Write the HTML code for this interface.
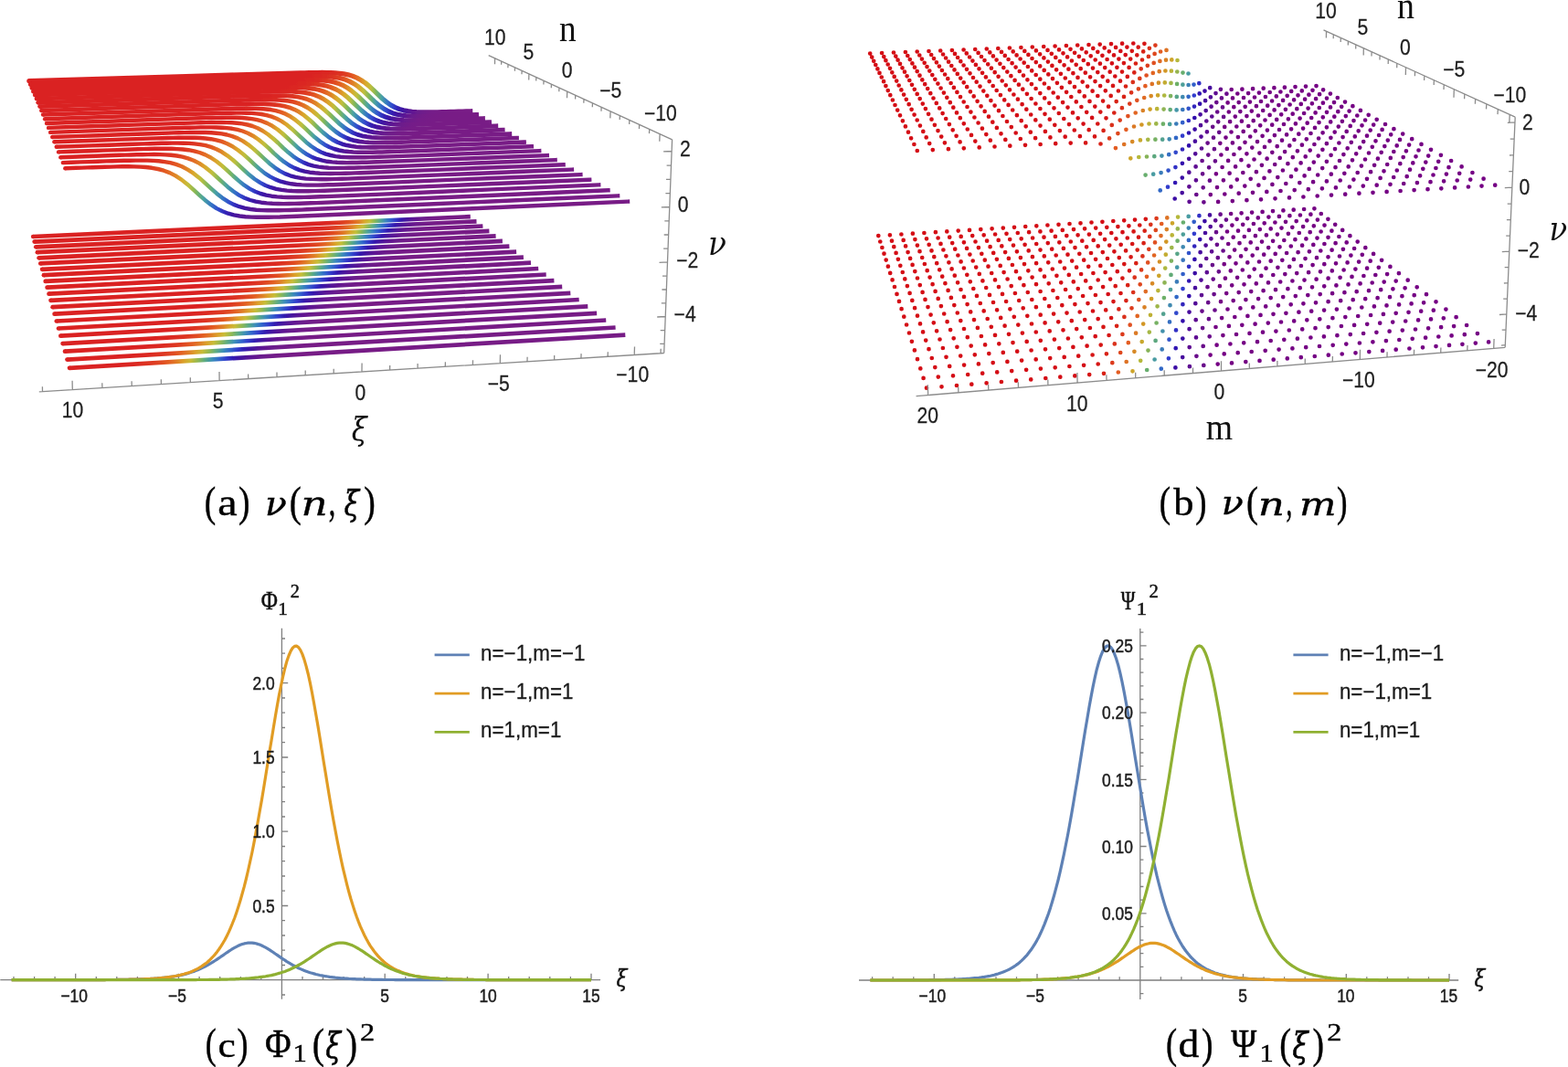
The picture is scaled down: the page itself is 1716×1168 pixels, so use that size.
<!DOCTYPE html>
<html><head><meta charset="utf-8"><title>figure</title><style>html,body{margin:0;padding:0;background:#fff;overflow:hidden}svg{display:block}</style></head><body>
<svg width="1716" height="1168" viewBox="0 0 1716 1168"><defs><linearGradient id="gl20" gradientUnits="userSpaceOnUse" x1="316.6" y1="0" x2="502.2" y2="0"><stop offset="0.000" stop-color="#da2122"/><stop offset="0.032" stop-color="#da2222"/><stop offset="0.064" stop-color="#da2222"/><stop offset="0.095" stop-color="#da2222"/><stop offset="0.127" stop-color="#da2322"/><stop offset="0.159" stop-color="#da2422"/><stop offset="0.190" stop-color="#db2622"/><stop offset="0.222" stop-color="#db2922"/><stop offset="0.253" stop-color="#dc2e22"/><stop offset="0.285" stop-color="#dd3523"/><stop offset="0.316" stop-color="#de3f23"/><stop offset="0.348" stop-color="#e14f23"/><stop offset="0.379" stop-color="#e26525"/><stop offset="0.411" stop-color="#df8128"/><stop offset="0.442" stop-color="#daa72c"/><stop offset="0.473" stop-color="#c4c03a"/><stop offset="0.505" stop-color="#87b858"/><stop offset="0.536" stop-color="#55a88f"/><stop offset="0.567" stop-color="#3b88bb"/><stop offset="0.598" stop-color="#3060cd"/><stop offset="0.629" stop-color="#3136c6"/><stop offset="0.660" stop-color="#3417ac"/><stop offset="0.691" stop-color="#47159e"/><stop offset="0.722" stop-color="#581796"/><stop offset="0.753" stop-color="#631990"/><stop offset="0.784" stop-color="#6b1a8d"/><stop offset="0.815" stop-color="#6f1b8a"/><stop offset="0.846" stop-color="#731b89"/><stop offset="0.877" stop-color="#751b88"/><stop offset="0.908" stop-color="#761c87"/><stop offset="0.939" stop-color="#771c87"/><stop offset="0.969" stop-color="#771c86"/><stop offset="1.000" stop-color="#771c86"/></linearGradient><linearGradient id="gl19" gradientUnits="userSpaceOnUse" x1="307.9" y1="0" x2="496.0" y2="0"><stop offset="0.000" stop-color="#da2122"/><stop offset="0.032" stop-color="#da2222"/><stop offset="0.064" stop-color="#da2222"/><stop offset="0.095" stop-color="#da2222"/><stop offset="0.127" stop-color="#da2322"/><stop offset="0.159" stop-color="#da2422"/><stop offset="0.190" stop-color="#db2622"/><stop offset="0.222" stop-color="#db2922"/><stop offset="0.253" stop-color="#dc2e22"/><stop offset="0.285" stop-color="#dd3523"/><stop offset="0.316" stop-color="#de3f23"/><stop offset="0.348" stop-color="#e14f23"/><stop offset="0.379" stop-color="#e26525"/><stop offset="0.411" stop-color="#df8128"/><stop offset="0.442" stop-color="#daa62c"/><stop offset="0.473" stop-color="#c4c03a"/><stop offset="0.505" stop-color="#88b857"/><stop offset="0.536" stop-color="#55a98e"/><stop offset="0.567" stop-color="#3b88bb"/><stop offset="0.598" stop-color="#3061cd"/><stop offset="0.629" stop-color="#3136c6"/><stop offset="0.660" stop-color="#3417ac"/><stop offset="0.691" stop-color="#47159e"/><stop offset="0.722" stop-color="#581796"/><stop offset="0.753" stop-color="#631990"/><stop offset="0.784" stop-color="#6b1a8d"/><stop offset="0.815" stop-color="#6f1b8a"/><stop offset="0.846" stop-color="#731b89"/><stop offset="0.877" stop-color="#741b88"/><stop offset="0.908" stop-color="#761c87"/><stop offset="0.939" stop-color="#771c87"/><stop offset="0.969" stop-color="#771c86"/><stop offset="1.000" stop-color="#771c86"/></linearGradient><linearGradient id="gl18" gradientUnits="userSpaceOnUse" x1="299.1" y1="0" x2="489.6" y2="0"><stop offset="0.000" stop-color="#da2122"/><stop offset="0.032" stop-color="#da2222"/><stop offset="0.064" stop-color="#da2222"/><stop offset="0.095" stop-color="#da2222"/><stop offset="0.127" stop-color="#da2322"/><stop offset="0.159" stop-color="#da2422"/><stop offset="0.190" stop-color="#db2622"/><stop offset="0.222" stop-color="#db2922"/><stop offset="0.254" stop-color="#dc2e22"/><stop offset="0.285" stop-color="#dd3423"/><stop offset="0.317" stop-color="#de3f23"/><stop offset="0.348" stop-color="#e14e23"/><stop offset="0.379" stop-color="#e26425"/><stop offset="0.411" stop-color="#df8128"/><stop offset="0.442" stop-color="#daa62c"/><stop offset="0.473" stop-color="#c4c03a"/><stop offset="0.505" stop-color="#88b857"/><stop offset="0.536" stop-color="#55a98e"/><stop offset="0.567" stop-color="#3b89bb"/><stop offset="0.598" stop-color="#3061cd"/><stop offset="0.629" stop-color="#3137c7"/><stop offset="0.660" stop-color="#3417ac"/><stop offset="0.692" stop-color="#47159f"/><stop offset="0.723" stop-color="#581796"/><stop offset="0.753" stop-color="#631990"/><stop offset="0.784" stop-color="#6b1a8d"/><stop offset="0.815" stop-color="#6f1b8a"/><stop offset="0.846" stop-color="#721b89"/><stop offset="0.877" stop-color="#741b88"/><stop offset="0.908" stop-color="#761c87"/><stop offset="0.939" stop-color="#771c87"/><stop offset="0.969" stop-color="#771c86"/><stop offset="1.000" stop-color="#771c86"/></linearGradient><linearGradient id="gl17" gradientUnits="userSpaceOnUse" x1="289.9" y1="0" x2="483.1" y2="0"><stop offset="0.000" stop-color="#da2122"/><stop offset="0.032" stop-color="#da2222"/><stop offset="0.064" stop-color="#da2222"/><stop offset="0.095" stop-color="#da2222"/><stop offset="0.127" stop-color="#da2322"/><stop offset="0.159" stop-color="#da2422"/><stop offset="0.190" stop-color="#db2622"/><stop offset="0.222" stop-color="#db2922"/><stop offset="0.254" stop-color="#dc2e22"/><stop offset="0.285" stop-color="#dd3423"/><stop offset="0.317" stop-color="#de3f23"/><stop offset="0.348" stop-color="#e14e23"/><stop offset="0.379" stop-color="#e26425"/><stop offset="0.411" stop-color="#df8028"/><stop offset="0.442" stop-color="#daa62c"/><stop offset="0.473" stop-color="#c5bf3a"/><stop offset="0.505" stop-color="#89b857"/><stop offset="0.536" stop-color="#56a98d"/><stop offset="0.567" stop-color="#3b89ba"/><stop offset="0.598" stop-color="#3062cd"/><stop offset="0.629" stop-color="#3137c7"/><stop offset="0.661" stop-color="#3318ad"/><stop offset="0.692" stop-color="#47159f"/><stop offset="0.723" stop-color="#581796"/><stop offset="0.754" stop-color="#631990"/><stop offset="0.784" stop-color="#6b1a8d"/><stop offset="0.815" stop-color="#6f1b8a"/><stop offset="0.846" stop-color="#721b89"/><stop offset="0.877" stop-color="#741b88"/><stop offset="0.908" stop-color="#761c87"/><stop offset="0.939" stop-color="#771c87"/><stop offset="0.969" stop-color="#771c86"/><stop offset="1.000" stop-color="#771c86"/></linearGradient><linearGradient id="gl16" gradientUnits="userSpaceOnUse" x1="280.6" y1="0" x2="476.4" y2="0"><stop offset="0.000" stop-color="#da2122"/><stop offset="0.032" stop-color="#da2222"/><stop offset="0.064" stop-color="#da2222"/><stop offset="0.095" stop-color="#da2222"/><stop offset="0.127" stop-color="#da2322"/><stop offset="0.159" stop-color="#da2422"/><stop offset="0.190" stop-color="#db2622"/><stop offset="0.222" stop-color="#db2922"/><stop offset="0.254" stop-color="#dc2d22"/><stop offset="0.285" stop-color="#dd3423"/><stop offset="0.317" stop-color="#de3f23"/><stop offset="0.348" stop-color="#e14e23"/><stop offset="0.380" stop-color="#e26425"/><stop offset="0.411" stop-color="#df8028"/><stop offset="0.442" stop-color="#daa52c"/><stop offset="0.474" stop-color="#c5bf39"/><stop offset="0.505" stop-color="#8ab857"/><stop offset="0.536" stop-color="#56a98c"/><stop offset="0.567" stop-color="#3b8aba"/><stop offset="0.598" stop-color="#3062cd"/><stop offset="0.629" stop-color="#3137c7"/><stop offset="0.661" stop-color="#3318ad"/><stop offset="0.692" stop-color="#47159f"/><stop offset="0.723" stop-color="#581796"/><stop offset="0.754" stop-color="#631990"/><stop offset="0.785" stop-color="#6a1a8d"/><stop offset="0.815" stop-color="#6f1b8a"/><stop offset="0.846" stop-color="#721b89"/><stop offset="0.877" stop-color="#741b88"/><stop offset="0.908" stop-color="#761c87"/><stop offset="0.939" stop-color="#771c87"/><stop offset="0.969" stop-color="#771c86"/><stop offset="1.000" stop-color="#771c86"/></linearGradient><linearGradient id="gl15" gradientUnits="userSpaceOnUse" x1="271.0" y1="0" x2="469.5" y2="0"><stop offset="0.000" stop-color="#da2122"/><stop offset="0.032" stop-color="#da2222"/><stop offset="0.064" stop-color="#da2222"/><stop offset="0.095" stop-color="#da2222"/><stop offset="0.127" stop-color="#da2322"/><stop offset="0.159" stop-color="#da2422"/><stop offset="0.190" stop-color="#db2622"/><stop offset="0.222" stop-color="#db2922"/><stop offset="0.254" stop-color="#dc2d22"/><stop offset="0.285" stop-color="#dd3423"/><stop offset="0.317" stop-color="#de3f23"/><stop offset="0.348" stop-color="#e14e23"/><stop offset="0.380" stop-color="#e26425"/><stop offset="0.411" stop-color="#df8028"/><stop offset="0.442" stop-color="#daa52c"/><stop offset="0.474" stop-color="#c5bf39"/><stop offset="0.505" stop-color="#8ab856"/><stop offset="0.536" stop-color="#57a98c"/><stop offset="0.567" stop-color="#3b8aba"/><stop offset="0.598" stop-color="#3063cd"/><stop offset="0.630" stop-color="#3138c8"/><stop offset="0.661" stop-color="#3318ad"/><stop offset="0.692" stop-color="#46159f"/><stop offset="0.723" stop-color="#581796"/><stop offset="0.754" stop-color="#631991"/><stop offset="0.785" stop-color="#6a1a8d"/><stop offset="0.815" stop-color="#6f1b8a"/><stop offset="0.846" stop-color="#721b89"/><stop offset="0.877" stop-color="#741b88"/><stop offset="0.908" stop-color="#761c87"/><stop offset="0.939" stop-color="#771c87"/><stop offset="0.969" stop-color="#771c86"/><stop offset="1.000" stop-color="#771c86"/></linearGradient><linearGradient id="gl14" gradientUnits="userSpaceOnUse" x1="261.2" y1="0" x2="462.4" y2="0"><stop offset="0.000" stop-color="#da2122"/><stop offset="0.032" stop-color="#da2222"/><stop offset="0.064" stop-color="#da2222"/><stop offset="0.095" stop-color="#da2222"/><stop offset="0.127" stop-color="#da2322"/><stop offset="0.159" stop-color="#da2422"/><stop offset="0.191" stop-color="#db2622"/><stop offset="0.222" stop-color="#db2922"/><stop offset="0.254" stop-color="#dc2d22"/><stop offset="0.285" stop-color="#dd3423"/><stop offset="0.317" stop-color="#de3e23"/><stop offset="0.348" stop-color="#e04e23"/><stop offset="0.380" stop-color="#e26324"/><stop offset="0.411" stop-color="#df7f28"/><stop offset="0.442" stop-color="#daa42c"/><stop offset="0.474" stop-color="#c5be39"/><stop offset="0.505" stop-color="#8bb856"/><stop offset="0.536" stop-color="#57aa8b"/><stop offset="0.567" stop-color="#3c8bba"/><stop offset="0.599" stop-color="#3063cd"/><stop offset="0.630" stop-color="#3138c8"/><stop offset="0.661" stop-color="#3318ad"/><stop offset="0.692" stop-color="#46159f"/><stop offset="0.723" stop-color="#571796"/><stop offset="0.754" stop-color="#631991"/><stop offset="0.785" stop-color="#6a1a8d"/><stop offset="0.815" stop-color="#6f1b8a"/><stop offset="0.846" stop-color="#721b89"/><stop offset="0.877" stop-color="#741b88"/><stop offset="0.908" stop-color="#761c87"/><stop offset="0.939" stop-color="#771c87"/><stop offset="0.969" stop-color="#771c86"/><stop offset="1.000" stop-color="#771c86"/></linearGradient><linearGradient id="gl13" gradientUnits="userSpaceOnUse" x1="251.1" y1="0" x2="455.2" y2="0"><stop offset="0.000" stop-color="#da2122"/><stop offset="0.032" stop-color="#da2222"/><stop offset="0.064" stop-color="#da2222"/><stop offset="0.095" stop-color="#da2222"/><stop offset="0.127" stop-color="#da2322"/><stop offset="0.159" stop-color="#da2422"/><stop offset="0.191" stop-color="#db2622"/><stop offset="0.222" stop-color="#db2922"/><stop offset="0.254" stop-color="#dc2d22"/><stop offset="0.285" stop-color="#dd3423"/><stop offset="0.317" stop-color="#de3e23"/><stop offset="0.348" stop-color="#e04d23"/><stop offset="0.380" stop-color="#e26324"/><stop offset="0.411" stop-color="#df7f28"/><stop offset="0.442" stop-color="#daa42c"/><stop offset="0.474" stop-color="#c6be39"/><stop offset="0.505" stop-color="#8bb856"/><stop offset="0.536" stop-color="#58aa8a"/><stop offset="0.567" stop-color="#3c8bba"/><stop offset="0.599" stop-color="#3064cd"/><stop offset="0.630" stop-color="#3138c8"/><stop offset="0.661" stop-color="#3319ae"/><stop offset="0.692" stop-color="#46159f"/><stop offset="0.723" stop-color="#571796"/><stop offset="0.754" stop-color="#631991"/><stop offset="0.785" stop-color="#6a1a8d"/><stop offset="0.816" stop-color="#6f1b8a"/><stop offset="0.846" stop-color="#721b89"/><stop offset="0.877" stop-color="#741b88"/><stop offset="0.908" stop-color="#761c87"/><stop offset="0.939" stop-color="#771c87"/><stop offset="0.969" stop-color="#771c86"/><stop offset="1.000" stop-color="#771c86"/></linearGradient><linearGradient id="gl12" gradientUnits="userSpaceOnUse" x1="240.7" y1="0" x2="447.8" y2="0"><stop offset="0.000" stop-color="#da2122"/><stop offset="0.032" stop-color="#da2222"/><stop offset="0.064" stop-color="#da2222"/><stop offset="0.095" stop-color="#da2222"/><stop offset="0.127" stop-color="#da2322"/><stop offset="0.159" stop-color="#da2422"/><stop offset="0.191" stop-color="#db2622"/><stop offset="0.222" stop-color="#db2922"/><stop offset="0.254" stop-color="#dc2d22"/><stop offset="0.285" stop-color="#dd3423"/><stop offset="0.317" stop-color="#de3e23"/><stop offset="0.348" stop-color="#e04d23"/><stop offset="0.380" stop-color="#e36324"/><stop offset="0.411" stop-color="#df7f27"/><stop offset="0.442" stop-color="#dba42c"/><stop offset="0.474" stop-color="#c6be39"/><stop offset="0.505" stop-color="#8cb855"/><stop offset="0.536" stop-color="#58aa89"/><stop offset="0.567" stop-color="#3c8bb9"/><stop offset="0.599" stop-color="#3064cd"/><stop offset="0.630" stop-color="#3039c9"/><stop offset="0.661" stop-color="#3319ae"/><stop offset="0.692" stop-color="#46159f"/><stop offset="0.723" stop-color="#571796"/><stop offset="0.754" stop-color="#631991"/><stop offset="0.785" stop-color="#6a1a8d"/><stop offset="0.816" stop-color="#6f1b8a"/><stop offset="0.846" stop-color="#721b89"/><stop offset="0.877" stop-color="#741b88"/><stop offset="0.908" stop-color="#761c87"/><stop offset="0.939" stop-color="#771c87"/><stop offset="0.969" stop-color="#771c86"/><stop offset="1.000" stop-color="#771c86"/></linearGradient><linearGradient id="gl11" gradientUnits="userSpaceOnUse" x1="230.0" y1="0" x2="440.1" y2="0"><stop offset="0.000" stop-color="#da2122"/><stop offset="0.032" stop-color="#da2222"/><stop offset="0.064" stop-color="#da2222"/><stop offset="0.096" stop-color="#da2222"/><stop offset="0.127" stop-color="#da2322"/><stop offset="0.159" stop-color="#da2422"/><stop offset="0.191" stop-color="#db2622"/><stop offset="0.222" stop-color="#db2922"/><stop offset="0.254" stop-color="#dc2d22"/><stop offset="0.285" stop-color="#dd3423"/><stop offset="0.317" stop-color="#de3e23"/><stop offset="0.348" stop-color="#e04d23"/><stop offset="0.380" stop-color="#e36324"/><stop offset="0.411" stop-color="#df7e27"/><stop offset="0.443" stop-color="#dba32b"/><stop offset="0.474" stop-color="#c6be39"/><stop offset="0.505" stop-color="#8db855"/><stop offset="0.536" stop-color="#58aa89"/><stop offset="0.568" stop-color="#3c8cb9"/><stop offset="0.599" stop-color="#3065cd"/><stop offset="0.630" stop-color="#3039c9"/><stop offset="0.661" stop-color="#3319ae"/><stop offset="0.692" stop-color="#46159f"/><stop offset="0.723" stop-color="#571797"/><stop offset="0.754" stop-color="#631991"/><stop offset="0.785" stop-color="#6a1a8d"/><stop offset="0.816" stop-color="#6f1b8a"/><stop offset="0.846" stop-color="#721b89"/><stop offset="0.877" stop-color="#741b88"/><stop offset="0.908" stop-color="#761c87"/><stop offset="0.939" stop-color="#771c87"/><stop offset="0.969" stop-color="#771c86"/><stop offset="1.000" stop-color="#771c86"/></linearGradient><linearGradient id="gl10" gradientUnits="userSpaceOnUse" x1="219.0" y1="0" x2="432.3" y2="0"><stop offset="0.000" stop-color="#da2122"/><stop offset="0.032" stop-color="#da2222"/><stop offset="0.064" stop-color="#da2222"/><stop offset="0.096" stop-color="#da2222"/><stop offset="0.127" stop-color="#da2322"/><stop offset="0.159" stop-color="#da2422"/><stop offset="0.191" stop-color="#db2622"/><stop offset="0.222" stop-color="#db2922"/><stop offset="0.254" stop-color="#dc2d22"/><stop offset="0.285" stop-color="#dd3423"/><stop offset="0.317" stop-color="#de3e23"/><stop offset="0.348" stop-color="#e04d23"/><stop offset="0.380" stop-color="#e36224"/><stop offset="0.411" stop-color="#df7e27"/><stop offset="0.443" stop-color="#dba32b"/><stop offset="0.474" stop-color="#c6bd39"/><stop offset="0.505" stop-color="#8db855"/><stop offset="0.536" stop-color="#59aa88"/><stop offset="0.568" stop-color="#3c8cb9"/><stop offset="0.599" stop-color="#3065cd"/><stop offset="0.630" stop-color="#303ac9"/><stop offset="0.661" stop-color="#3319ae"/><stop offset="0.692" stop-color="#45159f"/><stop offset="0.723" stop-color="#571797"/><stop offset="0.754" stop-color="#621991"/><stop offset="0.785" stop-color="#6a1a8d"/><stop offset="0.816" stop-color="#6f1b8a"/><stop offset="0.846" stop-color="#721b89"/><stop offset="0.877" stop-color="#741b88"/><stop offset="0.908" stop-color="#761c87"/><stop offset="0.939" stop-color="#771c87"/><stop offset="0.969" stop-color="#771c86"/><stop offset="1.000" stop-color="#771c86"/></linearGradient><linearGradient id="gl9" gradientUnits="userSpaceOnUse" x1="207.7" y1="0" x2="424.2" y2="0"><stop offset="0.000" stop-color="#da2122"/><stop offset="0.032" stop-color="#da2222"/><stop offset="0.064" stop-color="#da2222"/><stop offset="0.096" stop-color="#da2222"/><stop offset="0.127" stop-color="#da2322"/><stop offset="0.159" stop-color="#da2422"/><stop offset="0.191" stop-color="#db2622"/><stop offset="0.222" stop-color="#db2922"/><stop offset="0.254" stop-color="#dc2d22"/><stop offset="0.286" stop-color="#dd3423"/><stop offset="0.317" stop-color="#de3e23"/><stop offset="0.349" stop-color="#e04d23"/><stop offset="0.380" stop-color="#e36224"/><stop offset="0.411" stop-color="#df7e27"/><stop offset="0.443" stop-color="#dba22b"/><stop offset="0.474" stop-color="#c7bd38"/><stop offset="0.505" stop-color="#8eb854"/><stop offset="0.537" stop-color="#59ab87"/><stop offset="0.568" stop-color="#3c8db9"/><stop offset="0.599" stop-color="#3065cc"/><stop offset="0.630" stop-color="#303aca"/><stop offset="0.661" stop-color="#331aae"/><stop offset="0.692" stop-color="#45159f"/><stop offset="0.723" stop-color="#571797"/><stop offset="0.754" stop-color="#621991"/><stop offset="0.785" stop-color="#6a1a8d"/><stop offset="0.816" stop-color="#6f1b8a"/><stop offset="0.847" stop-color="#721b89"/><stop offset="0.877" stop-color="#741b88"/><stop offset="0.908" stop-color="#761c87"/><stop offset="0.939" stop-color="#771c87"/><stop offset="0.969" stop-color="#771c86"/><stop offset="1.000" stop-color="#771c86"/></linearGradient><linearGradient id="gl8" gradientUnits="userSpaceOnUse" x1="196.1" y1="0" x2="415.9" y2="0"><stop offset="0.000" stop-color="#da2122"/><stop offset="0.032" stop-color="#da2222"/><stop offset="0.064" stop-color="#da2222"/><stop offset="0.096" stop-color="#da2222"/><stop offset="0.127" stop-color="#da2322"/><stop offset="0.159" stop-color="#da2422"/><stop offset="0.191" stop-color="#db2622"/><stop offset="0.222" stop-color="#db2922"/><stop offset="0.254" stop-color="#dc2d22"/><stop offset="0.286" stop-color="#dd3423"/><stop offset="0.317" stop-color="#de3e23"/><stop offset="0.349" stop-color="#e04d23"/><stop offset="0.380" stop-color="#e36224"/><stop offset="0.411" stop-color="#df7d27"/><stop offset="0.443" stop-color="#dba22b"/><stop offset="0.474" stop-color="#c7bd38"/><stop offset="0.505" stop-color="#8fb954"/><stop offset="0.537" stop-color="#5aab87"/><stop offset="0.568" stop-color="#3c8db8"/><stop offset="0.599" stop-color="#3166cc"/><stop offset="0.630" stop-color="#303aca"/><stop offset="0.661" stop-color="#331aaf"/><stop offset="0.692" stop-color="#4514a0"/><stop offset="0.723" stop-color="#571797"/><stop offset="0.754" stop-color="#621991"/><stop offset="0.785" stop-color="#6a1a8d"/><stop offset="0.816" stop-color="#6f1b8a"/><stop offset="0.847" stop-color="#721b89"/><stop offset="0.877" stop-color="#741b88"/><stop offset="0.908" stop-color="#761c87"/><stop offset="0.939" stop-color="#761c87"/><stop offset="0.969" stop-color="#771c86"/><stop offset="1.000" stop-color="#771c86"/></linearGradient><linearGradient id="gl7" gradientUnits="userSpaceOnUse" x1="184.2" y1="0" x2="407.4" y2="0"><stop offset="0.000" stop-color="#da2122"/><stop offset="0.032" stop-color="#da2222"/><stop offset="0.064" stop-color="#da2222"/><stop offset="0.096" stop-color="#da2222"/><stop offset="0.127" stop-color="#da2322"/><stop offset="0.159" stop-color="#da2422"/><stop offset="0.191" stop-color="#db2622"/><stop offset="0.222" stop-color="#db2922"/><stop offset="0.254" stop-color="#dc2d22"/><stop offset="0.286" stop-color="#dd3423"/><stop offset="0.317" stop-color="#de3e23"/><stop offset="0.349" stop-color="#e04c23"/><stop offset="0.380" stop-color="#e36224"/><stop offset="0.412" stop-color="#df7d27"/><stop offset="0.443" stop-color="#dba22b"/><stop offset="0.474" stop-color="#c7bd38"/><stop offset="0.505" stop-color="#8fb954"/><stop offset="0.537" stop-color="#5aab86"/><stop offset="0.568" stop-color="#3c8eb8"/><stop offset="0.599" stop-color="#3166cc"/><stop offset="0.630" stop-color="#303bca"/><stop offset="0.661" stop-color="#331aaf"/><stop offset="0.692" stop-color="#4514a0"/><stop offset="0.723" stop-color="#561797"/><stop offset="0.754" stop-color="#621991"/><stop offset="0.785" stop-color="#6a1a8d"/><stop offset="0.816" stop-color="#6f1b8b"/><stop offset="0.847" stop-color="#721b89"/><stop offset="0.877" stop-color="#741b88"/><stop offset="0.908" stop-color="#761c87"/><stop offset="0.939" stop-color="#761c87"/><stop offset="0.969" stop-color="#771c86"/><stop offset="1.000" stop-color="#771c86"/></linearGradient><linearGradient id="gl6" gradientUnits="userSpaceOnUse" x1="171.9" y1="0" x2="398.6" y2="0"><stop offset="0.000" stop-color="#da2122"/><stop offset="0.032" stop-color="#da2222"/><stop offset="0.064" stop-color="#da2222"/><stop offset="0.096" stop-color="#da2222"/><stop offset="0.127" stop-color="#da2322"/><stop offset="0.159" stop-color="#da2422"/><stop offset="0.191" stop-color="#db2622"/><stop offset="0.223" stop-color="#db2922"/><stop offset="0.254" stop-color="#dc2d22"/><stop offset="0.286" stop-color="#dd3323"/><stop offset="0.317" stop-color="#de3d23"/><stop offset="0.349" stop-color="#e04c23"/><stop offset="0.380" stop-color="#e36124"/><stop offset="0.412" stop-color="#df7d27"/><stop offset="0.443" stop-color="#dba12b"/><stop offset="0.474" stop-color="#c7bc38"/><stop offset="0.506" stop-color="#90b953"/><stop offset="0.537" stop-color="#5bab85"/><stop offset="0.568" stop-color="#3d8eb8"/><stop offset="0.599" stop-color="#3166cc"/><stop offset="0.630" stop-color="#303bcb"/><stop offset="0.661" stop-color="#331aaf"/><stop offset="0.692" stop-color="#4414a0"/><stop offset="0.723" stop-color="#561797"/><stop offset="0.754" stop-color="#621991"/><stop offset="0.785" stop-color="#6a1a8d"/><stop offset="0.816" stop-color="#6f1b8b"/><stop offset="0.847" stop-color="#721b89"/><stop offset="0.877" stop-color="#741b88"/><stop offset="0.908" stop-color="#761c87"/><stop offset="0.939" stop-color="#761c87"/><stop offset="0.969" stop-color="#771c86"/><stop offset="1.000" stop-color="#771c86"/></linearGradient><linearGradient id="gl5" gradientUnits="userSpaceOnUse" x1="159.2" y1="0" x2="389.5" y2="0"><stop offset="0.000" stop-color="#da2122"/><stop offset="0.032" stop-color="#da2222"/><stop offset="0.064" stop-color="#da2222"/><stop offset="0.096" stop-color="#da2222"/><stop offset="0.127" stop-color="#da2322"/><stop offset="0.159" stop-color="#da2422"/><stop offset="0.191" stop-color="#db2622"/><stop offset="0.223" stop-color="#db2922"/><stop offset="0.254" stop-color="#dc2d22"/><stop offset="0.286" stop-color="#dd3323"/><stop offset="0.317" stop-color="#de3d23"/><stop offset="0.349" stop-color="#e04c23"/><stop offset="0.380" stop-color="#e36124"/><stop offset="0.412" stop-color="#df7d27"/><stop offset="0.443" stop-color="#dba12b"/><stop offset="0.474" stop-color="#c8bc38"/><stop offset="0.506" stop-color="#90b953"/><stop offset="0.537" stop-color="#5bab84"/><stop offset="0.568" stop-color="#3d8eb8"/><stop offset="0.599" stop-color="#3167cc"/><stop offset="0.630" stop-color="#303bcb"/><stop offset="0.661" stop-color="#331baf"/><stop offset="0.692" stop-color="#4414a0"/><stop offset="0.723" stop-color="#561797"/><stop offset="0.754" stop-color="#621991"/><stop offset="0.785" stop-color="#6a1a8d"/><stop offset="0.816" stop-color="#6f1b8b"/><stop offset="0.847" stop-color="#721b89"/><stop offset="0.877" stop-color="#741b88"/><stop offset="0.908" stop-color="#761c87"/><stop offset="0.939" stop-color="#761c87"/><stop offset="0.969" stop-color="#771c86"/><stop offset="1.000" stop-color="#771c86"/></linearGradient><linearGradient id="gl4" gradientUnits="userSpaceOnUse" x1="146.1" y1="0" x2="380.2" y2="0"><stop offset="0.000" stop-color="#da2122"/><stop offset="0.032" stop-color="#da2222"/><stop offset="0.064" stop-color="#da2222"/><stop offset="0.096" stop-color="#da2222"/><stop offset="0.128" stop-color="#da2322"/><stop offset="0.159" stop-color="#da2422"/><stop offset="0.191" stop-color="#db2622"/><stop offset="0.223" stop-color="#db2922"/><stop offset="0.254" stop-color="#dc2d22"/><stop offset="0.286" stop-color="#dd3323"/><stop offset="0.317" stop-color="#de3d23"/><stop offset="0.349" stop-color="#e04c23"/><stop offset="0.380" stop-color="#e36124"/><stop offset="0.412" stop-color="#df7c27"/><stop offset="0.443" stop-color="#dba02b"/><stop offset="0.474" stop-color="#c8bc38"/><stop offset="0.506" stop-color="#91b953"/><stop offset="0.537" stop-color="#5bac84"/><stop offset="0.568" stop-color="#3d8fb8"/><stop offset="0.599" stop-color="#3167cb"/><stop offset="0.630" stop-color="#303ccb"/><stop offset="0.661" stop-color="#331bb0"/><stop offset="0.692" stop-color="#4414a0"/><stop offset="0.723" stop-color="#561797"/><stop offset="0.754" stop-color="#621991"/><stop offset="0.785" stop-color="#6a1a8d"/><stop offset="0.816" stop-color="#6f1b8b"/><stop offset="0.847" stop-color="#721b89"/><stop offset="0.877" stop-color="#741b88"/><stop offset="0.908" stop-color="#761c87"/><stop offset="0.939" stop-color="#761c87"/><stop offset="0.969" stop-color="#771c86"/><stop offset="1.000" stop-color="#771c86"/></linearGradient><linearGradient id="gl3" gradientUnits="userSpaceOnUse" x1="132.6" y1="0" x2="370.6" y2="0"><stop offset="0.000" stop-color="#da2122"/><stop offset="0.032" stop-color="#da2222"/><stop offset="0.064" stop-color="#da2222"/><stop offset="0.096" stop-color="#da2222"/><stop offset="0.128" stop-color="#da2322"/><stop offset="0.159" stop-color="#da2422"/><stop offset="0.191" stop-color="#db2622"/><stop offset="0.223" stop-color="#db2922"/><stop offset="0.254" stop-color="#dc2d22"/><stop offset="0.286" stop-color="#dd3323"/><stop offset="0.317" stop-color="#de3d23"/><stop offset="0.349" stop-color="#e04c23"/><stop offset="0.380" stop-color="#e36124"/><stop offset="0.412" stop-color="#df7c27"/><stop offset="0.443" stop-color="#dba02b"/><stop offset="0.475" stop-color="#c8bc37"/><stop offset="0.506" stop-color="#92b953"/><stop offset="0.537" stop-color="#5cac83"/><stop offset="0.568" stop-color="#3d8fb7"/><stop offset="0.599" stop-color="#3167cb"/><stop offset="0.630" stop-color="#303ccb"/><stop offset="0.661" stop-color="#331bb0"/><stop offset="0.692" stop-color="#4414a0"/><stop offset="0.723" stop-color="#561797"/><stop offset="0.754" stop-color="#621991"/><stop offset="0.785" stop-color="#6a1a8d"/><stop offset="0.816" stop-color="#6f1b8b"/><stop offset="0.847" stop-color="#721b89"/><stop offset="0.878" stop-color="#741b88"/><stop offset="0.908" stop-color="#761c87"/><stop offset="0.939" stop-color="#761c87"/><stop offset="0.969" stop-color="#771c86"/><stop offset="1.000" stop-color="#771c86"/></linearGradient><linearGradient id="gl2" gradientUnits="userSpaceOnUse" x1="118.7" y1="0" x2="360.7" y2="0"><stop offset="0.000" stop-color="#da2122"/><stop offset="0.032" stop-color="#da2222"/><stop offset="0.064" stop-color="#da2222"/><stop offset="0.096" stop-color="#da2222"/><stop offset="0.128" stop-color="#da2322"/><stop offset="0.159" stop-color="#da2422"/><stop offset="0.191" stop-color="#db2622"/><stop offset="0.223" stop-color="#db2922"/><stop offset="0.254" stop-color="#dc2d22"/><stop offset="0.286" stop-color="#dd3323"/><stop offset="0.318" stop-color="#de3d23"/><stop offset="0.349" stop-color="#e04c23"/><stop offset="0.381" stop-color="#e36124"/><stop offset="0.412" stop-color="#df7c27"/><stop offset="0.443" stop-color="#db9f2b"/><stop offset="0.475" stop-color="#c8bb37"/><stop offset="0.506" stop-color="#92b952"/><stop offset="0.537" stop-color="#5cac82"/><stop offset="0.568" stop-color="#3d90b7"/><stop offset="0.599" stop-color="#3168cb"/><stop offset="0.630" stop-color="#303dcc"/><stop offset="0.662" stop-color="#331cb0"/><stop offset="0.693" stop-color="#4414a0"/><stop offset="0.723" stop-color="#561797"/><stop offset="0.754" stop-color="#621991"/><stop offset="0.785" stop-color="#6a1a8d"/><stop offset="0.816" stop-color="#6f1b8b"/><stop offset="0.847" stop-color="#721b89"/><stop offset="0.878" stop-color="#741b88"/><stop offset="0.908" stop-color="#761c87"/><stop offset="0.939" stop-color="#761c87"/><stop offset="0.969" stop-color="#771c86"/><stop offset="1.000" stop-color="#771c86"/></linearGradient><linearGradient id="gl1" gradientUnits="userSpaceOnUse" x1="104.3" y1="0" x2="350.5" y2="0"><stop offset="0.000" stop-color="#da2122"/><stop offset="0.032" stop-color="#da2222"/><stop offset="0.064" stop-color="#da2222"/><stop offset="0.096" stop-color="#da2222"/><stop offset="0.128" stop-color="#da2322"/><stop offset="0.159" stop-color="#da2422"/><stop offset="0.191" stop-color="#db2622"/><stop offset="0.223" stop-color="#db2922"/><stop offset="0.254" stop-color="#dc2d22"/><stop offset="0.286" stop-color="#dd3323"/><stop offset="0.318" stop-color="#de3d23"/><stop offset="0.349" stop-color="#e04b23"/><stop offset="0.381" stop-color="#e36024"/><stop offset="0.412" stop-color="#e07b27"/><stop offset="0.443" stop-color="#db9f2b"/><stop offset="0.475" stop-color="#c8bb37"/><stop offset="0.506" stop-color="#93b952"/><stop offset="0.537" stop-color="#5dac82"/><stop offset="0.568" stop-color="#3d90b7"/><stop offset="0.599" stop-color="#3168cb"/><stop offset="0.631" stop-color="#303dcc"/><stop offset="0.662" stop-color="#331cb0"/><stop offset="0.693" stop-color="#4314a0"/><stop offset="0.724" stop-color="#561797"/><stop offset="0.754" stop-color="#621991"/><stop offset="0.785" stop-color="#6a1a8d"/><stop offset="0.816" stop-color="#6f1b8b"/><stop offset="0.847" stop-color="#721b89"/><stop offset="0.878" stop-color="#741b88"/><stop offset="0.908" stop-color="#761c87"/><stop offset="0.939" stop-color="#761c87"/><stop offset="0.969" stop-color="#771c86"/><stop offset="1.000" stop-color="#771c86"/></linearGradient><linearGradient id="gl0" gradientUnits="userSpaceOnUse" x1="89.5" y1="0" x2="339.9" y2="0"><stop offset="0.000" stop-color="#da2122"/><stop offset="0.032" stop-color="#da2222"/><stop offset="0.064" stop-color="#da2222"/><stop offset="0.096" stop-color="#da2222"/><stop offset="0.128" stop-color="#da2322"/><stop offset="0.159" stop-color="#da2422"/><stop offset="0.191" stop-color="#db2622"/><stop offset="0.223" stop-color="#db2822"/><stop offset="0.255" stop-color="#dc2d22"/><stop offset="0.286" stop-color="#dd3323"/><stop offset="0.318" stop-color="#de3d23"/><stop offset="0.349" stop-color="#e04b23"/><stop offset="0.381" stop-color="#e36024"/><stop offset="0.412" stop-color="#e07b27"/><stop offset="0.443" stop-color="#db9f2b"/><stop offset="0.475" stop-color="#c9bb37"/><stop offset="0.506" stop-color="#94b952"/><stop offset="0.537" stop-color="#5dac81"/><stop offset="0.568" stop-color="#3d91b7"/><stop offset="0.600" stop-color="#3169cb"/><stop offset="0.631" stop-color="#303dcc"/><stop offset="0.662" stop-color="#331cb1"/><stop offset="0.693" stop-color="#4314a0"/><stop offset="0.724" stop-color="#551797"/><stop offset="0.755" stop-color="#621991"/><stop offset="0.785" stop-color="#6a1a8d"/><stop offset="0.816" stop-color="#6f1b8b"/><stop offset="0.847" stop-color="#721b89"/><stop offset="0.878" stop-color="#741b88"/><stop offset="0.908" stop-color="#761c87"/><stop offset="0.939" stop-color="#761c87"/><stop offset="0.969" stop-color="#771c86"/><stop offset="1.000" stop-color="#771c86"/></linearGradient><linearGradient id="gu20" gradientUnits="userSpaceOnUse" x1="316.7" y1="0" x2="504.3" y2="0"><stop offset="0.000" stop-color="#da2122"/><stop offset="0.032" stop-color="#da2122"/><stop offset="0.064" stop-color="#da2222"/><stop offset="0.096" stop-color="#da2222"/><stop offset="0.128" stop-color="#da2222"/><stop offset="0.159" stop-color="#da2322"/><stop offset="0.191" stop-color="#db2522"/><stop offset="0.223" stop-color="#db2722"/><stop offset="0.255" stop-color="#db2b22"/><stop offset="0.286" stop-color="#dc3123"/><stop offset="0.318" stop-color="#de3b23"/><stop offset="0.349" stop-color="#e04a23"/><stop offset="0.381" stop-color="#e36124"/><stop offset="0.412" stop-color="#df7f27"/><stop offset="0.443" stop-color="#daa72c"/><stop offset="0.475" stop-color="#bfbf3d"/><stop offset="0.506" stop-color="#7cb65d"/><stop offset="0.537" stop-color="#4aa3a2"/><stop offset="0.568" stop-color="#3679c2"/><stop offset="0.599" stop-color="#304ccd"/><stop offset="0.630" stop-color="#3224b7"/><stop offset="0.661" stop-color="#3f14a2"/><stop offset="0.692" stop-color="#541798"/><stop offset="0.723" stop-color="#621991"/><stop offset="0.753" stop-color="#6a1a8d"/><stop offset="0.784" stop-color="#6f1b8a"/><stop offset="0.815" stop-color="#731b89"/><stop offset="0.846" stop-color="#751c88"/><stop offset="0.877" stop-color="#761c87"/><stop offset="0.908" stop-color="#771c87"/><stop offset="0.939" stop-color="#771c86"/><stop offset="0.969" stop-color="#781c86"/><stop offset="1.000" stop-color="#781c86"/></linearGradient><linearGradient id="gu19" gradientUnits="userSpaceOnUse" x1="307.9" y1="0" x2="498.0" y2="0"><stop offset="0.000" stop-color="#da2122"/><stop offset="0.032" stop-color="#da2122"/><stop offset="0.064" stop-color="#da2222"/><stop offset="0.096" stop-color="#da2222"/><stop offset="0.128" stop-color="#da2222"/><stop offset="0.159" stop-color="#da2322"/><stop offset="0.191" stop-color="#db2522"/><stop offset="0.223" stop-color="#db2722"/><stop offset="0.255" stop-color="#db2b22"/><stop offset="0.286" stop-color="#dc3123"/><stop offset="0.318" stop-color="#de3b23"/><stop offset="0.349" stop-color="#e04a23"/><stop offset="0.381" stop-color="#e36124"/><stop offset="0.412" stop-color="#df7f27"/><stop offset="0.444" stop-color="#daa72c"/><stop offset="0.475" stop-color="#bfbf3d"/><stop offset="0.506" stop-color="#7cb65d"/><stop offset="0.537" stop-color="#4aa3a2"/><stop offset="0.568" stop-color="#3679c2"/><stop offset="0.599" stop-color="#304ccd"/><stop offset="0.630" stop-color="#3224b7"/><stop offset="0.661" stop-color="#3f14a2"/><stop offset="0.692" stop-color="#541798"/><stop offset="0.723" stop-color="#621991"/><stop offset="0.754" stop-color="#6a1a8d"/><stop offset="0.784" stop-color="#6f1b8a"/><stop offset="0.815" stop-color="#731b89"/><stop offset="0.846" stop-color="#751c88"/><stop offset="0.877" stop-color="#761c87"/><stop offset="0.908" stop-color="#771c87"/><stop offset="0.939" stop-color="#771c86"/><stop offset="0.969" stop-color="#781c86"/><stop offset="1.000" stop-color="#781c86"/></linearGradient><linearGradient id="gu18" gradientUnits="userSpaceOnUse" x1="298.9" y1="0" x2="491.6" y2="0"><stop offset="0.000" stop-color="#da2122"/><stop offset="0.032" stop-color="#da2122"/><stop offset="0.064" stop-color="#da2222"/><stop offset="0.096" stop-color="#da2222"/><stop offset="0.128" stop-color="#da2222"/><stop offset="0.159" stop-color="#da2322"/><stop offset="0.191" stop-color="#db2522"/><stop offset="0.223" stop-color="#db2722"/><stop offset="0.255" stop-color="#db2b22"/><stop offset="0.286" stop-color="#dc3123"/><stop offset="0.318" stop-color="#de3b23"/><stop offset="0.349" stop-color="#e04a23"/><stop offset="0.381" stop-color="#e36124"/><stop offset="0.412" stop-color="#df7f27"/><stop offset="0.444" stop-color="#daa72c"/><stop offset="0.475" stop-color="#bfbf3d"/><stop offset="0.506" stop-color="#7cb65d"/><stop offset="0.537" stop-color="#4aa3a2"/><stop offset="0.568" stop-color="#3679c2"/><stop offset="0.599" stop-color="#304ccd"/><stop offset="0.630" stop-color="#3224b7"/><stop offset="0.661" stop-color="#3f14a2"/><stop offset="0.692" stop-color="#541798"/><stop offset="0.723" stop-color="#621991"/><stop offset="0.754" stop-color="#6a1a8d"/><stop offset="0.785" stop-color="#6f1b8a"/><stop offset="0.815" stop-color="#731b89"/><stop offset="0.846" stop-color="#751c88"/><stop offset="0.877" stop-color="#761c87"/><stop offset="0.908" stop-color="#771c87"/><stop offset="0.939" stop-color="#771c86"/><stop offset="0.969" stop-color="#781c86"/><stop offset="1.000" stop-color="#781c86"/></linearGradient><linearGradient id="gu17" gradientUnits="userSpaceOnUse" x1="289.6" y1="0" x2="485.0" y2="0"><stop offset="0.000" stop-color="#da2122"/><stop offset="0.032" stop-color="#da2122"/><stop offset="0.064" stop-color="#da2222"/><stop offset="0.096" stop-color="#da2222"/><stop offset="0.128" stop-color="#da2222"/><stop offset="0.159" stop-color="#da2322"/><stop offset="0.191" stop-color="#db2522"/><stop offset="0.223" stop-color="#db2722"/><stop offset="0.255" stop-color="#db2b22"/><stop offset="0.286" stop-color="#dc3123"/><stop offset="0.318" stop-color="#de3b23"/><stop offset="0.349" stop-color="#e04a23"/><stop offset="0.381" stop-color="#e36124"/><stop offset="0.412" stop-color="#df7f27"/><stop offset="0.444" stop-color="#daa72c"/><stop offset="0.475" stop-color="#bfbf3d"/><stop offset="0.506" stop-color="#7cb65d"/><stop offset="0.537" stop-color="#4aa3a2"/><stop offset="0.568" stop-color="#3679c2"/><stop offset="0.599" stop-color="#304ccd"/><stop offset="0.630" stop-color="#3224b7"/><stop offset="0.661" stop-color="#3f14a2"/><stop offset="0.692" stop-color="#541798"/><stop offset="0.723" stop-color="#621991"/><stop offset="0.754" stop-color="#6a1a8d"/><stop offset="0.785" stop-color="#6f1b8a"/><stop offset="0.816" stop-color="#731b89"/><stop offset="0.846" stop-color="#751c88"/><stop offset="0.877" stop-color="#761c87"/><stop offset="0.908" stop-color="#771c87"/><stop offset="0.939" stop-color="#771c86"/><stop offset="0.969" stop-color="#781c86"/><stop offset="1.000" stop-color="#781c86"/></linearGradient><linearGradient id="gu16" gradientUnits="userSpaceOnUse" x1="280.2" y1="0" x2="478.2" y2="0"><stop offset="0.000" stop-color="#da2122"/><stop offset="0.032" stop-color="#da2122"/><stop offset="0.064" stop-color="#da2222"/><stop offset="0.096" stop-color="#da2222"/><stop offset="0.128" stop-color="#da2222"/><stop offset="0.159" stop-color="#da2322"/><stop offset="0.191" stop-color="#db2522"/><stop offset="0.223" stop-color="#db2722"/><stop offset="0.255" stop-color="#db2b22"/><stop offset="0.286" stop-color="#dc3123"/><stop offset="0.318" stop-color="#de3b23"/><stop offset="0.349" stop-color="#e04a23"/><stop offset="0.381" stop-color="#e36124"/><stop offset="0.412" stop-color="#df7f27"/><stop offset="0.444" stop-color="#daa72c"/><stop offset="0.475" stop-color="#bfbf3d"/><stop offset="0.506" stop-color="#7cb65d"/><stop offset="0.537" stop-color="#4aa3a2"/><stop offset="0.568" stop-color="#3679c2"/><stop offset="0.599" stop-color="#304ccd"/><stop offset="0.630" stop-color="#3224b7"/><stop offset="0.661" stop-color="#3f14a2"/><stop offset="0.692" stop-color="#541798"/><stop offset="0.723" stop-color="#621991"/><stop offset="0.754" stop-color="#6a1a8d"/><stop offset="0.785" stop-color="#6f1b8a"/><stop offset="0.816" stop-color="#731b89"/><stop offset="0.846" stop-color="#751c88"/><stop offset="0.877" stop-color="#761c87"/><stop offset="0.908" stop-color="#771c87"/><stop offset="0.939" stop-color="#771c86"/><stop offset="0.969" stop-color="#781c86"/><stop offset="1.000" stop-color="#781c86"/></linearGradient><linearGradient id="gu15" gradientUnits="userSpaceOnUse" x1="270.4" y1="0" x2="471.3" y2="0"><stop offset="0.000" stop-color="#da2122"/><stop offset="0.032" stop-color="#da2122"/><stop offset="0.064" stop-color="#da2222"/><stop offset="0.096" stop-color="#da2222"/><stop offset="0.128" stop-color="#da2222"/><stop offset="0.159" stop-color="#da2322"/><stop offset="0.191" stop-color="#db2522"/><stop offset="0.223" stop-color="#db2722"/><stop offset="0.255" stop-color="#db2b22"/><stop offset="0.286" stop-color="#dc3123"/><stop offset="0.318" stop-color="#de3b23"/><stop offset="0.349" stop-color="#e04a23"/><stop offset="0.381" stop-color="#e36124"/><stop offset="0.412" stop-color="#df7f27"/><stop offset="0.444" stop-color="#daa72c"/><stop offset="0.475" stop-color="#bfbf3d"/><stop offset="0.506" stop-color="#7cb65d"/><stop offset="0.537" stop-color="#4aa3a2"/><stop offset="0.568" stop-color="#3679c2"/><stop offset="0.599" stop-color="#304ccd"/><stop offset="0.630" stop-color="#3224b7"/><stop offset="0.661" stop-color="#3f14a2"/><stop offset="0.692" stop-color="#541798"/><stop offset="0.723" stop-color="#621991"/><stop offset="0.754" stop-color="#6a1a8d"/><stop offset="0.785" stop-color="#6f1b8a"/><stop offset="0.816" stop-color="#731b89"/><stop offset="0.846" stop-color="#751c88"/><stop offset="0.877" stop-color="#761c87"/><stop offset="0.908" stop-color="#771c87"/><stop offset="0.939" stop-color="#771c86"/><stop offset="0.969" stop-color="#781c86"/><stop offset="1.000" stop-color="#781c86"/></linearGradient><linearGradient id="gu14" gradientUnits="userSpaceOnUse" x1="260.4" y1="0" x2="464.2" y2="0"><stop offset="0.000" stop-color="#da2122"/><stop offset="0.032" stop-color="#da2122"/><stop offset="0.064" stop-color="#da2222"/><stop offset="0.096" stop-color="#da2222"/><stop offset="0.128" stop-color="#da2222"/><stop offset="0.159" stop-color="#da2322"/><stop offset="0.191" stop-color="#db2522"/><stop offset="0.223" stop-color="#db2722"/><stop offset="0.255" stop-color="#db2b22"/><stop offset="0.286" stop-color="#dc3123"/><stop offset="0.318" stop-color="#de3b23"/><stop offset="0.349" stop-color="#e04a23"/><stop offset="0.381" stop-color="#e36124"/><stop offset="0.412" stop-color="#df7f27"/><stop offset="0.444" stop-color="#daa72c"/><stop offset="0.475" stop-color="#bfbf3d"/><stop offset="0.506" stop-color="#7cb65d"/><stop offset="0.537" stop-color="#4aa3a2"/><stop offset="0.568" stop-color="#3679c2"/><stop offset="0.599" stop-color="#304ccd"/><stop offset="0.630" stop-color="#3224b7"/><stop offset="0.661" stop-color="#3f14a2"/><stop offset="0.692" stop-color="#541798"/><stop offset="0.723" stop-color="#621991"/><stop offset="0.754" stop-color="#6a1a8d"/><stop offset="0.785" stop-color="#6f1b8a"/><stop offset="0.816" stop-color="#731b89"/><stop offset="0.847" stop-color="#751c88"/><stop offset="0.877" stop-color="#761c87"/><stop offset="0.908" stop-color="#771c87"/><stop offset="0.939" stop-color="#771c86"/><stop offset="0.969" stop-color="#781c86"/><stop offset="1.000" stop-color="#781c86"/></linearGradient><linearGradient id="gu13" gradientUnits="userSpaceOnUse" x1="250.1" y1="0" x2="456.9" y2="0"><stop offset="0.000" stop-color="#da2122"/><stop offset="0.032" stop-color="#da2122"/><stop offset="0.064" stop-color="#da2222"/><stop offset="0.096" stop-color="#da2222"/><stop offset="0.128" stop-color="#da2222"/><stop offset="0.159" stop-color="#da2322"/><stop offset="0.191" stop-color="#db2522"/><stop offset="0.223" stop-color="#db2722"/><stop offset="0.255" stop-color="#db2b22"/><stop offset="0.286" stop-color="#dc3123"/><stop offset="0.318" stop-color="#de3b23"/><stop offset="0.349" stop-color="#e04a23"/><stop offset="0.381" stop-color="#e36124"/><stop offset="0.412" stop-color="#df7f27"/><stop offset="0.444" stop-color="#daa72c"/><stop offset="0.475" stop-color="#bfbf3d"/><stop offset="0.506" stop-color="#7cb65d"/><stop offset="0.537" stop-color="#4aa3a2"/><stop offset="0.568" stop-color="#3679c2"/><stop offset="0.599" stop-color="#304ccd"/><stop offset="0.630" stop-color="#3224b7"/><stop offset="0.661" stop-color="#3f14a2"/><stop offset="0.692" stop-color="#541798"/><stop offset="0.723" stop-color="#621991"/><stop offset="0.754" stop-color="#6a1a8d"/><stop offset="0.785" stop-color="#6f1b8a"/><stop offset="0.816" stop-color="#731b89"/><stop offset="0.847" stop-color="#751c88"/><stop offset="0.877" stop-color="#761c87"/><stop offset="0.908" stop-color="#771c87"/><stop offset="0.939" stop-color="#771c86"/><stop offset="0.969" stop-color="#781c86"/><stop offset="1.000" stop-color="#781c86"/></linearGradient><linearGradient id="gu12" gradientUnits="userSpaceOnUse" x1="239.5" y1="0" x2="449.4" y2="0"><stop offset="0.000" stop-color="#da2122"/><stop offset="0.032" stop-color="#da2122"/><stop offset="0.064" stop-color="#da2222"/><stop offset="0.096" stop-color="#da2222"/><stop offset="0.128" stop-color="#da2222"/><stop offset="0.159" stop-color="#da2322"/><stop offset="0.191" stop-color="#db2522"/><stop offset="0.223" stop-color="#db2722"/><stop offset="0.255" stop-color="#db2b22"/><stop offset="0.286" stop-color="#dc3123"/><stop offset="0.318" stop-color="#de3b23"/><stop offset="0.350" stop-color="#e04a23"/><stop offset="0.381" stop-color="#e36124"/><stop offset="0.412" stop-color="#df7f27"/><stop offset="0.444" stop-color="#daa72c"/><stop offset="0.475" stop-color="#bfbf3d"/><stop offset="0.506" stop-color="#7cb65d"/><stop offset="0.537" stop-color="#4aa3a2"/><stop offset="0.569" stop-color="#3679c2"/><stop offset="0.600" stop-color="#304ccd"/><stop offset="0.631" stop-color="#3224b7"/><stop offset="0.662" stop-color="#3f14a2"/><stop offset="0.692" stop-color="#541798"/><stop offset="0.723" stop-color="#621991"/><stop offset="0.754" stop-color="#6a1a8d"/><stop offset="0.785" stop-color="#6f1b8a"/><stop offset="0.816" stop-color="#731b89"/><stop offset="0.847" stop-color="#751c88"/><stop offset="0.877" stop-color="#761c87"/><stop offset="0.908" stop-color="#771c87"/><stop offset="0.939" stop-color="#771c86"/><stop offset="0.969" stop-color="#781c86"/><stop offset="1.000" stop-color="#781c86"/></linearGradient><linearGradient id="gu11" gradientUnits="userSpaceOnUse" x1="228.7" y1="0" x2="441.7" y2="0"><stop offset="0.000" stop-color="#da2122"/><stop offset="0.032" stop-color="#da2122"/><stop offset="0.064" stop-color="#da2222"/><stop offset="0.096" stop-color="#da2222"/><stop offset="0.128" stop-color="#da2222"/><stop offset="0.160" stop-color="#da2322"/><stop offset="0.191" stop-color="#db2522"/><stop offset="0.223" stop-color="#db2722"/><stop offset="0.255" stop-color="#db2b22"/><stop offset="0.286" stop-color="#dc3123"/><stop offset="0.318" stop-color="#de3b23"/><stop offset="0.350" stop-color="#e04a23"/><stop offset="0.381" stop-color="#e36124"/><stop offset="0.412" stop-color="#df7f27"/><stop offset="0.444" stop-color="#daa72c"/><stop offset="0.475" stop-color="#bfbf3d"/><stop offset="0.506" stop-color="#7cb65d"/><stop offset="0.538" stop-color="#4aa3a2"/><stop offset="0.569" stop-color="#3679c2"/><stop offset="0.600" stop-color="#304ccd"/><stop offset="0.631" stop-color="#3224b7"/><stop offset="0.662" stop-color="#3f14a2"/><stop offset="0.693" stop-color="#541798"/><stop offset="0.723" stop-color="#621991"/><stop offset="0.754" stop-color="#6a1a8d"/><stop offset="0.785" stop-color="#6f1b8a"/><stop offset="0.816" stop-color="#731b89"/><stop offset="0.847" stop-color="#751c88"/><stop offset="0.877" stop-color="#761c87"/><stop offset="0.908" stop-color="#771c87"/><stop offset="0.939" stop-color="#771c86"/><stop offset="0.969" stop-color="#781c86"/><stop offset="1.000" stop-color="#781c86"/></linearGradient><linearGradient id="gu10" gradientUnits="userSpaceOnUse" x1="217.5" y1="0" x2="433.7" y2="0"><stop offset="0.000" stop-color="#da2122"/><stop offset="0.032" stop-color="#da2122"/><stop offset="0.064" stop-color="#da2222"/><stop offset="0.096" stop-color="#da2222"/><stop offset="0.128" stop-color="#da2222"/><stop offset="0.160" stop-color="#da2322"/><stop offset="0.191" stop-color="#db2522"/><stop offset="0.223" stop-color="#db2722"/><stop offset="0.255" stop-color="#db2b22"/><stop offset="0.286" stop-color="#dc3123"/><stop offset="0.318" stop-color="#de3b23"/><stop offset="0.350" stop-color="#e04a23"/><stop offset="0.381" stop-color="#e36124"/><stop offset="0.413" stop-color="#df7f27"/><stop offset="0.444" stop-color="#daa72c"/><stop offset="0.475" stop-color="#bfbf3d"/><stop offset="0.507" stop-color="#7cb65d"/><stop offset="0.538" stop-color="#4aa3a2"/><stop offset="0.569" stop-color="#3679c2"/><stop offset="0.600" stop-color="#304ccd"/><stop offset="0.631" stop-color="#3224b7"/><stop offset="0.662" stop-color="#3f14a2"/><stop offset="0.693" stop-color="#541798"/><stop offset="0.724" stop-color="#621991"/><stop offset="0.754" stop-color="#6a1a8d"/><stop offset="0.785" stop-color="#6f1b8a"/><stop offset="0.816" stop-color="#731b89"/><stop offset="0.847" stop-color="#751c88"/><stop offset="0.878" stop-color="#761c87"/><stop offset="0.908" stop-color="#771c87"/><stop offset="0.939" stop-color="#771c86"/><stop offset="0.969" stop-color="#781c86"/><stop offset="1.000" stop-color="#781c86"/></linearGradient><linearGradient id="gu9" gradientUnits="userSpaceOnUse" x1="206.0" y1="0" x2="425.6" y2="0"><stop offset="0.000" stop-color="#da2122"/><stop offset="0.032" stop-color="#da2122"/><stop offset="0.064" stop-color="#da2222"/><stop offset="0.096" stop-color="#da2222"/><stop offset="0.128" stop-color="#da2222"/><stop offset="0.160" stop-color="#da2322"/><stop offset="0.191" stop-color="#db2522"/><stop offset="0.223" stop-color="#db2722"/><stop offset="0.255" stop-color="#db2b22"/><stop offset="0.286" stop-color="#dc3123"/><stop offset="0.318" stop-color="#de3b23"/><stop offset="0.350" stop-color="#e04a23"/><stop offset="0.381" stop-color="#e36124"/><stop offset="0.413" stop-color="#df7f27"/><stop offset="0.444" stop-color="#daa72c"/><stop offset="0.475" stop-color="#bfbf3d"/><stop offset="0.507" stop-color="#7cb65d"/><stop offset="0.538" stop-color="#4aa3a2"/><stop offset="0.569" stop-color="#3679c2"/><stop offset="0.600" stop-color="#304ccd"/><stop offset="0.631" stop-color="#3224b7"/><stop offset="0.662" stop-color="#3f14a2"/><stop offset="0.693" stop-color="#541798"/><stop offset="0.724" stop-color="#621991"/><stop offset="0.755" stop-color="#6a1a8d"/><stop offset="0.785" stop-color="#6f1b8a"/><stop offset="0.816" stop-color="#731b89"/><stop offset="0.847" stop-color="#751c88"/><stop offset="0.878" stop-color="#761c87"/><stop offset="0.908" stop-color="#771c87"/><stop offset="0.939" stop-color="#771c86"/><stop offset="0.969" stop-color="#781c86"/><stop offset="1.000" stop-color="#781c86"/></linearGradient><linearGradient id="gu8" gradientUnits="userSpaceOnUse" x1="194.1" y1="0" x2="417.2" y2="0"><stop offset="0.000" stop-color="#da2122"/><stop offset="0.032" stop-color="#da2122"/><stop offset="0.064" stop-color="#da2222"/><stop offset="0.096" stop-color="#da2222"/><stop offset="0.128" stop-color="#da2222"/><stop offset="0.160" stop-color="#da2322"/><stop offset="0.191" stop-color="#db2522"/><stop offset="0.223" stop-color="#db2722"/><stop offset="0.255" stop-color="#db2b22"/><stop offset="0.286" stop-color="#dc3123"/><stop offset="0.318" stop-color="#de3b23"/><stop offset="0.350" stop-color="#e04a23"/><stop offset="0.381" stop-color="#e36124"/><stop offset="0.413" stop-color="#df7f27"/><stop offset="0.444" stop-color="#daa72c"/><stop offset="0.475" stop-color="#bfbf3d"/><stop offset="0.507" stop-color="#7cb65d"/><stop offset="0.538" stop-color="#4aa3a2"/><stop offset="0.569" stop-color="#3679c2"/><stop offset="0.600" stop-color="#304ccd"/><stop offset="0.631" stop-color="#3224b7"/><stop offset="0.662" stop-color="#3f14a2"/><stop offset="0.693" stop-color="#541798"/><stop offset="0.724" stop-color="#621991"/><stop offset="0.755" stop-color="#6a1a8d"/><stop offset="0.786" stop-color="#6f1b8a"/><stop offset="0.816" stop-color="#731b89"/><stop offset="0.847" stop-color="#751c88"/><stop offset="0.878" stop-color="#761c87"/><stop offset="0.908" stop-color="#771c87"/><stop offset="0.939" stop-color="#771c86"/><stop offset="0.969" stop-color="#781c86"/><stop offset="1.000" stop-color="#781c86"/></linearGradient><linearGradient id="gu7" gradientUnits="userSpaceOnUse" x1="181.9" y1="0" x2="408.6" y2="0"><stop offset="0.000" stop-color="#da2122"/><stop offset="0.032" stop-color="#da2122"/><stop offset="0.064" stop-color="#da2222"/><stop offset="0.096" stop-color="#da2222"/><stop offset="0.128" stop-color="#da2222"/><stop offset="0.160" stop-color="#da2322"/><stop offset="0.191" stop-color="#db2522"/><stop offset="0.223" stop-color="#db2722"/><stop offset="0.255" stop-color="#db2b22"/><stop offset="0.286" stop-color="#dc3123"/><stop offset="0.318" stop-color="#de3b23"/><stop offset="0.350" stop-color="#e04a23"/><stop offset="0.381" stop-color="#e36124"/><stop offset="0.413" stop-color="#df7f27"/><stop offset="0.444" stop-color="#daa72c"/><stop offset="0.475" stop-color="#bfbf3d"/><stop offset="0.507" stop-color="#7cb65d"/><stop offset="0.538" stop-color="#4aa3a2"/><stop offset="0.569" stop-color="#3679c2"/><stop offset="0.600" stop-color="#304ccd"/><stop offset="0.631" stop-color="#3224b7"/><stop offset="0.662" stop-color="#3f14a2"/><stop offset="0.693" stop-color="#541798"/><stop offset="0.724" stop-color="#621991"/><stop offset="0.755" stop-color="#6a1a8d"/><stop offset="0.786" stop-color="#6f1b8a"/><stop offset="0.816" stop-color="#731b89"/><stop offset="0.847" stop-color="#751c88"/><stop offset="0.878" stop-color="#761c87"/><stop offset="0.908" stop-color="#771c87"/><stop offset="0.939" stop-color="#771c86"/><stop offset="0.969" stop-color="#781c86"/><stop offset="1.000" stop-color="#781c86"/></linearGradient><linearGradient id="gu6" gradientUnits="userSpaceOnUse" x1="169.3" y1="0" x2="399.7" y2="0"><stop offset="0.000" stop-color="#da2122"/><stop offset="0.032" stop-color="#da2122"/><stop offset="0.064" stop-color="#da2222"/><stop offset="0.096" stop-color="#da2222"/><stop offset="0.128" stop-color="#da2222"/><stop offset="0.160" stop-color="#da2322"/><stop offset="0.191" stop-color="#db2522"/><stop offset="0.223" stop-color="#db2722"/><stop offset="0.255" stop-color="#db2b22"/><stop offset="0.286" stop-color="#dc3123"/><stop offset="0.318" stop-color="#de3b23"/><stop offset="0.350" stop-color="#e04a23"/><stop offset="0.381" stop-color="#e36124"/><stop offset="0.413" stop-color="#df7f27"/><stop offset="0.444" stop-color="#daa72c"/><stop offset="0.476" stop-color="#bfbf3d"/><stop offset="0.507" stop-color="#7cb65d"/><stop offset="0.538" stop-color="#4aa3a2"/><stop offset="0.569" stop-color="#3679c2"/><stop offset="0.600" stop-color="#304ccd"/><stop offset="0.631" stop-color="#3224b7"/><stop offset="0.662" stop-color="#3f14a2"/><stop offset="0.693" stop-color="#541798"/><stop offset="0.724" stop-color="#621991"/><stop offset="0.755" stop-color="#6a1a8d"/><stop offset="0.786" stop-color="#6f1b8a"/><stop offset="0.816" stop-color="#731b89"/><stop offset="0.847" stop-color="#751c88"/><stop offset="0.878" stop-color="#761c87"/><stop offset="0.908" stop-color="#771c87"/><stop offset="0.939" stop-color="#771c86"/><stop offset="0.970" stop-color="#781c86"/><stop offset="1.000" stop-color="#781c86"/></linearGradient><linearGradient id="gu5" gradientUnits="userSpaceOnUse" x1="156.4" y1="0" x2="390.6" y2="0"><stop offset="0.000" stop-color="#da2122"/><stop offset="0.032" stop-color="#da2122"/><stop offset="0.064" stop-color="#da2222"/><stop offset="0.096" stop-color="#da2222"/><stop offset="0.128" stop-color="#da2222"/><stop offset="0.160" stop-color="#da2322"/><stop offset="0.191" stop-color="#db2522"/><stop offset="0.223" stop-color="#db2722"/><stop offset="0.255" stop-color="#db2b22"/><stop offset="0.286" stop-color="#dc3123"/><stop offset="0.318" stop-color="#de3b23"/><stop offset="0.350" stop-color="#e04a23"/><stop offset="0.381" stop-color="#e36124"/><stop offset="0.413" stop-color="#df7f27"/><stop offset="0.444" stop-color="#daa72c"/><stop offset="0.476" stop-color="#bfbf3d"/><stop offset="0.507" stop-color="#7cb65d"/><stop offset="0.538" stop-color="#4aa3a2"/><stop offset="0.569" stop-color="#3679c2"/><stop offset="0.601" stop-color="#304ccd"/><stop offset="0.632" stop-color="#3224b7"/><stop offset="0.663" stop-color="#3f14a2"/><stop offset="0.693" stop-color="#541798"/><stop offset="0.724" stop-color="#621991"/><stop offset="0.755" stop-color="#6a1a8d"/><stop offset="0.786" stop-color="#6f1b8a"/><stop offset="0.817" stop-color="#731b89"/><stop offset="0.847" stop-color="#751c88"/><stop offset="0.878" stop-color="#761c87"/><stop offset="0.908" stop-color="#771c87"/><stop offset="0.939" stop-color="#771c86"/><stop offset="0.970" stop-color="#781c86"/><stop offset="1.000" stop-color="#781c86"/></linearGradient><linearGradient id="gu4" gradientUnits="userSpaceOnUse" x1="143.0" y1="0" x2="381.1" y2="0"><stop offset="0.000" stop-color="#da2122"/><stop offset="0.032" stop-color="#da2122"/><stop offset="0.064" stop-color="#da2222"/><stop offset="0.096" stop-color="#da2222"/><stop offset="0.128" stop-color="#da2222"/><stop offset="0.160" stop-color="#da2322"/><stop offset="0.191" stop-color="#db2522"/><stop offset="0.223" stop-color="#db2722"/><stop offset="0.255" stop-color="#db2b22"/><stop offset="0.286" stop-color="#dc3123"/><stop offset="0.318" stop-color="#de3b23"/><stop offset="0.350" stop-color="#e04a23"/><stop offset="0.381" stop-color="#e36124"/><stop offset="0.413" stop-color="#df7f27"/><stop offset="0.444" stop-color="#daa72c"/><stop offset="0.476" stop-color="#bfbf3d"/><stop offset="0.507" stop-color="#7cb65d"/><stop offset="0.538" stop-color="#4aa3a2"/><stop offset="0.570" stop-color="#3679c2"/><stop offset="0.601" stop-color="#304ccd"/><stop offset="0.632" stop-color="#3224b7"/><stop offset="0.663" stop-color="#3f14a2"/><stop offset="0.694" stop-color="#541798"/><stop offset="0.724" stop-color="#621991"/><stop offset="0.755" stop-color="#6a1a8d"/><stop offset="0.786" stop-color="#6f1b8a"/><stop offset="0.817" stop-color="#731b89"/><stop offset="0.847" stop-color="#751c88"/><stop offset="0.878" stop-color="#761c87"/><stop offset="0.909" stop-color="#771c87"/><stop offset="0.939" stop-color="#771c86"/><stop offset="0.970" stop-color="#781c86"/><stop offset="1.000" stop-color="#781c86"/></linearGradient><linearGradient id="gu3" gradientUnits="userSpaceOnUse" x1="129.2" y1="0" x2="371.4" y2="0"><stop offset="0.000" stop-color="#da2122"/><stop offset="0.032" stop-color="#da2122"/><stop offset="0.064" stop-color="#da2222"/><stop offset="0.096" stop-color="#da2222"/><stop offset="0.128" stop-color="#da2222"/><stop offset="0.160" stop-color="#da2322"/><stop offset="0.191" stop-color="#db2522"/><stop offset="0.223" stop-color="#db2722"/><stop offset="0.255" stop-color="#db2b22"/><stop offset="0.287" stop-color="#dc3123"/><stop offset="0.318" stop-color="#de3b23"/><stop offset="0.350" stop-color="#e04a23"/><stop offset="0.381" stop-color="#e36124"/><stop offset="0.413" stop-color="#df7f27"/><stop offset="0.444" stop-color="#daa72c"/><stop offset="0.476" stop-color="#bfbf3d"/><stop offset="0.507" stop-color="#7cb65d"/><stop offset="0.539" stop-color="#4aa3a2"/><stop offset="0.570" stop-color="#3679c2"/><stop offset="0.601" stop-color="#304ccd"/><stop offset="0.632" stop-color="#3224b7"/><stop offset="0.663" stop-color="#3f14a2"/><stop offset="0.694" stop-color="#541798"/><stop offset="0.725" stop-color="#621991"/><stop offset="0.755" stop-color="#6a1a8d"/><stop offset="0.786" stop-color="#6f1b8a"/><stop offset="0.817" stop-color="#731b89"/><stop offset="0.847" stop-color="#751c88"/><stop offset="0.878" stop-color="#761c87"/><stop offset="0.909" stop-color="#771c87"/><stop offset="0.939" stop-color="#771c86"/><stop offset="0.970" stop-color="#781c86"/><stop offset="1.000" stop-color="#781c86"/></linearGradient><linearGradient id="gu2" gradientUnits="userSpaceOnUse" x1="115.0" y1="0" x2="361.4" y2="0"><stop offset="0.000" stop-color="#da2122"/><stop offset="0.032" stop-color="#da2122"/><stop offset="0.064" stop-color="#da2222"/><stop offset="0.096" stop-color="#da2222"/><stop offset="0.128" stop-color="#da2222"/><stop offset="0.160" stop-color="#da2322"/><stop offset="0.191" stop-color="#db2522"/><stop offset="0.223" stop-color="#db2722"/><stop offset="0.255" stop-color="#db2b22"/><stop offset="0.287" stop-color="#dc3123"/><stop offset="0.318" stop-color="#de3b23"/><stop offset="0.350" stop-color="#e04a23"/><stop offset="0.381" stop-color="#e36124"/><stop offset="0.413" stop-color="#df7f27"/><stop offset="0.444" stop-color="#daa72c"/><stop offset="0.476" stop-color="#bfbf3d"/><stop offset="0.507" stop-color="#7cb65d"/><stop offset="0.539" stop-color="#4aa3a2"/><stop offset="0.570" stop-color="#3679c2"/><stop offset="0.601" stop-color="#304ccd"/><stop offset="0.632" stop-color="#3224b7"/><stop offset="0.663" stop-color="#3f14a2"/><stop offset="0.694" stop-color="#541798"/><stop offset="0.725" stop-color="#621991"/><stop offset="0.756" stop-color="#6a1a8d"/><stop offset="0.786" stop-color="#6f1b8a"/><stop offset="0.817" stop-color="#731b89"/><stop offset="0.848" stop-color="#751c88"/><stop offset="0.878" stop-color="#761c87"/><stop offset="0.909" stop-color="#771c87"/><stop offset="0.939" stop-color="#771c86"/><stop offset="0.970" stop-color="#781c86"/><stop offset="1.000" stop-color="#781c86"/></linearGradient><linearGradient id="gu1" gradientUnits="userSpaceOnUse" x1="100.3" y1="0" x2="351.0" y2="0"><stop offset="0.000" stop-color="#da2122"/><stop offset="0.032" stop-color="#da2122"/><stop offset="0.064" stop-color="#da2222"/><stop offset="0.096" stop-color="#da2222"/><stop offset="0.128" stop-color="#da2222"/><stop offset="0.160" stop-color="#da2322"/><stop offset="0.191" stop-color="#db2522"/><stop offset="0.223" stop-color="#db2722"/><stop offset="0.255" stop-color="#db2b22"/><stop offset="0.287" stop-color="#dc3123"/><stop offset="0.318" stop-color="#de3b23"/><stop offset="0.350" stop-color="#e04a23"/><stop offset="0.381" stop-color="#e36124"/><stop offset="0.413" stop-color="#df7f27"/><stop offset="0.444" stop-color="#daa72c"/><stop offset="0.476" stop-color="#bfbf3d"/><stop offset="0.507" stop-color="#7cb65d"/><stop offset="0.539" stop-color="#4aa3a2"/><stop offset="0.570" stop-color="#3679c2"/><stop offset="0.601" stop-color="#304ccd"/><stop offset="0.632" stop-color="#3224b7"/><stop offset="0.663" stop-color="#3f14a2"/><stop offset="0.694" stop-color="#541798"/><stop offset="0.725" stop-color="#621991"/><stop offset="0.756" stop-color="#6a1a8d"/><stop offset="0.786" stop-color="#6f1b8a"/><stop offset="0.817" stop-color="#731b89"/><stop offset="0.848" stop-color="#751c88"/><stop offset="0.878" stop-color="#761c87"/><stop offset="0.909" stop-color="#771c87"/><stop offset="0.939" stop-color="#771c86"/><stop offset="0.970" stop-color="#781c86"/><stop offset="1.000" stop-color="#781c86"/></linearGradient><linearGradient id="gu0" gradientUnits="userSpaceOnUse" x1="85.1" y1="0" x2="340.4" y2="0"><stop offset="0.000" stop-color="#da2122"/><stop offset="0.032" stop-color="#da2122"/><stop offset="0.064" stop-color="#da2222"/><stop offset="0.096" stop-color="#da2222"/><stop offset="0.128" stop-color="#da2222"/><stop offset="0.160" stop-color="#da2322"/><stop offset="0.191" stop-color="#db2522"/><stop offset="0.223" stop-color="#db2722"/><stop offset="0.255" stop-color="#db2b22"/><stop offset="0.287" stop-color="#dc3123"/><stop offset="0.318" stop-color="#de3b23"/><stop offset="0.350" stop-color="#e04a23"/><stop offset="0.381" stop-color="#e36124"/><stop offset="0.413" stop-color="#df7f27"/><stop offset="0.445" stop-color="#daa72c"/><stop offset="0.476" stop-color="#bfbf3d"/><stop offset="0.508" stop-color="#7cb65d"/><stop offset="0.539" stop-color="#4aa3a2"/><stop offset="0.570" stop-color="#3679c2"/><stop offset="0.601" stop-color="#304ccd"/><stop offset="0.632" stop-color="#3224b7"/><stop offset="0.663" stop-color="#3f14a2"/><stop offset="0.694" stop-color="#541798"/><stop offset="0.725" stop-color="#621991"/><stop offset="0.756" stop-color="#6a1a8d"/><stop offset="0.786" stop-color="#6f1b8a"/><stop offset="0.817" stop-color="#731b89"/><stop offset="0.848" stop-color="#751c88"/><stop offset="0.878" stop-color="#761c87"/><stop offset="0.909" stop-color="#771c87"/><stop offset="0.939" stop-color="#771c86"/><stop offset="0.970" stop-color="#781c86"/><stop offset="1.000" stop-color="#781c86"/></linearGradient><filter id="bl" x="-5%" y="-5%" width="110%" height="110%"><feGaussianBlur stdDeviation="0.55"/></filter></defs><rect width="1716" height="1168" fill="#fff"/><g fill="none" stroke-width="4.7" stroke-linecap="butt" stroke-linejoin="round" filter="url(#bl)"><path d="M36.2 259.0 L514.8 237.1" stroke="url(#gl20)"/><path d="M37.7 264.6 L521.5 242.3" stroke="url(#gl19)"/><path d="M39.3 270.3 L528.4 247.5" stroke="url(#gl18)"/><path d="M40.9 276.2 L535.4 252.9" stroke="url(#gl17)"/><path d="M42.6 282.3 L542.6 258.3" stroke="url(#gl16)"/><path d="M44.3 288.4 L549.9 263.9" stroke="url(#gl15)"/><path d="M46.1 294.8 L557.4 269.7" stroke="url(#gl14)"/><path d="M47.9 301.2 L565.1 275.6" stroke="url(#gl13)"/><path d="M49.7 307.9 L572.9 281.6" stroke="url(#gl12)"/><path d="M51.6 314.7 L581.0 287.7" stroke="url(#gl11)"/><path d="M53.5 321.7 L589.2 294.0" stroke="url(#gl10)"/><path d="M55.5 328.8 L597.7 300.5" stroke="url(#gl9)"/><path d="M57.6 336.2 L606.4 307.1" stroke="url(#gl8)"/><path d="M59.6 343.7 L615.2 313.9" stroke="url(#gl7)"/><path d="M61.8 351.5 L624.3 320.8" stroke="url(#gl6)"/><path d="M64.0 359.5 L633.7 328.0" stroke="url(#gl5)"/><path d="M66.3 367.7 L643.3 335.3" stroke="url(#gl4)"/><path d="M68.6 376.1 L653.1 342.8" stroke="url(#gl3)"/><path d="M71.0 384.7 L663.2 350.5" stroke="url(#gl2)"/><path d="M73.5 393.6 L673.6 358.5" stroke="url(#gl1)"/><path d="M76.0 402.8 L684.3 366.6" stroke="url(#gl0)"/><g stroke="#da2122" stroke-linecap="round"><path d="M36.2 259.0h0" stroke-width="4.70"/><path d="M37.7 264.6h0" stroke-width="4.70"/><path d="M39.3 270.3h0" stroke-width="4.70"/><path d="M40.9 276.2h0" stroke-width="4.70"/><path d="M42.6 282.3h0" stroke-width="4.70"/><path d="M44.3 288.4h0" stroke-width="4.70"/><path d="M46.1 294.8h0" stroke-width="4.70"/><path d="M47.9 301.2h0" stroke-width="4.70"/><path d="M49.7 307.9h0" stroke-width="4.70"/><path d="M51.6 314.7h0" stroke-width="4.70"/><path d="M53.5 321.7h0" stroke-width="4.70"/><path d="M55.5 328.8h0" stroke-width="4.70"/><path d="M57.6 336.2h0" stroke-width="4.70"/><path d="M59.6 343.7h0" stroke-width="4.70"/><path d="M61.8 351.5h0" stroke-width="4.70"/><path d="M64.0 359.5h0" stroke-width="4.70"/><path d="M66.3 367.7h0" stroke-width="4.70"/><path d="M68.6 376.1h0" stroke-width="4.70"/><path d="M71.0 384.7h0" stroke-width="4.70"/><path d="M73.5 393.6h0" stroke-width="4.70"/><path d="M76.0 402.8h0" stroke-width="4.70"/></g></g><g fill="none" stroke-width="4.4" stroke-linecap="butt" stroke-linejoin="round" filter="url(#bl)"><path stroke-width="5.30" d="M31.9 88.6 L92.6 86.8 L152.7 85.1 L212.0 83.3 L270.7 81.6 L328.7 79.9 L333.5 79.8 L338.2 79.7 L343.0 79.6 L347.8 79.6 L352.6 79.5 L357.3 79.6 L362.1 79.7 L366.8 79.9 L371.6 80.3 L376.3 80.9 L381.0 81.8 L385.8 83.2 L390.5 85.1 L395.2 87.7 L399.9 90.9 L404.6 94.8 L409.2 99.2 L413.9 103.7 L418.5 108.0 L423.2 111.9 L427.8 115.1 L432.5 117.6 L437.1 119.5 L441.8 120.8 L446.4 121.7 L451.1 122.3 L455.7 122.7 L460.3 122.9 L465.0 123.0 L469.6 123.0 L474.2 122.9 L478.9 122.8 L483.5 122.7 L488.1 122.6 L492.7 122.5 L497.1 122.4 L501.5 122.2 L505.9 122.1 L510.2 121.9 L514.6 121.8 L517.3 121.7" stroke="url(#gu20)"/><path stroke-width="5.21" d="M33.5 92.3 L92.1 90.6 L150.0 88.9 L207.3 87.2 L264.0 85.5 L320.1 83.9 L324.9 83.7 L329.7 83.6 L334.6 83.5 L339.4 83.5 L344.3 83.5 L349.1 83.5 L353.9 83.6 L358.7 83.8 L363.5 84.2 L368.3 84.8 L373.1 85.8 L377.9 87.1 L382.7 89.1 L387.5 91.7 L392.2 94.9 L397.0 98.9 L401.7 103.3 L406.4 107.9 L411.1 112.3 L415.8 116.2 L420.5 119.4 L425.3 122.0 L430.0 123.9 L434.7 125.2 L439.4 126.1 L444.1 126.7 L448.8 127.1 L453.5 127.3 L458.2 127.4 L462.9 127.4 L467.6 127.3 L472.3 127.2 L477.0 127.1 L481.6 127.0 L486.3 126.9 L493.4 126.6 L500.4 126.4 L507.4 126.2 L514.4 125.9 L521.4 125.7 L524.0 125.6" stroke="url(#gu19)"/><path stroke-width="5.12" d="M35.0 96.1 L91.4 94.4 L147.3 92.8 L202.5 91.1 L257.1 89.5 L311.2 87.9 L316.1 87.8 L321.0 87.6 L325.9 87.6 L330.8 87.5 L335.7 87.5 L340.6 87.5 L345.5 87.6 L350.4 87.8 L355.3 88.2 L360.1 88.8 L365.0 89.8 L369.9 91.2 L374.7 93.1 L379.5 95.7 L384.4 99.1 L389.2 103.1 L394.0 107.5 L398.8 112.1 L403.5 116.6 L408.3 120.6 L413.1 123.8 L417.9 126.4 L422.6 128.3 L427.4 129.7 L432.2 130.6 L437.0 131.2 L441.7 131.6 L446.5 131.8 L451.2 131.8 L456.0 131.9 L460.8 131.8 L465.5 131.7 L470.3 131.6 L475.0 131.5 L479.7 131.3 L489.5 131.0 L499.2 130.7 L509.0 130.4 L518.7 130.0 L528.4 129.7 L530.9 129.6" stroke="url(#gu18)"/><path stroke-width="5.03" d="M36.6 100.0 L90.8 98.4 L144.5 96.8 L197.6 95.1 L250.1 93.5 L302.1 92.0 L307.1 91.9 L312.1 91.8 L317.1 91.7 L322.0 91.6 L327.0 91.6 L332.0 91.6 L336.9 91.7 L341.9 91.9 L346.8 92.3 L351.7 93.0 L356.7 93.9 L361.6 95.3 L366.5 97.3 L371.4 99.9 L376.3 103.3 L381.2 107.3 L386.0 111.8 L390.9 116.5 L395.7 121.0 L400.6 125.0 L405.4 128.4 L410.3 131.0 L415.1 132.9 L420.0 134.3 L424.8 135.2 L429.6 135.8 L434.5 136.2 L439.3 136.4 L444.1 136.5 L448.9 136.5 L453.8 136.4 L458.6 136.3 L463.4 136.2 L468.2 136.1 L473.0 135.9 L485.6 135.5 L498.1 135.1 L510.6 134.6 L523.0 134.2 L535.5 133.8 L538.0 133.7" stroke="url(#gu17)"/><path stroke-width="4.94" d="M38.3 104.0 L90.2 102.4 L141.6 100.9 L192.5 99.3 L242.9 97.7 L292.8 96.2 L297.9 96.1 L302.9 96.0 L308.0 95.9 L313.0 95.8 L318.0 95.8 L323.1 95.8 L328.1 95.9 L333.1 96.1 L338.1 96.5 L343.1 97.2 L348.1 98.2 L353.1 99.6 L358.1 101.6 L363.1 104.2 L368.0 107.6 L373.0 111.7 L377.9 116.3 L382.8 121.0 L387.8 125.6 L392.7 129.7 L397.6 133.0 L402.5 135.6 L407.4 137.6 L412.3 139.0 L417.2 139.9 L422.1 140.5 L427.0 140.9 L431.9 141.1 L436.8 141.2 L441.7 141.2 L446.6 141.1 L451.5 141.0 L456.3 140.9 L461.2 140.8 L466.1 140.6 L481.5 140.1 L496.9 139.6 L512.2 139.0 L527.5 138.5 L542.8 137.9 L545.2 137.8" stroke="url(#gu16)"/><path stroke-width="4.85" d="M40.0 108.1 L89.5 106.6 L138.6 105.0 L187.3 103.5 L235.5 102.0 L283.2 100.6 L288.4 100.4 L293.5 100.3 L298.6 100.2 L303.7 100.1 L308.8 100.1 L313.9 100.1 L319.0 100.2 L324.1 100.5 L329.2 100.9 L334.3 101.5 L339.3 102.5 L344.4 103.9 L349.5 106.0 L354.5 108.7 L359.5 112.1 L364.6 116.2 L369.6 120.9 L374.6 125.7 L379.6 130.3 L384.5 134.4 L389.5 137.8 L394.5 140.4 L399.5 142.4 L404.5 143.8 L409.4 144.8 L414.4 145.4 L419.4 145.8 L424.3 146.0 L429.3 146.0 L434.3 146.0 L439.2 146.0 L444.2 145.9 L449.1 145.8 L454.0 145.6 L459.0 145.5 L477.4 144.8 L495.7 144.2 L513.9 143.5 L532.1 142.9 L550.2 142.2 L552.6 142.1" stroke="url(#gu15)"/><path stroke-width="4.76" d="M41.7 112.3 L88.9 110.8 L135.6 109.4 L182.0 107.9 L227.9 106.4 L273.4 105.0 L278.6 104.9 L283.8 104.8 L289.0 104.7 L294.2 104.6 L299.4 104.6 L304.5 104.6 L309.7 104.7 L314.9 104.9 L320.0 105.3 L325.2 106.0 L330.3 107.0 L335.5 108.4 L340.6 110.5 L345.7 113.2 L350.8 116.7 L355.9 120.9 L361.0 125.5 L366.1 130.4 L371.1 135.1 L376.2 139.2 L381.3 142.7 L386.3 145.4 L391.4 147.4 L396.4 148.8 L401.5 149.7 L406.5 150.4 L411.5 150.7 L416.6 150.9 L421.6 151.0 L426.6 151.0 L431.7 151.0 L436.7 150.9 L441.7 150.7 L446.7 150.6 L451.7 150.4 L473.1 149.7 L494.4 148.9 L515.6 148.1 L536.8 147.3 L557.8 146.6 L560.2 146.5" stroke="url(#gu14)"/><path stroke-width="4.67" d="M43.5 116.6 L88.2 115.2 L132.5 113.8 L176.5 112.4 L220.1 111.0 L263.3 109.6 L268.6 109.5 L273.9 109.4 L279.1 109.2 L284.4 109.2 L289.6 109.1 L294.9 109.1 L300.1 109.2 L305.4 109.5 L310.6 109.9 L315.8 110.5 L321.1 111.5 L326.3 113.0 L331.5 115.1 L336.7 117.9 L341.9 121.4 L347.0 125.6 L352.2 130.4 L357.4 135.3 L362.5 140.0 L367.6 144.2 L372.8 147.7 L377.9 150.4 L383.0 152.5 L388.1 153.9 L393.3 154.9 L398.4 155.5 L403.5 155.9 L408.6 156.1 L413.7 156.1 L418.8 156.1 L423.9 156.1 L429.0 156.0 L434.1 155.8 L439.1 155.7 L444.2 155.5 L468.7 154.6 L493.1 153.7 L517.4 152.8 L541.6 151.9 L565.6 151.0 L567.9 151.0" stroke="url(#gu13)"/><path stroke-width="4.58" d="M45.3 121.0 L87.5 119.7 L129.3 118.3 L170.9 117.0 L212.1 115.6 L252.9 114.3 L258.3 114.2 L263.6 114.1 L269.0 113.9 L274.3 113.9 L279.7 113.8 L285.0 113.8 L290.3 113.9 L295.6 114.2 L300.9 114.6 L306.2 115.2 L311.5 116.3 L316.8 117.7 L322.1 119.8 L327.4 122.6 L332.7 126.2 L337.9 130.5 L343.2 135.3 L348.4 140.3 L353.6 145.1 L358.8 149.3 L364.0 152.9 L369.2 155.6 L374.5 157.7 L379.6 159.1 L384.8 160.1 L390.0 160.7 L395.2 161.1 L400.4 161.3 L405.6 161.4 L410.7 161.4 L415.9 161.3 L421.1 161.2 L426.2 161.1 L431.4 160.9 L436.5 160.7 L464.2 159.7 L491.8 158.7 L519.2 157.7 L546.5 156.7 L573.6 155.6 L575.9 155.5" stroke="url(#gu12)"/><path stroke-width="4.49" d="M47.1 125.6 L86.8 124.3 L126.1 123.0 L165.1 121.7 L203.8 120.4 L242.3 119.2 L247.7 119.0 L253.1 118.9 L258.6 118.8 L264.0 118.7 L269.4 118.6 L274.8 118.7 L280.2 118.8 L285.6 119.0 L291.0 119.4 L296.4 120.1 L301.8 121.1 L307.1 122.6 L312.5 124.7 L317.9 127.6 L323.2 131.2 L328.5 135.5 L333.9 140.4 L339.2 145.4 L344.5 150.3 L349.8 154.6 L355.1 158.2 L360.4 161.0 L365.6 163.0 L370.9 164.5 L376.2 165.5 L381.5 166.1 L386.7 166.5 L392.0 166.7 L397.2 166.8 L402.5 166.8 L407.7 166.7 L413.0 166.6 L418.2 166.4 L423.4 166.3 L428.6 166.1 L459.6 165.0 L490.5 163.8 L521.1 162.6 L551.5 161.5 L581.8 160.3 L584.0 160.2" stroke="url(#gu11)"/><path stroke-width="4.40" d="M49.1 130.2 L86.0 129.0 L122.7 127.7 L159.2 126.5 L195.4 125.3 L231.3 124.2 L236.8 124.0 L242.3 123.9 L247.8 123.8 L253.3 123.7 L258.8 123.6 L264.3 123.6 L269.8 123.7 L275.3 123.9 L280.8 124.4 L286.2 125.0 L291.7 126.1 L297.2 127.6 L302.6 129.7 L308.1 132.6 L313.5 136.3 L318.9 140.7 L324.3 145.6 L329.7 150.7 L335.1 155.7 L340.5 160.0 L345.9 163.6 L351.2 166.5 L356.6 168.6 L361.9 170.0 L367.3 171.1 L372.6 171.7 L378.0 172.1 L383.3 172.3 L388.6 172.3 L394.0 172.3 L399.3 172.3 L404.6 172.1 L409.9 172.0 L415.2 171.8 L420.5 171.6 L454.9 170.4 L489.1 169.0 L523.0 167.7 L556.7 166.4 L590.2 165.1 L592.4 165.0" stroke="url(#gu10)"/><path stroke-width="4.40" d="M51.0 135.0 L85.3 133.8 L119.3 132.7 L153.1 131.5 L186.6 130.4 L220.0 129.3 L225.6 129.1 L231.2 129.0 L236.8 128.9 L242.4 128.8 L248.0 128.7 L253.6 128.7 L259.1 128.8 L264.7 129.0 L270.3 129.5 L275.8 130.1 L281.4 131.2 L286.9 132.7 L292.4 134.9 L298.0 137.8 L303.5 141.5 L309.0 146.0 L314.5 151.0 L320.0 156.2 L325.4 161.2 L330.9 165.6 L336.4 169.3 L341.8 172.1 L347.3 174.2 L352.7 175.7 L358.1 176.8 L363.6 177.4 L369.0 177.8 L374.4 178.0 L379.8 178.1 L385.2 178.0 L390.6 178.0 L396.0 177.8 L401.4 177.7 L406.8 177.5 L412.2 177.3 L450.0 175.9 L487.6 174.4 L525.0 173.0 L562.0 171.5 L598.8 170.1 L601.0 170.0" stroke="url(#gu9)"/><path stroke-width="4.40" d="M53.0 139.9 L84.5 138.8 L115.7 137.7 L146.8 136.6 L177.7 135.6 L208.4 134.6 L214.1 134.4 L219.8 134.3 L225.5 134.1 L231.1 134.0 L236.8 134.0 L242.5 134.0 L248.1 134.1 L253.8 134.3 L259.4 134.7 L265.1 135.4 L270.7 136.5 L276.3 138.0 L282.0 140.2 L287.6 143.2 L293.2 147.0 L298.8 151.5 L304.4 156.5 L309.9 161.8 L315.5 166.8 L321.1 171.3 L326.6 175.0 L332.1 177.9 L337.7 180.1 L343.2 181.6 L348.7 182.6 L354.2 183.3 L359.7 183.7 L365.2 183.9 L370.7 183.9 L376.2 183.9 L381.7 183.8 L387.2 183.7 L392.7 183.5 L398.1 183.4 L403.6 183.2 L445.0 181.6 L486.2 179.9 L527.0 178.3 L567.4 176.7 L607.6 175.1 L609.8 175.0" stroke="url(#gu8)"/><path stroke-width="4.40" d="M55.1 144.9 L83.7 143.9 L112.1 142.9 L140.3 141.9 L168.5 140.9 L196.4 140.0 L202.2 139.8 L208.0 139.7 L213.8 139.6 L219.5 139.4 L225.3 139.4 L231.0 139.4 L236.8 139.5 L242.5 139.7 L248.3 140.1 L254.0 140.8 L259.7 141.9 L265.5 143.5 L271.2 145.7 L276.9 148.7 L282.6 152.5 L288.3 157.1 L294.0 162.2 L299.6 167.6 L305.3 172.7 L310.9 177.2 L316.6 181.0 L322.2 183.9 L327.8 186.1 L333.4 187.6 L339.0 188.7 L344.6 189.3 L350.2 189.7 L355.8 189.9 L361.4 190.0 L367.0 189.9 L372.5 189.9 L378.1 189.7 L383.7 189.6 L389.2 189.4 L394.7 189.2 L439.9 187.4 L484.7 185.6 L529.0 183.8 L573.0 182.1 L616.6 180.3 L618.8 180.2" stroke="url(#gu7)"/><path stroke-width="4.40" d="M57.2 150.0 L82.8 149.1 L108.3 148.2 L133.7 147.3 L158.9 146.5 L184.1 145.6 L190.0 145.4 L195.8 145.3 L201.7 145.1 L207.6 145.0 L213.4 145.0 L219.3 145.0 L225.1 145.0 L231.0 145.3 L236.8 145.7 L242.6 146.4 L248.4 147.5 L254.2 149.1 L260.1 151.4 L265.9 154.4 L271.7 158.3 L277.4 162.9 L283.2 168.1 L289.0 173.5 L294.7 178.7 L300.5 183.3 L306.2 187.1 L311.9 190.1 L317.6 192.3 L323.4 193.8 L329.0 194.9 L334.7 195.6 L340.4 195.9 L346.1 196.1 L351.8 196.2 L357.4 196.2 L363.1 196.1 L368.7 195.9 L374.4 195.8 L380.0 195.6 L385.7 195.4 L434.6 193.4 L483.1 191.4 L531.2 189.5 L578.7 187.5 L625.9 185.6 L628.1 185.5" stroke="url(#gu6)"/><path stroke-width="4.40" d="M59.4 155.3 L82.0 154.5 L104.5 153.7 L126.9 152.9 L149.2 152.1 L171.4 151.4 L177.3 151.2 L183.3 151.0 L189.3 150.9 L195.2 150.8 L201.2 150.7 L207.1 150.7 L213.1 150.8 L219.0 151.0 L224.9 151.5 L230.9 152.2 L236.8 153.3 L242.7 154.9 L248.6 157.2 L254.5 160.2 L260.4 164.2 L266.3 168.9 L272.2 174.2 L278.0 179.6 L283.9 184.9 L289.7 189.6 L295.6 193.4 L301.4 196.4 L307.2 198.7 L313.0 200.2 L318.8 201.3 L324.5 202.0 L330.3 202.4 L336.1 202.6 L341.8 202.6 L347.6 202.6 L353.4 202.5 L359.1 202.3 L364.8 202.2 L370.6 202.0 L376.3 201.8 L429.2 199.6 L481.5 197.4 L533.3 195.3 L584.6 193.2 L635.4 191.1 L637.6 191.0" stroke="url(#gu5)"/><path stroke-width="4.40" d="M61.7 160.8 L81.1 160.1 L100.5 159.4 L119.8 158.7 L139.1 158.0 L158.2 157.4 L164.3 157.2 L170.4 157.0 L176.5 156.8 L182.5 156.7 L188.6 156.6 L194.6 156.6 L200.7 156.7 L206.7 156.9 L212.7 157.4 L218.8 158.1 L224.8 159.2 L230.8 160.9 L236.8 163.2 L242.8 166.3 L248.8 170.3 L254.8 175.0 L260.8 180.4 L266.7 185.9 L272.7 191.3 L278.6 196.0 L284.6 199.9 L290.5 203.0 L296.4 205.2 L302.3 206.8 L308.2 207.9 L314.0 208.6 L319.9 209.0 L325.8 209.2 L331.6 209.2 L337.5 209.2 L343.3 209.1 L349.2 208.9 L355.0 208.7 L360.8 208.5 L366.6 208.3 L423.6 206.0 L479.9 203.6 L535.6 201.3 L590.7 199.0 L645.2 196.7 L647.4 196.6" stroke="url(#gu4)"/><path stroke-width="4.40" d="M64.0 166.4 L80.2 165.8 L96.4 165.2 L112.6 164.6 L128.7 164.1 L144.7 163.5 L150.9 163.3 L157.1 163.1 L163.3 163.0 L169.4 162.8 L175.6 162.8 L181.7 162.7 L187.9 162.8 L194.0 163.1 L200.1 163.5 L206.3 164.2 L212.4 165.3 L218.5 167.0 L224.6 169.4 L230.7 172.5 L236.8 176.5 L242.9 181.4 L249.0 186.8 L255.1 192.5 L261.2 197.9 L267.2 202.7 L273.2 206.6 L279.3 209.7 L285.3 212.0 L291.3 213.6 L297.2 214.7 L303.2 215.4 L309.2 215.8 L315.1 216.0 L321.1 216.0 L327.0 216.0 L333.0 215.9 L338.9 215.7 L344.8 215.5 L350.8 215.3 L356.7 215.1 L417.8 212.6 L478.2 210.0 L537.9 207.4 L596.9 204.9 L655.2 202.4 L657.4 202.3" stroke="url(#gu3)"/><path stroke-width="4.40" d="M66.3 172.2 L79.3 171.7 L92.2 171.2 L105.1 170.8 L117.9 170.3 L130.7 169.8 L137.0 169.6 L143.3 169.5 L149.6 169.3 L155.9 169.2 L162.1 169.1 L168.4 169.0 L174.7 169.1 L180.9 169.4 L187.1 169.8 L193.4 170.5 L199.6 171.7 L205.8 173.4 L212.1 175.7 L218.3 178.9 L224.5 183.0 L230.7 187.9 L236.9 193.5 L243.1 199.2 L249.3 204.7 L255.4 209.5 L261.5 213.6 L267.7 216.7 L273.8 219.0 L279.9 220.7 L286.0 221.7 L292.0 222.4 L298.1 222.8 L304.2 223.0 L310.2 223.1 L316.3 223.0 L322.3 222.9 L328.3 222.7 L334.4 222.5 L340.4 222.3 L346.4 222.1 L411.8 219.3 L476.5 216.5 L540.3 213.8 L603.3 211.0 L665.5 208.3 L667.7 208.2" stroke="url(#gu2)"/><path stroke-width="4.40" d="M68.8 178.1 L78.3 177.8 L87.9 177.4 L97.4 177.1 L106.9 176.7 L116.3 176.4 L122.7 176.2 L129.1 176.0 L135.5 175.8 L141.9 175.7 L148.3 175.6 L154.6 175.6 L161.0 175.6 L167.4 175.9 L173.7 176.3 L180.1 177.1 L186.4 178.2 L192.7 179.9 L199.1 182.3 L205.4 185.6 L211.7 189.7 L218.1 194.7 L224.4 200.3 L230.7 206.1 L237.0 211.7 L243.2 216.6 L249.5 220.7 L255.7 223.9 L261.9 226.2 L268.1 227.9 L274.3 229.0 L280.5 229.7 L286.7 230.1 L292.9 230.3 L299.0 230.3 L305.2 230.3 L311.3 230.1 L317.4 230.0 L323.6 229.8 L329.7 229.6 L335.8 229.3 L405.7 226.3 L474.7 223.3 L542.7 220.3 L609.8 217.3 L676.1 214.4 L678.3 214.3" stroke="url(#gu1)"/><path stroke-width="4.40" d="M71.3 184.3 L77.3 184.0 L83.4 183.8 L89.4 183.6 L95.4 183.4 L101.4 183.2 L107.9 183.0 L114.5 182.7 L121.0 182.6 L127.5 182.4 L134.0 182.3 L140.4 182.3 L146.9 182.4 L153.4 182.6 L159.8 183.0 L166.3 183.8 L172.8 185.0 L179.2 186.7 L185.7 189.1 L192.1 192.4 L198.6 196.6 L205.0 201.7 L211.4 207.4 L217.9 213.3 L224.3 218.9 L230.7 223.9 L237.0 228.1 L243.4 231.3 L249.7 233.7 L256.0 235.4 L262.3 236.5 L268.6 237.2 L274.9 237.6 L281.2 237.8 L287.4 237.8 L293.7 237.8 L299.9 237.6 L306.2 237.5 L312.4 237.2 L318.6 237.0 L324.9 236.8 L399.4 233.5 L472.8 230.2 L545.2 227.0 L616.6 223.8 L687.0 220.6 L689.2 220.5" stroke="url(#gu0)"/><g stroke="#da2122" stroke-linecap="round"><path d="M31.9 88.6h0" stroke-width="5.30"/><path d="M33.5 92.3h0" stroke-width="5.21"/><path d="M35.0 96.1h0" stroke-width="5.12"/><path d="M36.6 100.0h0" stroke-width="5.03"/><path d="M38.3 104.0h0" stroke-width="4.94"/><path d="M40.0 108.1h0" stroke-width="4.85"/><path d="M41.7 112.3h0" stroke-width="4.76"/><path d="M43.5 116.6h0" stroke-width="4.67"/><path d="M45.3 121.0h0" stroke-width="4.58"/><path d="M47.1 125.6h0" stroke-width="4.49"/><path d="M49.1 130.2h0" stroke-width="4.40"/><path d="M51.0 135.0h0" stroke-width="4.40"/><path d="M53.0 139.9h0" stroke-width="4.40"/><path d="M55.1 144.9h0" stroke-width="4.40"/><path d="M57.2 150.0h0" stroke-width="4.40"/><path d="M59.4 155.3h0" stroke-width="4.40"/><path d="M61.7 160.8h0" stroke-width="4.40"/><path d="M64.0 166.4h0" stroke-width="4.40"/><path d="M66.3 172.2h0" stroke-width="4.40"/><path d="M68.8 178.1h0" stroke-width="4.40"/><path d="M71.3 184.3h0" stroke-width="4.40"/></g></g><path d="M42.8 428.8 L726.7 386.5 M726.7 386.5 L735.6 152.8 M735.6 152.8 L534.7 60.6 M723.0 386.7 L723.2 381.7 M694.2 388.5 L694.5 379.4 M665.1 390.3 L665.3 385.3 M635.9 392.1 L636.1 387.1 M606.6 393.9 L606.7 388.9 M577.0 395.8 L577.1 390.7 M547.3 397.6 L547.5 388.3 M517.4 399.4 L517.5 394.3 M487.3 401.3 L487.4 396.2 M457.1 403.2 L457.1 398.0 M426.6 405.0 L426.7 399.9 M396.0 406.9 L396.1 397.5 M365.2 408.8 L365.2 403.7 M334.2 410.8 L334.2 405.6 M303.0 412.7 L303.0 407.5 M271.7 414.6 L271.6 409.4 M240.1 416.6 L240.0 407.0 M208.3 418.5 L208.3 413.3 M176.4 420.5 L176.3 415.2 M144.2 422.5 L144.1 417.2 M111.9 424.5 L111.8 419.2 M79.3 426.5 L79.1 416.8 M46.5 428.5 L46.4 423.2 M727.1 376.1 L722.2 376.4 M727.6 361.3 L722.7 361.6 M728.2 346.5 L719.2 347.0 M728.8 331.6 L723.8 331.9 M729.3 316.8 L724.4 317.0 M729.9 301.8 L725.0 302.1 M730.5 286.8 L721.5 287.3 M731.1 271.8 L726.1 272.1 M731.6 256.8 L726.7 257.0 M732.2 241.7 L727.3 241.9 M732.8 226.5 L723.8 226.9 M733.4 211.3 L728.4 211.6 M734.0 196.1 L729.0 196.3 M734.6 180.9 L729.6 181.1 M735.2 165.5 L726.1 165.9 M722.1 146.6 L721.8 154.7 M710.7 141.3 L710.5 146.1 M699.6 136.2 L699.5 140.9 M688.8 131.3 L688.7 135.9 M678.3 126.5 L678.2 131.0 M668.1 121.8 L667.8 129.4 M658.1 117.2 L658.0 121.7 M648.4 112.7 L648.3 117.2 M639.0 108.4 L638.8 112.8 M629.7 104.2 L629.6 108.5 M620.7 100.0 L620.5 107.2 M611.9 96.0 L611.8 100.2 M603.4 92.1 L603.3 96.2 M595.0 88.2 L594.9 92.4 M586.8 84.5 L586.7 88.6 M578.9 80.8 L578.7 87.6 M571.1 77.3 L571.0 81.2 M563.5 73.8 L563.4 77.7 M556.0 70.3 L555.9 74.2 M548.7 67.0 L548.6 70.8 M541.6 63.7 L541.5 70.2" stroke="#8c8c8c" stroke-width="1.3" fill="none"/><text transform="translate(79.5 457.0) scale(0.920 1)" font-size="23.0" text-anchor="middle" font-family="Liberation Sans, Arial, sans-serif" fill="#1e1e1e" stroke="#1e1e1e" stroke-width="0.25">10</text><text transform="translate(238.7 447.2) scale(0.920 1)" font-size="23.0" text-anchor="middle" font-family="Liberation Sans, Arial, sans-serif" fill="#1e1e1e" stroke="#1e1e1e" stroke-width="0.25">5</text><text transform="translate(394.5 437.5) scale(0.920 1)" font-size="23.0" text-anchor="middle" font-family="Liberation Sans, Arial, sans-serif" fill="#1e1e1e" stroke="#1e1e1e" stroke-width="0.25">0</text><text transform="translate(545.7 427.5) scale(0.920 1)" font-size="23.0" text-anchor="middle" font-family="Liberation Sans, Arial, sans-serif" fill="#1e1e1e" stroke="#1e1e1e" stroke-width="0.25">−5</text><text transform="translate(692.2 418.4) scale(0.920 1)" font-size="23.0" text-anchor="middle" font-family="Liberation Sans, Arial, sans-serif" fill="#1e1e1e" stroke="#1e1e1e" stroke-width="0.25">−10</text><text transform="translate(749.8 171.2) scale(0.920 1)" font-size="23.0" text-anchor="middle" font-family="Liberation Sans, Arial, sans-serif" fill="#1e1e1e" stroke="#1e1e1e" stroke-width="0.25">2</text><text transform="translate(747.6 232.0) scale(0.920 1)" font-size="23.0" text-anchor="middle" font-family="Liberation Sans, Arial, sans-serif" fill="#1e1e1e" stroke="#1e1e1e" stroke-width="0.25">0</text><text transform="translate(752.2 292.6) scale(0.920 1)" font-size="23.0" text-anchor="middle" font-family="Liberation Sans, Arial, sans-serif" fill="#1e1e1e" stroke="#1e1e1e" stroke-width="0.25">−2</text><text transform="translate(749.6 352.0) scale(0.920 1)" font-size="23.0" text-anchor="middle" font-family="Liberation Sans, Arial, sans-serif" fill="#1e1e1e" stroke="#1e1e1e" stroke-width="0.25">−4</text><text transform="translate(541.7 48.5) scale(0.920 1)" font-size="23.0" text-anchor="middle" font-family="Liberation Sans, Arial, sans-serif" fill="#1e1e1e" stroke="#1e1e1e" stroke-width="0.25">10</text><text transform="translate(578.3 65.3) scale(0.920 1)" font-size="23.0" text-anchor="middle" font-family="Liberation Sans, Arial, sans-serif" fill="#1e1e1e" stroke="#1e1e1e" stroke-width="0.25">5</text><text transform="translate(620.7 84.9) scale(0.920 1)" font-size="23.0" text-anchor="middle" font-family="Liberation Sans, Arial, sans-serif" fill="#1e1e1e" stroke="#1e1e1e" stroke-width="0.25">0</text><text transform="translate(668.2 106.5) scale(0.920 1)" font-size="23.0" text-anchor="middle" font-family="Liberation Sans, Arial, sans-serif" fill="#1e1e1e" stroke="#1e1e1e" stroke-width="0.25">−5</text><text transform="translate(722.8 131.7) scale(0.920 1)" font-size="23.0" text-anchor="middle" font-family="Liberation Sans, Arial, sans-serif" fill="#1e1e1e" stroke="#1e1e1e" stroke-width="0.25">−10</text><text transform="matrix(0.3723 0 0 0.4021 612.11 44.95)" font-size="100" font-family="Liberation Serif, serif" fill="#111">n</text><text transform="matrix(0.3275 0 0 0.3731 774.96 278.68)" font-size="100" font-family="DejaVu Serif, serif" font-style="italic" fill="#111">ν</text><text transform="matrix(0.3071 0 0 0.3505 384.83 482.39)" font-size="100" font-family="DejaVu Serif, serif" font-style="italic" fill="#111">ξ</text><g stroke-width="4.7" stroke-linecap="round" fill="none" filter="url(#bl)"><path stroke="#d40e14" d="M961.3 258.1h0M973.9 257.3h0M986.4 256.5h0M998.9 255.7h0M1011.4 255.0h0M1023.9 254.2h0M1036.3 253.4h0M1048.7 252.6h0M1061.0 251.9h0M1073.3 251.1h0M1085.6 250.3h0M1097.8 249.6h0M1110.0 248.8h0M1122.2 248.0h0M1134.3 247.3h0M1146.4 246.5h0M1158.5 245.8h0M1170.5 245.0h0M1182.5 244.3h0M1194.5 243.5h0M1206.4 242.8h0M1218.3 242.0h0M1230.2 241.3h0M1242.0 240.6h0M963.3 264.5h0M976.0 263.7h0M988.7 262.9h0M1001.4 262.1h0M1014.0 261.3h0M1026.6 260.5h0M1039.2 259.7h0M1051.7 258.9h0M1064.2 258.1h0M1076.7 257.3h0M1089.1 256.5h0M1101.5 255.8h0M1113.8 255.0h0M1126.1 254.2h0M1138.4 253.4h0M1150.6 252.7h0M1162.8 251.9h0M1175.0 251.1h0M1187.1 250.3h0M1199.2 249.6h0M1211.3 248.8h0M1223.4 248.1h0M1235.4 247.3h0M965.4 271.0h0M978.3 270.2h0M991.1 269.4h0M1003.9 268.6h0M1016.7 267.8h0M1029.5 266.9h0M1042.2 266.1h0M1054.9 265.3h0M1067.5 264.5h0M1080.1 263.7h0M1092.7 262.9h0M1105.2 262.1h0M1117.7 261.3h0M1130.1 260.5h0M1142.5 259.7h0M1154.9 258.9h0M1167.3 258.1h0M1179.6 257.3h0M1191.9 256.6h0M1204.1 255.8h0M1216.3 255.0h0M1228.5 254.2h0M967.5 277.7h0M980.6 276.9h0M993.6 276.1h0M1006.5 275.2h0M1019.5 274.4h0M1032.4 273.5h0M1045.2 272.7h0M1058.1 271.9h0M1070.9 271.1h0M1083.6 270.2h0M1096.3 269.4h0M1109.0 268.6h0M1121.6 267.8h0M1134.2 267.0h0M1146.8 266.1h0M1159.3 265.3h0M1171.8 264.5h0M1184.3 263.7h0M1196.7 262.9h0M1209.1 262.1h0M1221.4 261.3h0M1233.8 260.5h0M969.7 284.6h0M982.9 283.8h0M996.1 282.9h0M1009.2 282.0h0M1022.3 281.2h0M1035.4 280.3h0M1048.4 279.5h0M1061.4 278.6h0M1074.3 277.8h0M1087.2 276.9h0M1100.1 276.1h0M1112.9 275.3h0M1125.7 274.4h0M1138.5 273.6h0M1151.2 272.7h0M1163.9 271.9h0M1176.5 271.1h0M1189.1 270.3h0M1201.7 269.4h0M1214.2 268.6h0M1226.7 267.8h0M971.9 291.7h0M985.3 290.8h0M998.6 289.9h0M1011.9 289.0h0M1025.2 288.2h0M1038.4 287.3h0M1051.6 286.4h0M1064.7 285.5h0M1077.8 284.7h0M1090.9 283.8h0M1103.9 282.9h0M1116.9 282.1h0M1129.9 281.2h0M1142.8 280.4h0M1155.7 279.5h0M1168.5 278.7h0M1181.3 277.8h0M1194.0 277.0h0M1206.8 276.1h0M1219.4 275.3h0M974.2 298.9h0M987.8 298.0h0M1001.3 297.1h0M1014.7 296.2h0M1028.2 295.3h0M1041.6 294.4h0M1054.9 293.5h0M1068.2 292.6h0M1081.5 291.7h0M1094.7 290.9h0M1107.9 290.0h0M1121.0 289.1h0M1134.1 288.2h0M1147.2 287.3h0M1160.2 286.5h0M1173.2 285.6h0M1186.2 284.7h0M1199.1 283.8h0M1212.0 283.0h0M1224.8 282.1h0M976.6 306.4h0M990.3 305.4h0M1004.0 304.5h0M1017.6 303.6h0M1031.2 302.7h0M1044.8 301.7h0M1058.3 300.8h0M1071.8 299.9h0M1085.2 299.0h0M1098.6 298.1h0M1112.0 297.2h0M1125.3 296.3h0M1138.5 295.4h0M1151.8 294.5h0M1165.0 293.6h0M1178.1 292.7h0M1191.2 291.8h0M1204.3 290.9h0M1217.3 290.0h0M979.0 314.0h0M992.9 313.1h0M1006.8 312.1h0M1020.6 311.2h0M1034.4 310.2h0M1048.1 309.3h0M1061.8 308.3h0M1075.4 307.4h0M1089.0 306.4h0M1102.6 305.5h0M1116.1 304.6h0M1129.6 303.6h0M1143.0 302.7h0M1156.4 301.8h0M1169.8 300.9h0M1183.1 300.0h0M1196.4 299.0h0M1209.6 298.1h0M1222.8 297.2h0M981.5 321.9h0M995.6 320.9h0M1009.6 319.9h0M1023.6 318.9h0M1037.6 317.9h0M1051.5 317.0h0M1065.3 316.0h0M1079.2 315.0h0M1093.0 314.1h0M1106.7 313.1h0M1120.4 312.2h0M1134.0 311.2h0M1147.7 310.3h0M1161.2 309.3h0M1174.8 308.4h0M1188.2 307.4h0M1201.7 306.5h0M1215.1 305.6h0M984.0 329.9h0M998.3 328.9h0M1012.5 327.9h0M1026.7 326.9h0M1040.9 325.9h0M1055.0 324.9h0M1069.0 323.9h0M1083.0 322.9h0M1097.0 321.9h0M1110.9 321.0h0M1124.8 320.0h0M1138.6 319.0h0M1152.4 318.0h0M1166.1 317.0h0M1179.8 316.1h0M1193.5 315.1h0M1207.1 314.1h0M986.6 338.2h0M1001.1 337.2h0M1015.5 336.1h0M1029.9 335.1h0M1044.3 334.1h0M1058.6 333.1h0M1072.8 332.0h0M1087.0 331.0h0M1101.1 330.0h0M1115.2 329.0h0M1129.3 328.0h0M1143.3 327.0h0M1157.3 326.0h0M1171.2 325.0h0M1185.1 324.0h0M1198.9 323.0h0M1212.7 322.0h0M989.3 346.7h0M1004.0 345.7h0M1018.6 344.6h0M1033.2 343.5h0M1047.8 342.5h0M1062.2 341.4h0M1076.7 340.4h0M1091.1 339.3h0M1105.4 338.3h0M1119.7 337.3h0M1133.9 336.2h0M1148.1 335.2h0M1162.3 334.2h0M1176.4 333.1h0M1190.5 332.1h0M1204.5 331.1h0M992.1 355.5h0M1007.0 354.4h0M1021.8 353.3h0M1036.6 352.2h0M1051.3 351.1h0M1066.0 350.1h0M1080.7 349.0h0M1095.2 347.9h0M1109.8 346.8h0M1124.3 345.8h0M1138.7 344.7h0M1153.1 343.6h0M1167.5 342.6h0M1181.7 341.5h0M1196.0 340.5h0M995.0 364.5h0M1010.1 363.4h0M1025.1 362.3h0M1040.1 361.1h0M1055.0 360.0h0M1069.9 358.9h0M1084.8 357.8h0M1099.6 356.7h0M1114.3 355.6h0M1129.0 354.5h0M1143.6 353.4h0M1158.2 352.3h0M1172.8 351.2h0M1187.2 350.1h0M1201.7 349.1h0M997.9 373.8h0M1013.2 372.6h0M1028.5 371.5h0M1043.7 370.3h0M1058.8 369.2h0M1073.9 368.0h0M1089.0 366.9h0M1104.0 365.8h0M1118.9 364.6h0M1133.8 363.5h0M1148.7 362.4h0M1163.5 361.3h0M1178.2 360.1h0M1192.9 359.0h0M1000.9 383.4h0M1016.5 382.2h0M1031.9 381.0h0M1047.4 379.8h0M1062.7 378.6h0M1078.1 377.4h0M1093.3 376.3h0M1108.5 375.1h0M1123.7 373.9h0M1138.8 372.8h0M1153.9 371.6h0M1168.9 370.5h0M1183.8 369.3h0M1198.7 368.2h0M1004.0 393.2h0M1019.8 392.0h0M1035.5 390.8h0M1051.2 389.6h0M1066.8 388.3h0M1082.3 387.1h0M1097.8 385.9h0M1113.2 384.7h0M1128.6 383.5h0M1144.0 382.3h0M1159.2 381.1h0M1174.4 379.9h0M1189.6 378.7h0M1007.3 403.4h0M1023.3 402.1h0M1039.2 400.9h0M1055.1 399.6h0M1070.9 398.4h0M1086.7 397.1h0M1102.4 395.9h0M1118.1 394.6h0M1133.7 393.4h0M1149.2 392.1h0M1164.7 390.9h0M1180.2 389.7h0M1010.6 413.9h0M1026.8 412.6h0M1043.0 411.3h0M1059.2 410.0h0M1075.2 408.7h0M1091.2 407.4h0M1107.2 406.1h0M1123.1 404.8h0M1138.9 403.6h0M1154.7 402.3h0M1170.4 401.0h0M1186.1 399.8h0M1014.0 424.7h0M1030.5 423.3h0M1047.0 422.0h0M1063.3 420.7h0M1079.6 419.3h0M1095.9 418.0h0M1112.1 416.7h0M1128.2 415.4h0M1144.3 414.0h0M1160.3 412.7h0M1176.3 411.4h0M952.2 58.6h0M965.1 58.0h0M978.0 57.5h0M990.9 57.0h0M1003.7 56.5h0M1016.5 56.0h0M1029.2 55.5h0M1041.9 55.0h0M1054.6 54.5h0M1067.2 54.0h0M1079.8 53.5h0M1092.3 53.0h0M1104.9 52.5h0M1117.4 52.0h0M1129.8 51.5h0M1142.2 51.0h0M1154.6 50.5h0M1166.9 50.0h0M1179.2 49.5h0M1191.5 49.0h0M1203.7 48.6h0M1216.0 48.1h0M1228.1 47.7h0M1240.3 47.5h0M954.2 62.6h0M967.3 62.1h0M980.3 61.6h0M993.3 61.0h0M1006.3 60.5h0M1019.2 60.0h0M1032.1 59.5h0M1045.0 58.9h0M1057.8 58.4h0M1070.6 57.9h0M1083.3 57.4h0M1096.0 56.9h0M1108.7 56.4h0M1121.3 55.9h0M1133.9 55.4h0M1146.5 54.9h0M1159.0 54.4h0M1171.5 53.8h0M1183.9 53.4h0M1196.3 52.9h0M1208.7 52.4h0M1221.1 51.9h0M1233.4 51.6h0M956.2 66.8h0M969.4 66.2h0M982.6 65.7h0M995.8 65.1h0M1008.9 64.6h0M1022.0 64.1h0M1035.1 63.5h0M1048.1 63.0h0M1061.1 62.5h0M1074.0 62.0h0M1086.9 61.4h0M1099.8 60.9h0M1112.6 60.4h0M1125.4 59.9h0M1138.1 59.3h0M1150.8 58.8h0M1163.5 58.3h0M1176.1 57.8h0M1188.7 57.3h0M1201.3 56.8h0M1213.8 56.3h0M1226.3 55.9h0M958.3 71.0h0M971.7 70.5h0M985.0 69.9h0M998.4 69.4h0M1011.7 68.8h0M1024.9 68.3h0M1038.1 67.7h0M1051.3 67.2h0M1064.4 66.6h0M1077.5 66.1h0M1090.6 65.6h0M1103.6 65.0h0M1116.6 64.5h0M1129.5 64.0h0M1142.4 63.4h0M1155.3 62.9h0M1168.1 62.4h0M1180.9 61.8h0M1193.7 61.3h0M1206.4 60.8h0M1219.0 60.4h0M1231.7 60.1h0M960.4 75.4h0M974.0 74.8h0M987.5 74.3h0M1001.0 73.7h0M1014.5 73.1h0M1027.9 72.6h0M1041.3 72.0h0M1054.6 71.5h0M1067.9 70.9h0M1081.2 70.3h0M1094.4 69.8h0M1107.6 69.2h0M1120.7 68.7h0M1133.8 68.1h0M1146.9 67.6h0M1159.9 67.1h0M1172.9 66.5h0M1185.8 66.0h0M1198.7 65.5h0M1211.6 65.0h0M1224.4 64.6h0M962.5 79.9h0M976.3 79.3h0M990.0 78.7h0M1003.7 78.1h0M1017.3 77.6h0M1030.9 77.0h0M1044.5 76.4h0M1058.0 75.8h0M1071.5 75.3h0M1084.9 74.7h0M1098.3 74.1h0M1111.6 73.6h0M1124.9 73.0h0M1138.2 72.4h0M1151.4 71.9h0M1164.6 71.3h0M1177.7 70.8h0M1190.8 70.2h0M1203.9 69.7h0M1216.9 69.3h0M964.8 84.5h0M978.7 83.9h0M992.6 83.3h0M1006.5 82.7h0M1020.3 82.1h0M1034.1 81.5h0M1047.8 80.9h0M1061.5 80.3h0M1075.1 79.8h0M1088.7 79.2h0M1102.3 78.6h0M1115.8 78.0h0M1129.2 77.4h0M1142.7 76.9h0M1156.1 76.3h0M1169.4 75.7h0M1182.7 75.2h0M1196.0 74.6h0M1209.2 74.1h0M1222.4 73.8h0M967.1 89.2h0M981.2 88.6h0M995.3 88.0h0M1009.3 87.4h0M1023.3 86.8h0M1037.3 86.2h0M1051.2 85.6h0M1065.0 85.0h0M1078.9 84.4h0M1092.6 83.8h0M1106.4 83.2h0M1120.0 82.6h0M1133.7 82.0h0M1147.3 81.4h0M1160.9 80.8h0M1174.4 80.2h0M1187.8 79.7h0M1201.3 79.1h0M1214.7 78.7h0M969.4 94.1h0M983.7 93.5h0M998.0 92.8h0M1012.2 92.2h0M1026.4 91.6h0M1040.6 91.0h0M1054.7 90.3h0M1068.7 89.7h0M1082.7 89.1h0M1096.7 88.5h0M1110.6 87.9h0M1124.4 87.3h0M1138.3 86.7h0M1152.0 86.1h0M1165.8 85.5h0M1179.5 84.9h0M1193.1 84.3h0M1206.7 83.8h0M1220.3 83.5h0M971.8 99.1h0M986.4 98.4h0M1000.8 97.8h0M1015.2 97.1h0M1029.6 96.5h0M1043.9 95.9h0M1058.2 95.2h0M1072.5 94.6h0M1086.7 94.0h0M1100.8 93.3h0M1114.9 92.7h0M1128.9 92.1h0M1142.9 91.5h0M1156.9 90.8h0M1170.8 90.2h0M1184.7 89.6h0M1198.5 89.1h0M1212.3 88.7h0M974.3 104.2h0M989.1 103.6h0M1003.7 102.9h0M1018.3 102.2h0M1032.9 101.6h0M1047.4 100.9h0M1061.9 100.3h0M1076.3 99.6h0M1090.7 99.0h0M1105.0 98.3h0M1119.3 97.7h0M1133.6 97.0h0M1147.8 96.4h0M1161.9 95.8h0M1176.0 95.1h0M1190.1 94.6h0M1204.1 94.1h0M976.9 109.5h0M991.8 108.8h0M1006.7 108.1h0M1021.5 107.5h0M1036.3 106.8h0M1051.0 106.1h0M1065.7 105.4h0M1080.3 104.8h0M1094.9 104.1h0M1109.4 103.5h0M1123.9 102.8h0M1138.3 102.1h0M1152.7 101.5h0M1167.1 100.8h0M1181.3 100.2h0M1195.6 99.7h0M1209.8 99.3h0M979.5 115.0h0M994.7 114.2h0M1009.8 113.6h0M1024.8 112.9h0M1039.8 112.2h0M1054.7 111.5h0M1069.6 110.8h0M1084.4 110.1h0M1099.2 109.4h0M1113.9 108.7h0M1128.6 108.0h0M1143.2 107.4h0M1157.8 106.7h0M1172.3 106.0h0M1186.8 105.4h0M1201.3 105.0h0M982.2 120.6h0M997.6 119.8h0M1012.9 119.1h0M1028.2 118.4h0M1043.3 117.7h0M1058.5 117.0h0M1073.6 116.3h0M1088.6 115.6h0M1103.6 114.9h0M1118.6 114.2h0M1133.4 113.5h0M1148.3 112.8h0M1163.1 112.1h0M1177.8 111.4h0M1192.5 110.9h0M985.0 126.3h0M1000.6 125.6h0M1016.1 124.8h0M1031.6 124.1h0M1047.0 123.4h0M1062.4 122.6h0M1077.7 121.9h0M1093.0 121.2h0M1108.2 120.5h0M1123.3 119.7h0M1138.4 119.0h0M1153.5 118.3h0M1168.5 117.6h0M1183.4 117.0h0M1198.3 116.6h0M987.9 132.3h0M1003.7 131.5h0M1019.5 130.7h0M1035.2 130.0h0M1050.8 129.2h0M1066.4 128.5h0M1082.0 127.7h0M1097.4 127.0h0M1112.9 126.2h0M1128.2 125.5h0M1143.5 124.8h0M1158.8 124.0h0M1174.0 123.4h0M1189.2 122.8h0M990.9 138.4h0M1006.9 137.6h0M1022.9 136.8h0M1038.9 136.1h0M1054.8 135.3h0M1070.6 134.5h0M1086.3 133.7h0M1102.0 133.0h0M1117.7 132.2h0M1133.3 131.4h0M1148.8 130.7h0M1164.3 130.0h0M1179.7 129.3h0M1195.1 128.9h0M994.0 144.7h0M1010.3 143.9h0M1026.5 143.1h0M1042.7 142.3h0M1058.8 141.5h0M1074.9 140.7h0M1090.9 139.9h0M1106.8 139.1h0M1122.7 138.3h0M1138.5 137.6h0M1154.3 136.8h0M1170.0 136.1h0M1185.6 135.6h0M997.1 151.3h0M1013.7 150.4h0M1030.2 149.6h0M1046.6 148.8h0M1063.0 147.9h0M1079.3 147.1h0M1095.5 146.3h0M1111.7 145.5h0M1127.8 144.7h0M1143.9 143.9h0M1159.9 143.1h0M1175.8 142.5h0M1000.4 158.0h0M1017.2 157.1h0M1033.9 156.3h0M1050.6 155.4h0M1067.3 154.6h0M1083.8 153.7h0M1100.3 152.9h0M1116.8 152.0h0M1133.1 151.2h0M1149.4 150.4h0M1165.7 149.7h0M1181.9 149.2h0M1003.8 165.0h0M1020.8 164.1h0M1037.9 163.2h0M1054.8 162.3h0M1071.7 161.4h0M1088.5 160.5h0M1105.3 159.7h0M1122.0 158.8h0M1138.6 158.0h0M1155.2 157.2h0M1171.7 156.6h0"/><path stroke="#d61916" d="M1253.8 239.8h0M1247.3 246.5h0M1240.6 253.4h0M1246.0 259.7h0M1239.2 267.0h0M1232.1 274.4h0M1237.6 281.3h0M1230.3 289.1h0M1236.0 296.3h0M1228.4 304.6h0M1220.7 313.2h0M1226.5 321.0h0M1218.5 330.1h0M1210.2 339.4h0M1216.1 348.0h0M1207.5 357.9h0M1213.6 367.0h0M1204.7 377.6h0M1195.6 388.5h0M1201.7 398.5h0M1192.2 410.1h0M1252.4 47.8h0M1245.7 51.7h0M1238.8 55.8h0M1244.3 60.3h0M1237.2 64.6h0M1229.9 69.1h0M1235.6 73.9h0M1228.0 78.6h0M1233.8 83.9h0M1226.0 88.7h0M1218.0 93.9h0M1223.9 99.5h0M1215.7 104.9h0M1207.1 110.6h0M1213.1 116.7h0M1204.3 122.6h0M1210.5 129.3h0M1201.3 135.5h0M1191.7 142.2h0M1198.0 149.4h0M1188.1 156.4h0"/><path stroke="#dc3b1d" d="M1265.6 239.1h0M1257.3 272.8h0M1249.1 295.4h0M1238.5 337.3h0M1228.4 365.9h0M1217.3 397.2h0M1264.4 49.6h0M1255.8 71.8h0M1247.3 85.9h0M1236.3 113.6h0M1225.7 131.6h0M1214.1 151.4h0"/><path stroke="#dd7325" d="M1277.3 238.4h0M1262.1 294.5h0M1232.7 396.0h0M1276.5 54.9h0M1260.8 91.9h0M1230.2 158.0h0"/><path stroke="#b5b83b" d="M1289.1 237.6h0M1248.2 394.8h0M1288.5 66.0h0M1246.3 172.0h0"/><path stroke="#489ca2" d="M1300.7 236.9h0M1263.6 393.5h0M1300.5 80.5h0M1262.2 190.7h0"/><path stroke="#3231c5" d="M1312.4 236.2h0M1301.1 291.8h0M1287.0 361.4h0M1312.3 91.2h0M1300.8 132.0h0M1286.4 183.1h0"/><path stroke="#46099d" d="M1324.0 235.4h0M1319.0 255.0h0M1313.6 276.2h0M1308.0 315.2h0M1301.5 341.6h0M1294.2 391.1h0M1324.2 96.2h0M1319.1 110.2h0M1313.6 125.3h0M1307.9 154.7h0M1301.2 173.8h0M1293.7 211.1h0"/><path stroke="#68078a" d="M1335.6 234.7h0M1341.9 240.6h0M1336.5 247.3h0M1331.0 254.2h0M1337.5 260.5h0M1331.9 267.8h0M1338.6 274.5h0M1332.8 282.2h0M1326.9 290.1h0M1333.8 297.3h0M1327.7 305.6h0M1321.5 314.2h0M1328.6 322.1h0M1322.2 331.2h0M1315.5 340.6h0M1329.5 339.5h0M1322.9 349.2h0M1316.1 359.1h0M1323.7 368.3h0M1316.7 378.9h0M1309.4 389.8h0M1317.3 399.9h0M1335.9 97.8h0M1342.4 102.7h0M1336.9 107.4h0M1331.3 112.1h0M1338.0 117.4h0M1332.2 122.5h0M1339.1 127.9h0M1333.2 133.3h0M1327.2 138.8h0M1334.2 144.8h0M1328.0 150.7h0M1321.6 156.6h0M1328.9 163.2h0M1322.3 169.6h0M1315.6 176.0h0M1329.9 176.3h0M1323.1 183.3h0M1316.1 190.3h0M1323.9 197.7h0M1316.7 205.3h0M1309.3 213.0h0M1317.4 221.3h0"/><path stroke="#740684" d="M1347.1 234.0h0M1358.6 233.3h0M1370.1 232.6h0M1381.6 231.9h0M1393.0 231.1h0M1404.4 230.4h0M1415.7 229.7h0M1427.1 229.0h0M1438.4 228.3h0M1353.6 239.8h0M1365.2 239.1h0M1376.8 238.4h0M1388.4 237.6h0M1399.9 236.9h0M1411.4 236.2h0M1422.9 235.5h0M1434.4 234.7h0M1445.8 234.0h0M1348.4 246.6h0M1360.2 245.8h0M1371.9 245.0h0M1383.7 244.3h0M1395.4 243.5h0M1407.0 242.8h0M1418.7 242.1h0M1430.3 241.3h0M1441.9 240.6h0M1453.4 239.8h0M1343.0 253.5h0M1355.0 252.7h0M1366.9 251.9h0M1378.8 251.1h0M1390.7 250.4h0M1402.5 249.6h0M1414.3 248.8h0M1426.1 248.1h0M1437.8 247.3h0M1449.5 246.6h0M1461.2 245.8h0M1349.7 259.7h0M1361.8 259.0h0M1373.9 258.2h0M1385.9 257.4h0M1397.9 256.6h0M1409.9 255.8h0M1421.8 255.0h0M1433.7 254.2h0M1445.6 253.5h0M1457.4 252.7h0M1469.2 251.9h0M1344.2 267.0h0M1356.5 266.2h0M1368.7 265.4h0M1381.0 264.6h0M1393.1 263.8h0M1405.3 263.0h0M1417.4 262.2h0M1429.4 261.4h0M1441.5 260.6h0M1453.5 259.8h0M1465.4 259.0h0M1477.4 258.2h0M1351.1 273.6h0M1363.5 272.8h0M1375.9 272.0h0M1388.2 271.1h0M1400.5 270.3h0M1412.8 269.5h0M1425.1 268.7h0M1437.3 267.9h0M1449.4 267.0h0M1461.6 266.2h0M1473.7 265.4h0M1485.7 264.6h0M1345.5 281.3h0M1358.1 280.4h0M1370.7 279.6h0M1383.2 278.7h0M1395.7 277.9h0M1408.1 277.0h0M1420.6 276.2h0M1432.9 275.3h0M1445.3 274.5h0M1457.6 273.7h0M1469.9 272.8h0M1482.1 272.0h0M1494.3 271.2h0M1339.7 289.2h0M1352.5 288.3h0M1365.3 287.4h0M1378.0 286.5h0M1390.7 285.7h0M1403.3 284.8h0M1415.9 283.9h0M1428.5 283.1h0M1441.0 282.2h0M1453.5 281.3h0M1466.0 280.5h0M1478.4 279.6h0M1490.8 278.8h0M1503.1 277.9h0M1346.8 296.4h0M1359.8 295.5h0M1372.7 294.6h0M1385.5 293.7h0M1398.4 292.8h0M1411.2 291.9h0M1423.9 291.0h0M1436.6 290.1h0M1449.3 289.2h0M1462.0 288.3h0M1474.6 287.4h0M1487.1 286.6h0M1499.7 285.7h0M1512.1 284.8h0M1340.9 304.7h0M1354.1 303.8h0M1367.2 302.8h0M1380.3 301.9h0M1393.3 301.0h0M1406.3 300.1h0M1419.2 299.1h0M1432.1 298.2h0M1445.0 297.3h0M1457.8 296.4h0M1470.6 295.5h0M1483.4 294.6h0M1496.1 293.7h0M1508.8 292.8h0M1521.4 291.9h0M1334.9 313.2h0M1348.2 312.3h0M1361.5 311.3h0M1374.8 310.4h0M1388.0 309.4h0M1401.2 308.5h0M1414.4 307.5h0M1427.5 306.6h0M1440.6 305.7h0M1453.6 304.7h0M1466.6 303.8h0M1479.5 302.9h0M1492.4 302.0h0M1505.3 301.0h0M1518.1 300.1h0M1530.9 299.2h0M1342.2 321.1h0M1355.7 320.1h0M1369.2 319.1h0M1382.6 318.2h0M1396.0 317.2h0M1409.4 316.2h0M1422.7 315.2h0M1436.0 314.3h0M1449.2 313.3h0M1462.4 312.4h0M1475.5 311.4h0M1488.6 310.4h0M1501.7 309.5h0M1514.7 308.6h0M1527.7 307.6h0M1540.7 306.7h0M1336.0 330.2h0M1349.7 329.1h0M1363.4 328.1h0M1377.1 327.1h0M1390.7 326.1h0M1404.2 325.1h0M1417.8 324.1h0M1431.3 323.1h0M1444.7 322.1h0M1458.1 321.2h0M1471.4 320.2h0M1484.7 319.2h0M1498.0 318.2h0M1511.2 317.2h0M1524.4 316.3h0M1537.6 315.3h0M1550.7 314.3h0M1343.5 338.5h0M1357.4 337.4h0M1371.3 336.4h0M1385.2 335.4h0M1398.9 334.3h0M1412.7 333.3h0M1426.4 332.3h0M1440.0 331.3h0M1453.6 330.2h0M1467.2 329.2h0M1480.7 328.2h0M1494.2 327.2h0M1507.6 326.2h0M1521.0 325.2h0M1534.4 324.2h0M1547.7 323.2h0M1561.0 322.2h0M1337.1 348.1h0M1351.3 347.0h0M1365.4 345.9h0M1379.5 344.9h0M1393.5 343.8h0M1407.4 342.8h0M1421.4 341.7h0M1435.2 340.7h0M1449.1 339.6h0M1462.9 338.6h0M1476.6 337.5h0M1490.3 336.5h0M1503.9 335.4h0M1517.5 334.4h0M1531.1 333.4h0M1544.6 332.4h0M1558.1 331.3h0M1571.5 330.3h0M1330.5 358.0h0M1344.9 356.9h0M1359.3 355.8h0M1373.6 354.7h0M1387.8 353.6h0M1402.0 352.5h0M1416.2 351.4h0M1430.3 350.3h0M1444.3 349.3h0M1458.4 348.2h0M1472.3 347.1h0M1486.2 346.0h0M1500.1 345.0h0M1513.9 343.9h0M1527.7 342.8h0M1541.5 341.8h0M1555.2 340.7h0M1568.8 339.7h0M1582.4 338.6h0M1338.4 367.1h0M1353.0 366.0h0M1367.5 364.9h0M1382.0 363.7h0M1396.4 362.6h0M1410.8 361.5h0M1425.2 360.4h0M1439.5 359.2h0M1453.7 358.1h0M1467.9 357.0h0M1482.1 355.9h0M1496.2 354.8h0M1510.2 353.7h0M1524.2 352.6h0M1538.2 351.5h0M1552.1 350.4h0M1566.0 349.4h0M1579.8 348.3h0M1593.6 347.2h0M1331.6 377.7h0M1346.4 376.5h0M1361.2 375.3h0M1376.0 374.2h0M1390.7 373.0h0M1405.3 371.8h0M1419.9 370.7h0M1434.4 369.5h0M1448.9 368.4h0M1463.4 367.2h0M1477.8 366.1h0M1492.1 365.0h0M1506.4 363.8h0M1520.6 362.7h0M1534.8 361.6h0M1549.0 360.5h0M1563.1 359.3h0M1577.1 358.2h0M1591.1 357.1h0M1605.1 356.0h0M1324.6 388.6h0M1339.7 387.4h0M1354.7 386.2h0M1369.7 385.0h0M1384.7 383.8h0M1399.6 382.6h0M1414.4 381.4h0M1429.2 380.2h0M1444.0 379.0h0M1458.7 377.8h0M1473.3 376.6h0M1487.9 375.5h0M1502.4 374.3h0M1516.9 373.1h0M1531.3 372.0h0M1545.7 370.8h0M1560.1 369.7h0M1574.3 368.5h0M1588.6 367.4h0M1602.8 366.2h0M1616.9 365.1h0M1332.7 398.6h0M1348.0 397.4h0M1363.3 396.1h0M1378.5 394.9h0M1393.7 393.7h0M1408.8 392.4h0M1423.8 391.2h0M1438.8 390.0h0M1453.8 388.7h0M1468.7 387.5h0M1483.5 386.3h0M1498.3 385.1h0M1513.1 383.9h0M1527.7 382.7h0M1542.4 381.5h0M1557.0 380.3h0M1571.5 379.1h0M1586.0 377.9h0M1600.4 376.8h0M1614.8 375.6h0M1629.1 374.4h0M1347.7 98.0h0M1359.4 97.7h0M1371.1 97.2h0M1382.7 96.7h0M1394.4 96.2h0M1405.9 95.7h0M1417.5 95.1h0M1429.0 94.6h0M1440.5 94.1h0M1354.3 102.5h0M1366.1 102.1h0M1377.9 101.6h0M1389.7 101.0h0M1401.4 100.5h0M1413.2 99.9h0M1424.8 99.4h0M1436.5 98.8h0M1448.1 98.3h0M1349.0 107.4h0M1361.0 107.0h0M1373.0 106.5h0M1384.9 106.0h0M1396.8 105.4h0M1408.7 104.8h0M1420.5 104.3h0M1432.4 103.7h0M1444.1 103.2h0M1455.9 102.6h0M1343.6 112.4h0M1355.7 112.1h0M1367.9 111.6h0M1380.0 111.0h0M1392.1 110.5h0M1404.1 109.9h0M1416.1 109.3h0M1428.1 108.7h0M1440.1 108.2h0M1452.0 107.6h0M1463.8 107.0h0M1350.3 117.2h0M1362.7 116.8h0M1374.9 116.2h0M1387.2 115.7h0M1399.4 115.1h0M1411.6 114.5h0M1423.8 113.9h0M1435.9 113.3h0M1447.9 112.7h0M1460.0 112.1h0M1472.0 111.6h0M1344.8 122.5h0M1357.3 122.1h0M1369.8 121.6h0M1382.2 121.0h0M1394.6 120.4h0M1406.9 119.8h0M1419.3 119.2h0M1431.6 118.6h0M1443.8 118.0h0M1456.0 117.4h0M1468.2 116.8h0M1480.4 116.2h0M1351.8 127.6h0M1364.4 127.1h0M1377.0 126.5h0M1389.6 125.9h0M1402.2 125.3h0M1414.7 124.7h0M1427.1 124.0h0M1439.6 123.4h0M1452.0 122.8h0M1464.3 122.2h0M1476.6 121.6h0M1488.9 120.9h0M1346.1 133.2h0M1358.9 132.7h0M1371.7 132.2h0M1384.5 131.5h0M1397.2 130.9h0M1409.9 130.3h0M1422.6 129.6h0M1435.2 129.0h0M1447.8 128.3h0M1460.3 127.7h0M1472.8 127.1h0M1485.3 126.5h0M1497.7 125.8h0M1340.2 138.9h0M1353.3 138.5h0M1366.3 138.0h0M1379.2 137.3h0M1392.2 136.7h0M1405.0 136.0h0M1417.9 135.4h0M1430.7 134.7h0M1443.5 134.1h0M1456.2 133.4h0M1468.9 132.8h0M1481.5 132.1h0M1494.1 131.5h0M1506.7 130.8h0M1347.5 144.5h0M1360.7 143.9h0M1373.8 143.3h0M1386.9 142.6h0M1400.0 142.0h0M1413.1 141.3h0M1426.1 140.6h0M1439.0 139.9h0M1451.9 139.3h0M1464.8 138.6h0M1477.7 137.9h0M1490.5 137.3h0M1503.2 136.6h0M1516.0 136.0h0M1341.5 150.6h0M1354.9 150.1h0M1368.2 149.5h0M1381.6 148.8h0M1394.9 148.1h0M1408.1 147.4h0M1421.3 146.7h0M1434.5 146.0h0M1447.6 145.3h0M1460.7 144.6h0M1473.7 143.9h0M1486.7 143.3h0M1499.7 142.6h0M1512.6 141.9h0M1525.4 141.2h0M1335.3 156.8h0M1348.9 156.4h0M1362.5 155.8h0M1376.0 155.1h0M1389.5 154.4h0M1403.0 153.7h0M1416.4 153.0h0M1429.8 152.3h0M1443.1 151.5h0M1456.4 150.8h0M1469.6 150.1h0M1482.8 149.4h0M1496.0 148.7h0M1509.1 148.0h0M1522.2 147.3h0M1535.2 146.6h0M1342.8 162.9h0M1356.6 162.3h0M1370.3 161.6h0M1384.0 160.9h0M1397.7 160.2h0M1411.3 159.4h0M1424.9 158.7h0M1438.4 158.0h0M1451.9 157.2h0M1465.4 156.5h0M1478.8 155.8h0M1492.2 155.1h0M1505.5 154.3h0M1518.8 153.6h0M1532.0 152.9h0M1545.2 152.2h0M1336.4 169.5h0M1350.4 169.0h0M1364.4 168.3h0M1378.4 167.6h0M1392.3 166.8h0M1406.1 166.1h0M1419.9 165.3h0M1433.7 164.6h0M1447.4 163.8h0M1461.0 163.1h0M1474.7 162.3h0M1488.2 161.6h0M1501.8 160.8h0M1515.3 160.1h0M1528.7 159.4h0M1542.1 158.6h0M1555.5 157.9h0M1344.1 175.9h0M1358.4 175.2h0M1372.5 174.5h0M1386.6 173.7h0M1400.7 172.9h0M1414.8 172.2h0M1428.7 171.4h0M1442.7 170.6h0M1456.6 169.8h0M1470.4 169.1h0M1484.2 168.3h0M1498.0 167.5h0M1511.7 166.8h0M1525.3 166.0h0M1538.9 165.3h0M1552.5 164.5h0M1566.0 163.8h0M1337.6 183.0h0M1352.1 182.4h0M1366.5 181.6h0M1380.9 180.8h0M1395.2 180.0h0M1409.4 179.2h0M1423.6 178.4h0M1437.8 177.6h0M1451.9 176.8h0M1466.0 176.0h0M1480.0 175.3h0M1494.0 174.5h0M1507.9 173.7h0M1521.8 172.9h0M1535.7 172.1h0M1549.5 171.3h0M1563.2 170.6h0M1576.9 169.8h0M1330.9 190.3h0M1345.6 189.7h0M1360.3 189.0h0M1374.9 188.2h0M1389.4 187.4h0M1403.9 186.5h0M1418.4 185.7h0M1432.8 184.9h0M1447.2 184.1h0M1461.5 183.2h0M1475.7 182.4h0M1489.9 181.6h0M1504.1 180.8h0M1518.2 180.0h0M1532.3 179.2h0M1546.3 178.4h0M1560.3 177.6h0M1574.2 176.8h0M1588.1 176.0h0M1338.9 197.3h0M1353.8 196.6h0M1368.7 195.8h0M1383.5 194.9h0M1398.3 194.1h0M1413.0 193.2h0M1427.6 192.4h0M1442.2 191.5h0M1456.8 190.7h0M1471.3 189.8h0M1485.7 189.0h0M1500.1 188.2h0M1514.5 187.3h0M1528.8 186.5h0M1543.0 185.7h0M1557.3 184.8h0M1571.4 184.0h0M1585.5 183.2h0M1599.6 182.4h0M1332.0 205.1h0M1347.2 204.4h0M1362.3 203.6h0M1377.4 202.7h0M1392.4 201.9h0M1407.3 201.0h0M1422.3 200.1h0M1437.1 199.2h0M1451.9 198.4h0M1466.7 197.5h0M1481.4 196.6h0M1496.0 195.8h0M1510.6 194.9h0M1525.2 194.0h0M1539.7 193.2h0M1554.1 192.3h0M1568.5 191.5h0M1582.9 190.6h0M1597.2 189.8h0M1611.4 189.0h0M1324.8 213.1h0M1340.3 212.5h0M1355.7 211.7h0M1371.0 210.8h0M1386.3 209.9h0M1401.5 209.0h0M1416.7 208.1h0M1431.8 207.2h0M1446.9 206.3h0M1461.9 205.4h0M1476.9 204.5h0M1491.8 203.6h0M1506.7 202.7h0M1521.5 201.8h0M1536.2 201.0h0M1550.9 200.1h0M1565.5 199.2h0M1580.1 198.3h0M1594.7 197.5h0M1609.2 196.6h0M1623.6 195.7h0M1333.1 220.9h0M1348.8 220.1h0M1364.4 219.2h0M1380.0 218.3h0M1395.5 217.3h0M1411.0 216.4h0M1426.4 215.5h0M1441.7 214.5h0M1457.0 213.6h0M1472.2 212.7h0M1487.4 211.7h0M1502.5 210.8h0M1517.6 209.9h0M1532.6 209.0h0M1547.6 208.1h0M1562.5 207.2h0M1577.3 206.3h0M1592.1 205.4h0M1606.9 204.5h0M1621.5 203.6h0M1636.2 202.7h0"/><path stroke="#da301b" d="M1259.3 245.8h0M1258.3 258.9h0M1250.4 280.4h0M1241.7 303.7h0M1240.2 320.0h0M1230.4 346.9h0M1219.8 376.4h0M1257.9 52.8h0M1256.9 61.9h0M1248.7 75.3h0M1239.8 89.9h0M1238.1 101.3h0M1227.9 118.2h0M1216.8 136.9h0"/><path stroke="#e35d24" d="M1271.2 245.0h0M1255.0 302.8h0M1234.8 375.2h0M1223.8 407.5h0M1270.1 56.5h0M1253.4 94.2h0M1232.4 141.8h0M1220.9 162.1h0"/><path stroke="#cda42a" d="M1283.0 244.3h0M1268.3 301.8h0M1239.5 406.3h0M1282.3 65.4h0M1267.1 104.3h0M1237.3 173.3h0"/><path stroke="#67ae6e" d="M1294.9 243.5h0M1255.2 405.0h0M1294.5 79.6h0M1253.6 191.6h0"/><path stroke="#305ec9" d="M1306.7 242.8h0M1294.6 300.0h0M1306.5 92.6h0M1294.2 134.2h0"/><path stroke="#3a0aa4" d="M1318.4 242.1h0M1307.7 299.1h0M1294.3 370.6h0M1286.4 402.4h0M1318.5 99.6h0M1307.6 141.6h0M1293.8 194.6h0M1285.7 217.5h0"/><path stroke="#5d0791" d="M1330.2 241.3h0M1325.4 261.3h0M1326.1 275.3h0M1320.2 283.0h0M1320.8 298.2h0M1315.0 323.1h0M1308.7 350.2h0M1309.0 369.4h0M1301.7 380.1h0M1301.9 401.2h0M1330.5 102.1h0M1325.6 116.7h0M1326.3 127.5h0M1320.3 132.5h0M1320.9 144.3h0M1315.0 162.5h0M1308.6 182.4h0M1308.9 197.3h0M1301.4 204.3h0M1301.6 220.8h0"/><path stroke="#d82418" d="M1252.7 252.7h0M1251.6 266.2h0M1244.7 273.6h0M1243.3 288.2h0M1234.2 312.2h0M1232.4 329.1h0M1224.4 338.4h0M1222.1 356.8h0M1210.9 387.3h0M1208.0 408.8h0M1251.2 56.4h0M1250.0 65.5h0M1242.9 69.5h0M1241.3 79.4h0M1232.0 94.5h0M1230.0 105.9h0M1221.7 111.1h0M1219.3 123.5h0M1207.6 142.9h0M1204.5 157.5h0"/><path stroke="#de461f" d="M1264.8 251.9h0M1247.7 311.3h0M1226.2 386.0h0M1263.6 58.9h0M1245.9 97.3h0M1223.4 146.1h0"/><path stroke="#d98226" d="M1276.8 251.1h0M1252.5 336.3h0M1276.0 65.7h0M1250.8 121.0h0"/><path stroke="#96b54f" d="M1288.8 250.4h0M1288.3 78.5h0"/><path stroke="#3c83b5" d="M1300.8 249.6h0M1300.6 93.0h0"/><path stroke="#3219b3" d="M1312.8 248.8h0M1301.2 307.5h0M1286.7 381.2h0M1312.7 102.4h0M1301.0 145.5h0M1286.1 200.0h0"/><path stroke="#510897" d="M1324.7 248.1h0M1319.6 268.6h0M1314.0 290.9h0M1314.5 306.6h0M1308.3 332.2h0M1301.6 360.2h0M1324.9 106.3h0M1319.7 121.1h0M1314.0 137.2h0M1314.5 149.6h0M1308.2 168.3h0M1301.3 188.7h0"/><path stroke="#df6c25" d="M1270.5 258.1h0M1253.8 319.1h0M1269.4 66.9h0M1252.2 107.0h0"/><path stroke="#bab438" d="M1282.7 257.4h0M1267.4 318.1h0M1281.9 77.7h0M1266.2 119.2h0"/><path stroke="#4d9f99" d="M1294.8 256.6h0M1281.0 317.1h0M1294.4 92.7h0M1280.2 135.9h0"/><path stroke="#323dcd" d="M1306.9 255.8h0M1294.5 316.1h0M1278.9 392.3h0M1306.8 104.5h0M1294.1 148.7h0M1278.0 204.7h0"/><path stroke="#e05121" d="M1264.0 265.4h0M1256.2 287.4h0M1246.3 328.1h0M1236.7 355.7h0M1262.7 68.9h0M1254.6 82.5h0M1244.3 109.8h0M1234.4 127.1h0"/><path stroke="#d29727" d="M1276.3 264.6h0M1251.2 354.6h0M1275.4 77.5h0M1249.4 136.5h0"/><path stroke="#6eb068" d="M1288.6 263.7h0M1273.9 326.1h0M1288.1 91.9h0M1272.9 135.7h0"/><path stroke="#3167c6" d="M1300.9 262.9h0M1287.6 325.1h0M1270.8 403.7h0M1300.6 105.8h0M1287.0 150.9h0M1269.7 208.4h0"/><path stroke="#320eab" d="M1313.2 262.1h0M1307.4 283.9h0M1301.3 324.1h0M1294.4 351.3h0M1313.1 113.7h0M1307.3 129.0h0M1301.1 159.4h0M1293.9 178.8h0"/><path stroke="#db7a26" d="M1269.8 271.9h0M1243.1 364.7h0M1268.7 78.2h0M1241.0 138.5h0"/><path stroke="#9eb64a" d="M1282.3 271.1h0M1266.6 335.3h0M1281.5 90.9h0M1265.3 135.4h0"/><path stroke="#3f89b0" d="M1294.7 270.3h0M1280.5 334.2h0M1294.3 106.2h0M1279.7 152.3h0"/><path stroke="#3225bc" d="M1307.2 269.5h0M1294.4 333.2h0M1307.0 116.6h0M1294.0 163.5h0"/><path stroke="#e16524" d="M1263.1 279.5h0M1244.7 345.9h0M1261.8 79.9h0M1242.7 123.5h0"/><path stroke="#c3ac31" d="M1275.8 278.7h0M1274.8 90.4h0"/><path stroke="#58a588" d="M1288.4 277.8h0M1287.8 105.9h0"/><path stroke="#3153ca" d="M1301.0 277.0h0M1279.5 371.7h0M1300.7 118.8h0M1278.6 186.6h0"/><path stroke="#d49027" d="M1269.0 286.5h0M1267.9 90.7h0"/><path stroke="#7eb25e" d="M1281.9 285.6h0M1281.1 105.1h0"/><path stroke="#3775bd" d="M1294.7 284.7h0M1294.3 120.0h0"/><path stroke="#aeb840" d="M1275.2 293.6h0M1274.2 104.5h0"/><path stroke="#4497a8" d="M1288.2 292.7h0M1287.6 120.4h0"/><path stroke="#62ab77" d="M1281.5 300.9h0M1280.7 120.1h0"/><path stroke="#d78926" d="M1261.1 310.3h0M1241.4 384.8h0M1259.7 105.1h0M1239.2 155.1h0"/><path stroke="#8eb454" d="M1274.5 309.4h0M1273.6 119.6h0"/><path stroke="#3a7cb9" d="M1287.9 308.4h0M1271.7 382.4h0M1287.3 135.5h0M1270.6 189.1h0"/><path stroke="#d09e28" d="M1260.1 327.1h0M1258.6 119.6h0"/><path stroke="#beb034" d="M1259.0 344.8h0M1257.5 135.5h0"/><path stroke="#53a290" d="M1273.2 343.7h0M1272.2 152.7h0"/><path stroke="#3148cb" d="M1287.3 342.7h0M1286.7 166.8h0"/><path stroke="#76b163" d="M1265.6 353.5h0M1264.4 152.7h0"/><path stroke="#346ec2" d="M1280.0 352.4h0M1279.2 169.2h0"/><path stroke="#a6b745" d="M1257.8 363.6h0M1256.3 152.8h0"/><path stroke="#4290ac" d="M1272.4 362.5h0M1271.4 170.6h0"/><path stroke="#c8a82d" d="M1249.7 374.1h0M1247.9 153.4h0"/><path stroke="#5da87f" d="M1264.6 372.9h0M1263.3 171.2h0"/><path stroke="#86b359" d="M1256.5 383.6h0M1255.0 171.5h0"/></g><path d="M1002.6 433.6 L1647.2 380.3 M1647.2 380.3 L1658.2 128.1 M1658.2 128.1 L1448.5 32.8 M1634.7 381.3 L1635.1 370.9 M1605.8 383.7 L1606.0 378.0 M1576.7 386.1 L1576.9 380.4 M1547.4 388.6 L1547.6 382.8 M1518.0 391.0 L1518.1 385.2 M1488.3 393.5 L1488.5 382.8 M1458.3 395.9 L1458.4 390.1 M1428.2 398.4 L1428.3 392.5 M1397.9 400.9 L1397.9 395.0 M1367.3 403.4 L1367.3 397.5 M1336.5 406.0 L1336.5 395.2 M1305.5 408.6 L1305.5 402.6 M1274.2 411.1 L1274.2 405.2 M1242.7 413.7 L1242.7 407.7 M1211.0 416.4 L1210.9 410.3 M1179.1 419.0 L1178.9 408.0 M1146.9 421.7 L1146.8 415.6 M1114.5 424.3 L1114.3 418.3 M1081.8 427.0 L1081.6 420.9 M1048.9 429.8 L1048.7 423.6 M1015.7 432.5 L1015.3 421.3 M1647.3 377.7 L1643.0 378.1 M1648.1 360.8 L1643.7 361.2 M1648.8 343.8 L1640.9 344.5 M1649.5 326.8 L1645.2 327.1 M1650.3 309.6 L1645.9 310.0 M1651.0 292.4 L1646.7 292.7 M1651.8 275.1 L1643.8 275.7 M1652.6 257.8 L1648.2 258.1 M1653.3 240.3 L1648.9 240.6 M1654.1 222.8 L1649.7 223.1 M1654.8 205.2 L1646.8 205.7 M1655.6 187.5 L1651.2 187.7 M1656.4 169.7 L1652.0 170.0 M1657.2 151.9 L1652.7 152.1 M1658.0 133.9 L1649.8 134.4 M1652.2 125.4 L1651.8 135.0 M1639.3 119.5 L1639.0 125.1 M1626.8 113.8 L1626.5 119.4 M1614.6 108.3 L1614.4 113.8 M1602.8 102.9 L1602.6 108.3 M1591.3 97.7 L1591.0 106.7 M1580.2 92.6 L1580.0 97.9 M1569.3 87.7 L1569.2 92.9 M1558.8 82.9 L1558.6 88.0 M1548.5 78.3 L1548.4 83.3 M1538.5 73.7 L1538.3 82.1 M1528.8 69.3 L1528.7 74.2 M1519.3 65.0 L1519.2 69.9 M1510.1 60.8 L1510.0 65.6 M1501.1 56.7 L1501.0 61.5 M1492.3 52.7 L1492.2 60.6 M1483.8 48.8 L1483.7 53.5 M1475.4 45.0 L1475.3 49.6 M1467.3 41.3 L1467.2 45.9 M1459.3 37.7 L1459.2 42.2 M1451.5 34.2 L1451.4 41.6" stroke="#8c8c8c" stroke-width="1.3" fill="none"/><text transform="translate(1015.2 463.2) scale(0.920 1)" font-size="23.0" text-anchor="middle" font-family="Liberation Sans, Arial, sans-serif" fill="#1e1e1e" stroke="#1e1e1e" stroke-width="0.25">20</text><text transform="translate(1178.8 450.2) scale(0.920 1)" font-size="23.0" text-anchor="middle" font-family="Liberation Sans, Arial, sans-serif" fill="#1e1e1e" stroke="#1e1e1e" stroke-width="0.25">10</text><text transform="translate(1334.5 436.6) scale(0.920 1)" font-size="23.0" text-anchor="middle" font-family="Liberation Sans, Arial, sans-serif" fill="#1e1e1e" stroke="#1e1e1e" stroke-width="0.25">0</text><text transform="translate(1486.8 424.2) scale(0.920 1)" font-size="23.0" text-anchor="middle" font-family="Liberation Sans, Arial, sans-serif" fill="#1e1e1e" stroke="#1e1e1e" stroke-width="0.25">−10</text><text transform="translate(1632.6 412.7) scale(0.920 1)" font-size="23.0" text-anchor="middle" font-family="Liberation Sans, Arial, sans-serif" fill="#1e1e1e" stroke="#1e1e1e" stroke-width="0.25">−20</text><text transform="translate(1672.0 141.8) scale(0.920 1)" font-size="23.0" text-anchor="middle" font-family="Liberation Sans, Arial, sans-serif" fill="#1e1e1e" stroke="#1e1e1e" stroke-width="0.25">2</text><text transform="translate(1668.3 212.6) scale(0.920 1)" font-size="23.0" text-anchor="middle" font-family="Liberation Sans, Arial, sans-serif" fill="#1e1e1e" stroke="#1e1e1e" stroke-width="0.25">0</text><text transform="translate(1672.8 282.1) scale(0.920 1)" font-size="23.0" text-anchor="middle" font-family="Liberation Sans, Arial, sans-serif" fill="#1e1e1e" stroke="#1e1e1e" stroke-width="0.25">−2</text><text transform="translate(1670.3 350.9) scale(0.920 1)" font-size="23.0" text-anchor="middle" font-family="Liberation Sans, Arial, sans-serif" fill="#1e1e1e" stroke="#1e1e1e" stroke-width="0.25">−4</text><text transform="translate(1451.0 20.2) scale(0.920 1)" font-size="23.0" text-anchor="middle" font-family="Liberation Sans, Arial, sans-serif" fill="#1e1e1e" stroke="#1e1e1e" stroke-width="0.25">10</text><text transform="translate(1491.5 38.0) scale(0.920 1)" font-size="23.0" text-anchor="middle" font-family="Liberation Sans, Arial, sans-serif" fill="#1e1e1e" stroke="#1e1e1e" stroke-width="0.25">5</text><text transform="translate(1538.0 59.5) scale(0.920 1)" font-size="23.0" text-anchor="middle" font-family="Liberation Sans, Arial, sans-serif" fill="#1e1e1e" stroke="#1e1e1e" stroke-width="0.25">0</text><text transform="translate(1591.2 83.7) scale(0.920 1)" font-size="23.0" text-anchor="middle" font-family="Liberation Sans, Arial, sans-serif" fill="#1e1e1e" stroke="#1e1e1e" stroke-width="0.25">−5</text><text transform="translate(1652.4 112.1) scale(0.920 1)" font-size="23.0" text-anchor="middle" font-family="Liberation Sans, Arial, sans-serif" fill="#1e1e1e" stroke="#1e1e1e" stroke-width="0.25">−10</text><text transform="matrix(0.3787 0 0 0.3937 1528.89 19.86)" font-size="100" font-family="Liberation Serif, serif" fill="#111">n</text><text transform="matrix(0.3235 0 0 0.3673 1695.59 262.68)" font-size="100" font-family="DejaVu Serif, serif" font-style="italic" fill="#111">ν</text><text transform="matrix(0.3770 0 0 0.4043 1319.70 480.85)" font-size="100" font-family="Liberation Serif, serif" fill="#111">m</text><text transform="matrix(0.3750 0 0 0.4639 223.82 564.53)" font-size="100" font-family="Liberation Serif, serif" fill="#000" stroke="#000" stroke-width="1.05">(</text><text transform="matrix(0.4813 0 0 0.3990 238.18 564.18)" font-size="100" font-family="Liberation Serif, serif" fill="#000" stroke="#000" stroke-width="1.00">a</text><text transform="matrix(0.3750 0 0 0.4639 260.90 564.53)" font-size="100" font-family="Liberation Serif, serif" fill="#000" stroke="#000" stroke-width="1.05">)</text><text transform="matrix(0.3912 0 0 0.3548 289.89 563.62)" font-size="100" font-family="DejaVu Serif, serif" font-style="italic" fill="#000" stroke="#000" stroke-width="1.18">ν</text><text transform="matrix(0.3904 0 0 0.4661 316.86 564.79)" font-size="100" font-family="Liberation Serif, serif" fill="#000" stroke="#000" stroke-width="1.02">(</text><text transform="matrix(0.4530 0 0 0.3557 329.55 564.37)" font-size="100" font-family="DejaVu Serif, serif" font-style="italic" fill="#000" stroke="#000" stroke-width="1.09">n</text><text transform="matrix(0.2967 0 0 0.4942 359.64 563.67)" font-size="100" font-family="Liberation Serif, serif" fill="#000" stroke="#000" stroke-width="1.07">,</text><text transform="matrix(0.3027 0 0 0.3737 376.52 564.43)" font-size="100" font-family="DejaVu Serif, serif" font-style="italic" fill="#000" stroke="#000" stroke-width="1.31">ξ</text><text transform="matrix(0.3750 0 0 0.4661 398.30 564.79)" font-size="100" font-family="Liberation Serif, serif" fill="#000" stroke="#000" stroke-width="1.04">)</text><text transform="matrix(0.3712 0 0 0.4617 1268.74 564.58)" font-size="100" font-family="Liberation Serif, serif" fill="#000" stroke="#000" stroke-width="1.05">(</text><text transform="matrix(0.4446 0 0 0.4179 1284.22 564.06)" font-size="100" font-family="Liberation Serif, serif" fill="#000" stroke="#000" stroke-width="1.02">b</text><text transform="matrix(0.3673 0 0 0.4617 1308.32 564.58)" font-size="100" font-family="Liberation Serif, serif" fill="#000" stroke="#000" stroke-width="1.06">)</text><text transform="matrix(0.3951 0 0 0.3471 1336.66 563.43)" font-size="100" font-family="DejaVu Serif, serif" font-style="italic" fill="#000" stroke="#000" stroke-width="1.18">ν</text><text transform="matrix(0.3865 0 0 0.4617 1364.08 564.58)" font-size="100" font-family="Liberation Serif, serif" fill="#000" stroke="#000" stroke-width="1.03">(</text><text transform="matrix(0.4530 0 0 0.3538 1376.65 564.47)" font-size="100" font-family="DejaVu Serif, serif" font-style="italic" fill="#000" stroke="#000" stroke-width="1.09">n</text><text transform="matrix(0.2700 0 0 0.4788 1407.44 563.81)" font-size="100" font-family="Liberation Serif, serif" fill="#000" stroke="#000" stroke-width="1.13">,</text><text transform="matrix(0.4265 0 0 0.3538 1421.94 564.47)" font-size="100" font-family="DejaVu Serif, serif" font-style="italic" fill="#000" stroke="#000" stroke-width="1.13">m</text><text transform="matrix(0.3442 0 0 0.4617 1463.09 564.58)" font-size="100" font-family="Liberation Serif, serif" fill="#000" stroke="#000" stroke-width="1.09">)</text><text transform="matrix(0.3596 0 0 0.4617 224.79 1158.08)" font-size="100" font-family="Liberation Serif, serif" fill="#000" stroke="#000" stroke-width="1.07">(</text><text transform="matrix(0.4338 0 0 0.3885 238.49 1157.29)" font-size="100" font-family="Liberation Serif, serif" fill="#000" stroke="#000" stroke-width="1.07">c</text><text transform="matrix(0.3596 0 0 0.4617 259.55 1158.08)" font-size="100" font-family="Liberation Serif, serif" fill="#000" stroke="#000" stroke-width="1.07">)</text><text transform="matrix(0.3918 0 0 0.4326 290.05 1157.24)" font-size="100" font-family="Liberation Serif, serif" fill="#000" stroke="#000" stroke-width="1.07">Φ</text><text transform="matrix(0.3071 0 0 0.2735 320.46 1161.98)" font-size="100" font-family="Liberation Serif, serif" fill="#000" stroke="#000" stroke-width="1.50">1</text><text transform="matrix(0.3981 0 0 0.4617 341.83 1158.18)" font-size="100" font-family="Liberation Serif, serif" fill="#000" stroke="#000" stroke-width="1.02">(</text><text transform="matrix(0.3045 0 0 0.3851 356.31 1157.79)" font-size="100" font-family="DejaVu Serif, serif" font-style="italic" fill="#000" stroke="#000" stroke-width="1.28">ξ</text><text transform="matrix(0.3750 0 0 0.4617 378.50 1158.18)" font-size="100" font-family="Liberation Serif, serif" fill="#000" stroke="#000" stroke-width="1.05">)</text><text transform="matrix(0.3232 0 0 0.2649 394.03 1139.01)" font-size="100" font-family="Liberation Serif, serif" fill="#000" stroke="#000" stroke-width="1.49">2</text><text transform="matrix(0.3635 0 0 0.4617 1275.97 1158.18)" font-size="100" font-family="Liberation Serif, serif" fill="#000" stroke="#000" stroke-width="1.06">(</text><text transform="matrix(0.4554 0 0 0.4150 1289.56 1157.16)" font-size="100" font-family="Liberation Serif, serif" fill="#000" stroke="#000" stroke-width="1.02">d</text><text transform="matrix(0.3750 0 0 0.4617 1315.10 1158.18)" font-size="100" font-family="Liberation Serif, serif" fill="#000" stroke="#000" stroke-width="1.05">)</text><text transform="matrix(0.3791 0 0 0.4341 1347.33 1157.14)" font-size="100" font-family="Liberation Serif, serif" fill="#000" stroke="#000" stroke-width="1.09">Ψ</text><text transform="matrix(0.3043 0 0 0.2780 1378.59 1161.98)" font-size="100" font-family="Liberation Serif, serif" fill="#000" stroke="#000" stroke-width="1.50">1</text><text transform="matrix(0.3865 0 0 0.4617 1400.28 1158.18)" font-size="100" font-family="Liberation Serif, serif" fill="#000" stroke="#000" stroke-width="1.03">(</text><text transform="matrix(0.3170 0 0 0.3851 1414.37 1157.79)" font-size="100" font-family="DejaVu Serif, serif" font-style="italic" fill="#000" stroke="#000" stroke-width="1.26">ξ</text><text transform="matrix(0.3750 0 0 0.4617 1436.60 1158.18)" font-size="100" font-family="Liberation Serif, serif" fill="#000" stroke="#000" stroke-width="1.05">)</text><text transform="matrix(0.3232 0 0 0.2694 1452.13 1139.31)" font-size="100" font-family="Liberation Serif, serif" fill="#000" stroke="#000" stroke-width="1.47">2</text><path d="M0.3 1072.7 H657.1 M308.4 1093.7 V687.7 M15.0 1072.7 v-3.8 M37.6 1072.7 v-3.8 M60.1 1072.7 v-3.8 M82.7 1072.7 v-7.0 M105.3 1072.7 v-3.8 M127.8 1072.7 v-3.8 M150.4 1072.7 v-3.8 M173.0 1072.7 v-3.8 M195.5 1072.7 v-7.0 M218.1 1072.7 v-3.8 M240.7 1072.7 v-3.8 M263.3 1072.7 v-3.8 M285.8 1072.7 v-3.8 M331.0 1072.7 v-3.8 M353.5 1072.7 v-3.8 M376.1 1072.7 v-3.8 M398.7 1072.7 v-3.8 M421.2 1072.7 v-7.0 M443.8 1072.7 v-3.8 M466.4 1072.7 v-3.8 M489.0 1072.7 v-3.8 M511.5 1072.7 v-3.8 M534.1 1072.7 v-7.0 M556.7 1072.7 v-3.8 M579.2 1072.7 v-3.8 M601.8 1072.7 v-3.8 M624.4 1072.7 v-3.8 M647.0 1072.7 v-7.0 M308.4 1089.0 h3.6 M308.4 1056.5 h3.6 M308.4 1040.2 h3.6 M308.4 1024.0 h3.6 M308.4 1007.7 h3.6 M308.4 991.5 h6.8 M308.4 975.2 h3.6 M308.4 959.0 h3.6 M308.4 942.7 h3.6 M308.4 926.5 h3.6 M308.4 910.2 h6.8 M308.4 894.0 h3.6 M308.4 877.7 h3.6 M308.4 861.5 h3.6 M308.4 845.2 h3.6 M308.4 829.0 h6.8 M308.4 812.7 h3.6 M308.4 796.5 h3.6 M308.4 780.2 h3.6 M308.4 764.0 h3.6 M308.4 747.7 h6.8 M308.4 731.5 h3.6 M308.4 715.2 h3.6 M308.4 699.0 h3.6" stroke="#7f7f7f" stroke-width="1.3" fill="none"/><path d="M12.7 1072.7 L14.9 1072.7 L17.0 1072.7 L19.1 1072.7 L21.2 1072.7 L23.3 1072.7 L25.5 1072.7 L27.6 1072.7 L29.7 1072.7 L31.8 1072.7 L33.9 1072.7 L36.1 1072.7 L38.2 1072.7 L40.3 1072.7 L42.4 1072.7 L44.5 1072.7 L46.7 1072.7 L48.8 1072.7 L50.9 1072.7 L53.0 1072.7 L55.2 1072.7 L57.3 1072.7 L59.4 1072.7 L61.5 1072.7 L63.6 1072.7 L65.8 1072.7 L67.9 1072.7 L70.0 1072.7 L72.1 1072.7 L74.2 1072.7 L76.4 1072.7 L78.5 1072.7 L80.6 1072.7 L82.7 1072.7 L84.9 1072.7 L87.0 1072.7 L89.1 1072.7 L91.2 1072.7 L93.3 1072.6 L95.5 1072.6 L97.6 1072.6 L99.7 1072.6 L101.8 1072.6 L103.9 1072.6 L106.1 1072.6 L108.2 1072.6 L110.3 1072.6 L112.4 1072.6 L114.5 1072.6 L116.7 1072.5 L118.8 1072.5 L120.9 1072.5 L123.0 1072.5 L125.2 1072.5 L127.3 1072.5 L129.4 1072.4 L131.5 1072.4 L133.6 1072.4 L135.8 1072.3 L137.9 1072.3 L140.0 1072.3 L142.1 1072.2 L144.2 1072.2 L146.4 1072.1 L148.5 1072.1 L150.6 1072.0 L152.7 1071.9 L154.8 1071.9 L157.0 1071.8 L159.1 1071.7 L161.2 1071.6 L163.3 1071.5 L165.5 1071.4 L167.6 1071.3 L169.7 1071.1 L171.8 1071.0 L173.9 1070.8 L176.1 1070.6 L178.2 1070.4 L180.3 1070.2 L182.4 1070.0 L184.5 1069.7 L186.7 1069.4 L188.8 1069.1 L190.9 1068.8 L193.0 1068.4 L195.1 1068.0 L197.3 1067.6 L199.4 1067.1 L201.5 1066.6 L203.6 1066.1 L205.8 1065.5 L207.9 1064.8 L210.0 1064.1 L212.1 1063.4 L214.2 1062.6 L216.4 1061.8 L218.5 1060.9 L220.6 1059.9 L222.7 1058.9 L224.8 1057.8 L227.0 1056.6 L229.1 1055.4 L231.2 1054.2 L233.3 1052.9 L235.5 1051.5 L237.6 1050.1 L239.7 1048.7 L241.8 1047.2 L243.9 1045.8 L246.1 1044.3 L248.2 1042.8 L250.3 1041.4 L252.4 1040.0 L254.5 1038.7 L256.7 1037.4 L258.8 1036.3 L260.9 1035.2 L263.0 1034.3 L265.1 1033.6 L267.3 1032.9 L269.4 1032.5 L271.5 1032.2 L273.6 1032.1 L275.8 1032.1 L277.9 1032.4 L280.0 1032.8 L282.1 1033.4 L284.2 1034.1 L286.4 1035.0 L288.5 1036.1 L290.6 1037.2 L292.7 1038.4 L294.8 1039.7 L297.0 1041.1 L299.1 1042.5 L301.2 1044.0 L303.3 1045.4 L305.4 1046.9 L307.6 1048.4 L309.7 1049.8 L311.8 1051.2 L313.9 1052.6 L316.1 1053.9 L318.2 1055.2 L320.3 1056.4 L322.4 1057.5 L324.5 1058.6 L326.7 1059.7 L328.8 1060.6 L330.9 1061.6 L333.0 1062.4 L335.1 1063.2 L337.3 1064.0 L339.4 1064.7 L341.5 1065.3 L343.6 1065.9 L345.7 1066.5 L347.9 1067.0 L350.0 1067.5 L352.1 1067.9 L354.2 1068.3 L356.4 1068.7 L358.5 1069.0 L360.6 1069.4 L362.7 1069.6 L364.8 1069.9 L367.0 1070.2 L369.1 1070.4 L371.2 1070.6 L373.3 1070.8 L375.4 1070.9 L377.6 1071.1 L379.7 1071.2 L381.8 1071.4 L383.9 1071.5 L386.1 1071.6 L388.2 1071.7 L390.3 1071.8 L392.4 1071.9 L394.5 1071.9 L396.7 1072.0 L398.8 1072.1 L400.9 1072.1 L403.0 1072.2 L405.1 1072.2 L407.3 1072.3 L409.4 1072.3 L411.5 1072.3 L413.6 1072.4 L415.7 1072.4 L417.9 1072.4 L420.0 1072.5 L422.1 1072.5 L424.2 1072.5 L426.4 1072.5 L428.5 1072.5 L430.6 1072.5 L432.7 1072.6 L434.8 1072.6 L437.0 1072.6 L439.1 1072.6 L441.2 1072.6 L443.3 1072.6 L445.4 1072.6 L447.6 1072.6 L449.7 1072.6 L451.8 1072.6 L453.9 1072.6 L456.0 1072.6 L458.2 1072.7 L460.3 1072.7 L462.4 1072.7 L464.5 1072.7 L466.7 1072.7 L468.8 1072.7 L470.9 1072.7 L473.0 1072.7 L475.1 1072.7 L477.3 1072.7 L479.4 1072.7 L481.5 1072.7 L483.6 1072.7 L485.7 1072.7 L487.9 1072.7 L490.0 1072.7 L492.1 1072.7 L494.2 1072.7 L496.3 1072.7 L498.5 1072.7 L500.6 1072.7 L502.7 1072.7 L504.8 1072.7 L507.0 1072.7 L509.1 1072.7 L511.2 1072.7 L513.3 1072.7 L515.4 1072.7 L517.6 1072.7 L519.7 1072.7 L521.8 1072.7 L523.9 1072.7 L526.0 1072.7 L528.2 1072.7 L530.3 1072.7 L532.4 1072.7 L534.5 1072.7 L536.7 1072.7 L538.8 1072.7 L540.9 1072.7 L543.0 1072.7 L545.1 1072.7 L547.3 1072.7 L549.4 1072.7 L551.5 1072.7 L553.6 1072.7 L555.7 1072.7 L557.9 1072.7 L560.0 1072.7 L562.1 1072.7 L564.2 1072.7 L566.3 1072.7 L568.5 1072.7 L570.6 1072.7 L572.7 1072.7 L574.8 1072.7 L577.0 1072.7 L579.1 1072.7 L581.2 1072.7 L583.3 1072.7 L585.4 1072.7 L587.6 1072.7 L589.7 1072.7 L591.8 1072.7 L593.9 1072.7 L596.0 1072.7 L598.2 1072.7 L600.3 1072.7 L602.4 1072.7 L604.5 1072.7 L606.6 1072.7 L608.8 1072.7 L610.9 1072.7 L613.0 1072.7 L615.1 1072.7 L617.3 1072.7 L619.4 1072.7 L621.5 1072.7 L623.6 1072.7 L625.7 1072.7 L627.9 1072.7 L630.0 1072.7 L632.1 1072.7 L634.2 1072.7 L636.3 1072.7 L638.5 1072.7 L640.6 1072.7 L642.7 1072.7 L644.8 1072.7 L647.0 1072.7" stroke="#5e81b5" stroke-width="3.2" fill="none" stroke-linejoin="round"/><path d="M12.7 1072.7 L14.9 1072.7 L17.0 1072.7 L19.1 1072.7 L21.2 1072.7 L23.3 1072.7 L25.5 1072.7 L27.6 1072.7 L29.7 1072.7 L31.8 1072.7 L33.9 1072.7 L36.1 1072.7 L38.2 1072.7 L40.3 1072.7 L42.4 1072.7 L44.5 1072.7 L46.7 1072.7 L48.8 1072.7 L50.9 1072.7 L53.0 1072.7 L55.2 1072.7 L57.3 1072.7 L59.4 1072.7 L61.5 1072.7 L63.6 1072.7 L65.8 1072.7 L67.9 1072.7 L70.0 1072.7 L72.1 1072.7 L74.2 1072.7 L76.4 1072.7 L78.5 1072.7 L80.6 1072.7 L82.7 1072.7 L84.9 1072.7 L87.0 1072.7 L89.1 1072.7 L91.2 1072.7 L93.3 1072.6 L95.5 1072.6 L97.6 1072.6 L99.7 1072.6 L101.8 1072.6 L103.9 1072.6 L106.1 1072.6 L108.2 1072.6 L110.3 1072.6 L112.4 1072.6 L114.5 1072.6 L116.7 1072.5 L118.8 1072.5 L120.9 1072.5 L123.0 1072.5 L125.2 1072.5 L127.3 1072.5 L129.4 1072.4 L131.5 1072.4 L133.6 1072.4 L135.8 1072.3 L137.9 1072.3 L140.0 1072.3 L142.1 1072.2 L144.2 1072.2 L146.4 1072.1 L148.5 1072.1 L150.6 1072.0 L152.7 1072.0 L154.8 1071.9 L157.0 1071.8 L159.1 1071.7 L161.2 1071.6 L163.3 1071.5 L165.5 1071.4 L167.6 1071.3 L169.7 1071.1 L171.8 1071.0 L173.9 1070.8 L176.1 1070.6 L178.2 1070.4 L180.3 1070.2 L182.4 1069.9 L184.5 1069.6 L186.7 1069.3 L188.8 1069.0 L190.9 1068.7 L193.0 1068.3 L195.1 1067.8 L197.3 1067.4 L199.4 1066.8 L201.5 1066.3 L203.6 1065.6 L205.8 1064.9 L207.9 1064.2 L210.0 1063.4 L212.1 1062.4 L214.2 1061.4 L216.4 1060.4 L218.5 1059.2 L220.6 1057.9 L222.7 1056.4 L224.8 1054.9 L227.0 1053.2 L229.1 1051.3 L231.2 1049.2 L233.3 1047.0 L235.5 1044.6 L237.6 1041.9 L239.7 1039.0 L241.8 1035.9 L243.9 1032.5 L246.1 1028.8 L248.2 1024.7 L250.3 1020.4 L252.4 1015.6 L254.5 1010.5 L256.7 1005.0 L258.8 999.0 L260.9 992.6 L263.0 985.7 L265.1 978.3 L267.3 970.4 L269.4 962.0 L271.5 953.0 L273.6 943.5 L275.8 933.5 L277.9 922.9 L280.0 911.9 L282.1 900.3 L284.2 888.3 L286.4 875.9 L288.5 863.2 L290.6 850.2 L292.7 837.1 L294.8 823.8 L297.0 810.7 L299.1 797.7 L301.2 785.0 L303.3 772.8 L305.4 761.1 L307.6 750.3 L309.7 740.4 L311.8 731.5 L313.9 723.8 L316.1 717.5 L318.2 712.6 L320.3 709.2 L322.4 707.4 L324.5 707.2 L326.7 708.6 L328.8 711.6 L330.9 716.1 L333.0 722.1 L335.1 729.4 L337.3 738.0 L339.4 747.7 L341.5 758.3 L343.6 769.7 L345.7 781.8 L347.9 794.4 L350.0 807.3 L352.1 820.5 L354.2 833.7 L356.4 846.9 L358.5 859.9 L360.6 872.7 L362.7 885.2 L364.8 897.3 L367.0 909.0 L369.1 920.2 L371.2 930.8 L373.3 941.0 L375.4 950.6 L377.6 959.7 L379.7 968.3 L381.8 976.3 L383.9 983.8 L386.1 990.9 L388.2 997.4 L390.3 1003.5 L392.4 1009.1 L394.5 1014.3 L396.7 1019.2 L398.8 1023.7 L400.9 1027.8 L403.0 1031.6 L405.1 1035.1 L407.3 1038.3 L409.4 1041.2 L411.5 1043.9 L413.6 1046.4 L415.7 1048.7 L417.9 1050.8 L420.0 1052.7 L422.1 1054.4 L424.2 1056.0 L426.4 1057.5 L428.5 1058.8 L430.6 1060.1 L432.7 1061.2 L434.8 1062.2 L437.0 1063.1 L439.1 1064.0 L441.2 1064.8 L443.3 1065.5 L445.4 1066.1 L447.6 1066.7 L449.7 1067.2 L451.8 1067.7 L453.9 1068.2 L456.0 1068.6 L458.2 1068.9 L460.3 1069.3 L462.4 1069.6 L464.5 1069.9 L466.7 1070.1 L468.8 1070.3 L470.9 1070.6 L473.0 1070.7 L475.1 1070.9 L477.3 1071.1 L479.4 1071.2 L481.5 1071.4 L483.6 1071.5 L485.7 1071.6 L487.9 1071.7 L490.0 1071.8 L492.1 1071.9 L494.2 1071.9 L496.3 1072.0 L498.5 1072.1 L500.6 1072.1 L502.7 1072.2 L504.8 1072.2 L507.0 1072.3 L509.1 1072.3 L511.2 1072.3 L513.3 1072.4 L515.4 1072.4 L517.6 1072.4 L519.7 1072.5 L521.8 1072.5 L523.9 1072.5 L526.0 1072.5 L528.2 1072.5 L530.3 1072.5 L532.4 1072.6 L534.5 1072.6 L536.7 1072.6 L538.8 1072.6 L540.9 1072.6 L543.0 1072.6 L545.1 1072.6 L547.3 1072.6 L549.4 1072.6 L551.5 1072.6 L553.6 1072.6 L555.7 1072.6 L557.9 1072.7 L560.0 1072.7 L562.1 1072.7 L564.2 1072.7 L566.3 1072.7 L568.5 1072.7 L570.6 1072.7 L572.7 1072.7 L574.8 1072.7 L577.0 1072.7 L579.1 1072.7 L581.2 1072.7 L583.3 1072.7 L585.4 1072.7 L587.6 1072.7 L589.7 1072.7 L591.8 1072.7 L593.9 1072.7 L596.0 1072.7 L598.2 1072.7 L600.3 1072.7 L602.4 1072.7 L604.5 1072.7 L606.6 1072.7 L608.8 1072.7 L610.9 1072.7 L613.0 1072.7 L615.1 1072.7 L617.3 1072.7 L619.4 1072.7 L621.5 1072.7 L623.6 1072.7 L625.7 1072.7 L627.9 1072.7 L630.0 1072.7 L632.1 1072.7 L634.2 1072.7 L636.3 1072.7 L638.5 1072.7 L640.6 1072.7 L642.7 1072.7 L644.8 1072.7 L647.0 1072.7" stroke="#e19c24" stroke-width="3.2" fill="none" stroke-linejoin="round"/><path d="M12.7 1072.7 L14.9 1072.7 L17.0 1072.7 L19.1 1072.7 L21.2 1072.7 L23.3 1072.7 L25.5 1072.7 L27.6 1072.7 L29.7 1072.7 L31.8 1072.7 L33.9 1072.7 L36.1 1072.7 L38.2 1072.7 L40.3 1072.7 L42.4 1072.7 L44.5 1072.7 L46.7 1072.7 L48.8 1072.7 L50.9 1072.7 L53.0 1072.7 L55.2 1072.7 L57.3 1072.7 L59.4 1072.7 L61.5 1072.7 L63.6 1072.7 L65.8 1072.7 L67.9 1072.7 L70.0 1072.7 L72.1 1072.7 L74.2 1072.7 L76.4 1072.7 L78.5 1072.7 L80.6 1072.7 L82.7 1072.7 L84.9 1072.7 L87.0 1072.7 L89.1 1072.7 L91.2 1072.7 L93.3 1072.7 L95.5 1072.7 L97.6 1072.7 L99.7 1072.7 L101.8 1072.7 L103.9 1072.7 L106.1 1072.7 L108.2 1072.7 L110.3 1072.7 L112.4 1072.7 L114.5 1072.7 L116.7 1072.7 L118.8 1072.7 L120.9 1072.7 L123.0 1072.7 L125.2 1072.7 L127.3 1072.7 L129.4 1072.7 L131.5 1072.7 L133.6 1072.7 L135.8 1072.7 L137.9 1072.7 L140.0 1072.7 L142.1 1072.7 L144.2 1072.7 L146.4 1072.7 L148.5 1072.7 L150.6 1072.7 L152.7 1072.7 L154.8 1072.7 L157.0 1072.7 L159.1 1072.7 L161.2 1072.7 L163.3 1072.7 L165.5 1072.7 L167.6 1072.7 L169.7 1072.7 L171.8 1072.7 L173.9 1072.7 L176.1 1072.7 L178.2 1072.7 L180.3 1072.7 L182.4 1072.7 L184.5 1072.7 L186.7 1072.7 L188.8 1072.7 L190.9 1072.6 L193.0 1072.6 L195.1 1072.6 L197.3 1072.6 L199.4 1072.6 L201.5 1072.6 L203.6 1072.6 L205.8 1072.6 L207.9 1072.6 L210.0 1072.6 L212.1 1072.6 L214.2 1072.6 L216.4 1072.5 L218.5 1072.5 L220.6 1072.5 L222.7 1072.5 L224.8 1072.5 L227.0 1072.5 L229.1 1072.4 L231.2 1072.4 L233.3 1072.4 L235.5 1072.3 L237.6 1072.3 L239.7 1072.3 L241.8 1072.2 L243.9 1072.2 L246.1 1072.1 L248.2 1072.1 L250.3 1072.0 L252.4 1071.9 L254.5 1071.9 L256.7 1071.8 L258.8 1071.7 L260.9 1071.6 L263.0 1071.5 L265.1 1071.4 L267.3 1071.3 L269.4 1071.1 L271.5 1071.0 L273.6 1070.8 L275.8 1070.6 L277.9 1070.4 L280.0 1070.2 L282.1 1070.0 L284.2 1069.7 L286.4 1069.4 L288.5 1069.1 L290.6 1068.8 L292.7 1068.4 L294.8 1068.0 L297.0 1067.6 L299.1 1067.1 L301.2 1066.6 L303.3 1066.0 L305.4 1065.4 L307.6 1064.8 L309.7 1064.1 L311.8 1063.4 L313.9 1062.6 L316.1 1061.7 L318.2 1060.8 L320.3 1059.8 L322.4 1058.8 L324.5 1057.7 L326.7 1056.5 L328.8 1055.3 L330.9 1054.1 L333.0 1052.8 L335.1 1051.4 L337.3 1050.0 L339.4 1048.6 L341.5 1047.1 L343.6 1045.7 L345.7 1044.2 L347.9 1042.7 L350.0 1041.3 L352.1 1039.9 L354.2 1038.6 L356.4 1037.4 L358.5 1036.2 L360.6 1035.2 L362.7 1034.3 L364.8 1033.5 L367.0 1032.9 L369.1 1032.4 L371.2 1032.2 L373.3 1032.1 L375.4 1032.2 L377.6 1032.4 L379.7 1032.9 L381.8 1033.5 L383.9 1034.2 L386.1 1035.1 L388.2 1036.1 L390.3 1037.3 L392.4 1038.5 L394.5 1039.8 L396.7 1041.2 L398.8 1042.6 L400.9 1044.1 L403.0 1045.5 L405.1 1047.0 L407.3 1048.5 L409.4 1049.9 L411.5 1051.3 L413.6 1052.7 L415.7 1054.0 L417.9 1055.2 L420.0 1056.5 L422.1 1057.6 L424.2 1058.7 L426.4 1059.7 L428.5 1060.7 L430.6 1061.6 L432.7 1062.5 L434.8 1063.3 L437.0 1064.0 L439.1 1064.7 L441.2 1065.4 L443.3 1066.0 L445.4 1066.5 L447.6 1067.1 L449.7 1067.5 L451.8 1068.0 L453.9 1068.4 L456.0 1068.7 L458.2 1069.1 L460.3 1069.4 L462.4 1069.7 L464.5 1069.9 L466.7 1070.2 L468.8 1070.4 L470.9 1070.6 L473.0 1070.8 L475.1 1070.9 L477.3 1071.1 L479.4 1071.2 L481.5 1071.4 L483.6 1071.5 L485.7 1071.6 L487.9 1071.7 L490.0 1071.8 L492.1 1071.9 L494.2 1071.9 L496.3 1072.0 L498.5 1072.1 L500.6 1072.1 L502.7 1072.2 L504.8 1072.2 L507.0 1072.3 L509.1 1072.3 L511.2 1072.3 L513.3 1072.4 L515.4 1072.4 L517.6 1072.4 L519.7 1072.5 L521.8 1072.5 L523.9 1072.5 L526.0 1072.5 L528.2 1072.5 L530.3 1072.5 L532.4 1072.6 L534.5 1072.6 L536.7 1072.6 L538.8 1072.6 L540.9 1072.6 L543.0 1072.6 L545.1 1072.6 L547.3 1072.6 L549.4 1072.6 L551.5 1072.6 L553.6 1072.6 L555.7 1072.6 L557.9 1072.7 L560.0 1072.7 L562.1 1072.7 L564.2 1072.7 L566.3 1072.7 L568.5 1072.7 L570.6 1072.7 L572.7 1072.7 L574.8 1072.7 L577.0 1072.7 L579.1 1072.7 L581.2 1072.7 L583.3 1072.7 L585.4 1072.7 L587.6 1072.7 L589.7 1072.7 L591.8 1072.7 L593.9 1072.7 L596.0 1072.7 L598.2 1072.7 L600.3 1072.7 L602.4 1072.7 L604.5 1072.7 L606.6 1072.7 L608.8 1072.7 L610.9 1072.7 L613.0 1072.7 L615.1 1072.7 L617.3 1072.7 L619.4 1072.7 L621.5 1072.7 L623.6 1072.7 L625.7 1072.7 L627.9 1072.7 L630.0 1072.7 L632.1 1072.7 L634.2 1072.7 L636.3 1072.7 L638.5 1072.7 L640.6 1072.7 L642.7 1072.7 L644.8 1072.7 L647.0 1072.7" stroke="#8fb032" stroke-width="3.2" fill="none" stroke-linejoin="round"/><path d="M940.0 1073.0 H1596.2 M1247.8 1094.0 V688.0 M954.6 1073.0 v-3.8 M977.2 1073.0 v-3.8 M999.8 1073.0 v-3.8 M1022.3 1073.0 v-7.0 M1044.8 1073.0 v-3.8 M1067.4 1073.0 v-3.8 M1090.0 1073.0 v-3.8 M1112.5 1073.0 v-3.8 M1135.0 1073.0 v-7.0 M1157.6 1073.0 v-3.8 M1180.1 1073.0 v-3.8 M1202.7 1073.0 v-3.8 M1225.2 1073.0 v-3.8 M1270.3 1073.0 v-3.8 M1292.9 1073.0 v-3.8 M1315.5 1073.0 v-3.8 M1338.0 1073.0 v-3.8 M1360.5 1073.0 v-7.0 M1383.1 1073.0 v-3.8 M1405.6 1073.0 v-3.8 M1428.2 1073.0 v-3.8 M1450.8 1073.0 v-3.8 M1473.3 1073.0 v-7.0 M1495.8 1073.0 v-3.8 M1518.4 1073.0 v-3.8 M1541.0 1073.0 v-3.8 M1563.5 1073.0 v-3.8 M1586.0 1073.0 v-7.0 M1247.8 1087.6 h3.6 M1247.8 1058.4 h3.6 M1247.8 1043.7 h3.6 M1247.8 1029.1 h3.6 M1247.8 1014.4 h3.6 M1247.8 999.8 h6.8 M1247.8 985.1 h3.6 M1247.8 970.5 h3.6 M1247.8 955.8 h3.6 M1247.8 941.2 h3.6 M1247.8 926.5 h6.8 M1247.8 911.9 h3.6 M1247.8 897.3 h3.6 M1247.8 882.6 h3.6 M1247.8 868.0 h3.6 M1247.8 853.3 h6.8 M1247.8 838.7 h3.6 M1247.8 824.0 h3.6 M1247.8 809.4 h3.6 M1247.8 794.7 h3.6 M1247.8 780.1 h6.8 M1247.8 765.5 h3.6 M1247.8 750.8 h3.6 M1247.8 736.2 h3.6 M1247.8 721.5 h3.6 M1247.8 706.9 h6.8 M1247.8 692.2 h3.6" stroke="#7f7f7f" stroke-width="1.3" fill="none"/><path d="M952.4 1073.0 L954.5 1073.0 L956.6 1073.0 L958.8 1073.0 L960.9 1073.0 L963.0 1073.0 L965.1 1073.0 L967.2 1073.0 L969.3 1073.0 L971.5 1073.0 L973.6 1073.0 L975.7 1073.0 L977.8 1073.0 L979.9 1073.0 L982.1 1072.9 L984.2 1072.9 L986.3 1072.9 L988.4 1072.9 L990.5 1072.9 L992.7 1072.9 L994.8 1072.9 L996.9 1072.9 L999.0 1072.9 L1001.1 1072.9 L1003.3 1072.9 L1005.4 1072.9 L1007.5 1072.8 L1009.6 1072.8 L1011.7 1072.8 L1013.9 1072.8 L1016.0 1072.8 L1018.1 1072.7 L1020.2 1072.7 L1022.3 1072.7 L1024.4 1072.7 L1026.6 1072.6 L1028.7 1072.6 L1030.8 1072.5 L1032.9 1072.5 L1035.0 1072.4 L1037.2 1072.4 L1039.3 1072.3 L1041.4 1072.3 L1043.5 1072.2 L1045.6 1072.1 L1047.8 1072.0 L1049.9 1071.9 L1052.0 1071.8 L1054.1 1071.7 L1056.2 1071.6 L1058.4 1071.4 L1060.5 1071.3 L1062.6 1071.1 L1064.7 1070.9 L1066.8 1070.7 L1069.0 1070.5 L1071.1 1070.3 L1073.2 1070.0 L1075.3 1069.7 L1077.4 1069.4 L1079.5 1069.0 L1081.7 1068.6 L1083.8 1068.2 L1085.9 1067.7 L1088.0 1067.2 L1090.1 1066.6 L1092.3 1066.0 L1094.4 1065.3 L1096.5 1064.6 L1098.6 1063.8 L1100.7 1062.9 L1102.9 1061.9 L1105.0 1060.8 L1107.1 1059.7 L1109.2 1058.4 L1111.3 1057.0 L1113.5 1055.4 L1115.6 1053.7 L1117.7 1051.9 L1119.8 1049.9 L1121.9 1047.7 L1124.1 1045.3 L1126.2 1042.6 L1128.3 1039.8 L1130.4 1036.7 L1132.5 1033.3 L1134.7 1029.6 L1136.8 1025.7 L1138.9 1021.3 L1141.0 1016.6 L1143.1 1011.6 L1145.2 1006.1 L1147.4 1000.2 L1149.5 993.9 L1151.6 987.0 L1153.7 979.7 L1155.8 971.9 L1158.0 963.5 L1160.1 954.7 L1162.2 945.2 L1164.3 935.3 L1166.4 924.8 L1168.6 913.8 L1170.7 902.3 L1172.8 890.4 L1174.9 878.0 L1177.0 865.3 L1179.2 852.4 L1181.3 839.2 L1183.4 826.0 L1185.5 812.8 L1187.6 799.7 L1189.8 787.0 L1191.9 774.6 L1194.0 762.9 L1196.1 751.9 L1198.2 741.8 L1200.3 732.7 L1202.5 724.8 L1204.6 718.3 L1206.7 713.1 L1208.8 709.5 L1210.9 707.4 L1213.1 706.9 L1215.2 708.1 L1217.3 710.8 L1219.4 715.1 L1221.5 720.8 L1223.7 728.0 L1225.8 736.3 L1227.9 745.9 L1230.0 756.4 L1232.1 767.7 L1234.3 779.7 L1236.4 792.2 L1238.5 805.1 L1240.6 818.3 L1242.7 831.5 L1244.9 844.7 L1247.0 857.8 L1249.1 870.6 L1251.2 883.2 L1253.3 895.4 L1255.4 907.1 L1257.6 918.4 L1259.7 929.2 L1261.8 939.5 L1263.9 949.2 L1266.0 958.4 L1268.2 967.1 L1270.3 975.2 L1272.4 982.8 L1274.5 989.9 L1276.6 996.5 L1278.8 1002.7 L1280.9 1008.4 L1283.0 1013.7 L1285.1 1018.6 L1287.2 1023.2 L1289.4 1027.4 L1291.5 1031.2 L1293.6 1034.8 L1295.7 1038.0 L1297.8 1041.0 L1300.0 1043.8 L1302.1 1046.3 L1304.2 1048.6 L1306.3 1050.7 L1308.4 1052.7 L1310.5 1054.4 L1312.7 1056.1 L1314.8 1057.6 L1316.9 1058.9 L1319.0 1060.2 L1321.1 1061.3 L1323.3 1062.3 L1325.4 1063.3 L1327.5 1064.1 L1329.6 1064.9 L1331.7 1065.6 L1333.9 1066.3 L1336.0 1066.9 L1338.1 1067.4 L1340.2 1067.9 L1342.3 1068.4 L1344.5 1068.8 L1346.6 1069.2 L1348.7 1069.5 L1350.8 1069.8 L1352.9 1070.1 L1355.1 1070.4 L1357.2 1070.6 L1359.3 1070.8 L1361.4 1071.0 L1363.5 1071.2 L1365.6 1071.3 L1367.8 1071.5 L1369.9 1071.6 L1372.0 1071.8 L1374.1 1071.9 L1376.2 1072.0 L1378.4 1072.1 L1380.5 1072.1 L1382.6 1072.2 L1384.7 1072.3 L1386.8 1072.4 L1389.0 1072.4 L1391.1 1072.5 L1393.2 1072.5 L1395.3 1072.6 L1397.4 1072.6 L1399.6 1072.6 L1401.7 1072.7 L1403.8 1072.7 L1405.9 1072.7 L1408.0 1072.7 L1410.2 1072.8 L1412.3 1072.8 L1414.4 1072.8 L1416.5 1072.8 L1418.6 1072.8 L1420.7 1072.9 L1422.9 1072.9 L1425.0 1072.9 L1427.1 1072.9 L1429.2 1072.9 L1431.3 1072.9 L1433.5 1072.9 L1435.6 1072.9 L1437.7 1072.9 L1439.8 1072.9 L1441.9 1072.9 L1444.1 1072.9 L1446.2 1073.0 L1448.3 1073.0 L1450.4 1073.0 L1452.5 1073.0 L1454.7 1073.0 L1456.8 1073.0 L1458.9 1073.0 L1461.0 1073.0 L1463.1 1073.0 L1465.3 1073.0 L1467.4 1073.0 L1469.5 1073.0 L1471.6 1073.0 L1473.7 1073.0 L1475.8 1073.0 L1478.0 1073.0 L1480.1 1073.0 L1482.2 1073.0 L1484.3 1073.0 L1486.4 1073.0 L1488.6 1073.0 L1490.7 1073.0 L1492.8 1073.0 L1494.9 1073.0 L1497.0 1073.0 L1499.2 1073.0 L1501.3 1073.0 L1503.4 1073.0 L1505.5 1073.0 L1507.6 1073.0 L1509.8 1073.0 L1511.9 1073.0 L1514.0 1073.0 L1516.1 1073.0 L1518.2 1073.0 L1520.4 1073.0 L1522.5 1073.0 L1524.6 1073.0 L1526.7 1073.0 L1528.8 1073.0 L1530.9 1073.0 L1533.1 1073.0 L1535.2 1073.0 L1537.3 1073.0 L1539.4 1073.0 L1541.5 1073.0 L1543.7 1073.0 L1545.8 1073.0 L1547.9 1073.0 L1550.0 1073.0 L1552.1 1073.0 L1554.3 1073.0 L1556.4 1073.0 L1558.5 1073.0 L1560.6 1073.0 L1562.7 1073.0 L1564.9 1073.0 L1567.0 1073.0 L1569.1 1073.0 L1571.2 1073.0 L1573.3 1073.0 L1575.5 1073.0 L1577.6 1073.0 L1579.7 1073.0 L1581.8 1073.0 L1583.9 1073.0 L1586.0 1073.0" stroke="#5e81b5" stroke-width="3.2" fill="none" stroke-linejoin="round"/><path d="M952.4 1073.0 L954.5 1073.0 L956.6 1073.0 L958.8 1073.0 L960.9 1073.0 L963.0 1073.0 L965.1 1073.0 L967.2 1073.0 L969.3 1073.0 L971.5 1073.0 L973.6 1073.0 L975.7 1073.0 L977.8 1073.0 L979.9 1073.0 L982.1 1073.0 L984.2 1073.0 L986.3 1073.0 L988.4 1073.0 L990.5 1073.0 L992.7 1073.0 L994.8 1073.0 L996.9 1073.0 L999.0 1073.0 L1001.1 1073.0 L1003.3 1073.0 L1005.4 1073.0 L1007.5 1073.0 L1009.6 1073.0 L1011.7 1073.0 L1013.9 1073.0 L1016.0 1073.0 L1018.1 1073.0 L1020.2 1073.0 L1022.3 1073.0 L1024.4 1073.0 L1026.6 1073.0 L1028.7 1073.0 L1030.8 1073.0 L1032.9 1073.0 L1035.0 1073.0 L1037.2 1073.0 L1039.3 1073.0 L1041.4 1073.0 L1043.5 1073.0 L1045.6 1073.0 L1047.8 1073.0 L1049.9 1073.0 L1052.0 1073.0 L1054.1 1073.0 L1056.2 1073.0 L1058.4 1073.0 L1060.5 1073.0 L1062.6 1073.0 L1064.7 1073.0 L1066.8 1073.0 L1069.0 1073.0 L1071.1 1073.0 L1073.2 1073.0 L1075.3 1073.0 L1077.4 1073.0 L1079.5 1073.0 L1081.7 1072.9 L1083.8 1072.9 L1085.9 1072.9 L1088.0 1072.9 L1090.1 1072.9 L1092.3 1072.9 L1094.4 1072.9 L1096.5 1072.9 L1098.6 1072.9 L1100.7 1072.9 L1102.9 1072.9 L1105.0 1072.8 L1107.1 1072.8 L1109.2 1072.8 L1111.3 1072.8 L1113.5 1072.8 L1115.6 1072.8 L1117.7 1072.7 L1119.8 1072.7 L1121.9 1072.7 L1124.1 1072.6 L1126.2 1072.6 L1128.3 1072.6 L1130.4 1072.5 L1132.5 1072.5 L1134.7 1072.4 L1136.8 1072.4 L1138.9 1072.3 L1141.0 1072.2 L1143.1 1072.2 L1145.2 1072.1 L1147.4 1072.0 L1149.5 1071.9 L1151.6 1071.8 L1153.7 1071.7 L1155.8 1071.6 L1158.0 1071.4 L1160.1 1071.3 L1162.2 1071.1 L1164.3 1070.9 L1166.4 1070.7 L1168.6 1070.5 L1170.7 1070.3 L1172.8 1070.0 L1174.9 1069.7 L1177.0 1069.4 L1179.2 1069.1 L1181.3 1068.7 L1183.4 1068.3 L1185.5 1067.9 L1187.6 1067.4 L1189.8 1066.9 L1191.9 1066.4 L1194.0 1065.8 L1196.1 1065.1 L1198.2 1064.4 L1200.3 1063.7 L1202.5 1062.9 L1204.6 1062.0 L1206.7 1061.1 L1208.8 1060.2 L1210.9 1059.1 L1213.1 1058.0 L1215.2 1056.9 L1217.3 1055.7 L1219.4 1054.4 L1221.5 1053.1 L1223.7 1051.8 L1225.8 1050.4 L1227.9 1048.9 L1230.0 1047.5 L1232.1 1046.0 L1234.3 1044.5 L1236.4 1043.1 L1238.5 1041.6 L1240.6 1040.3 L1242.7 1038.9 L1244.9 1037.7 L1247.0 1036.5 L1249.1 1035.5 L1251.2 1034.6 L1253.3 1033.8 L1255.4 1033.2 L1257.6 1032.7 L1259.7 1032.4 L1261.8 1032.3 L1263.9 1032.4 L1266.0 1032.6 L1268.2 1033.1 L1270.3 1033.7 L1272.4 1034.4 L1274.5 1035.3 L1276.6 1036.3 L1278.8 1037.5 L1280.9 1038.7 L1283.0 1040.0 L1285.1 1041.4 L1287.2 1042.8 L1289.4 1044.3 L1291.5 1045.7 L1293.6 1047.2 L1295.7 1048.6 L1297.8 1050.1 L1300.0 1051.5 L1302.1 1052.9 L1304.2 1054.2 L1306.3 1055.5 L1308.4 1056.7 L1310.5 1057.8 L1312.7 1058.9 L1314.8 1060.0 L1316.9 1060.9 L1319.0 1061.9 L1321.1 1062.7 L1323.3 1063.5 L1325.4 1064.3 L1327.5 1065.0 L1329.6 1065.6 L1331.7 1066.2 L1333.9 1066.8 L1336.0 1067.3 L1338.1 1067.8 L1340.2 1068.2 L1342.3 1068.6 L1344.5 1069.0 L1346.6 1069.3 L1348.7 1069.7 L1350.8 1069.9 L1352.9 1070.2 L1355.1 1070.5 L1357.2 1070.7 L1359.3 1070.9 L1361.4 1071.1 L1363.5 1071.2 L1365.6 1071.4 L1367.8 1071.5 L1369.9 1071.7 L1372.0 1071.8 L1374.1 1071.9 L1376.2 1072.0 L1378.4 1072.1 L1380.5 1072.2 L1382.6 1072.2 L1384.7 1072.3 L1386.8 1072.4 L1389.0 1072.4 L1391.1 1072.5 L1393.2 1072.5 L1395.3 1072.6 L1397.4 1072.6 L1399.6 1072.6 L1401.7 1072.7 L1403.8 1072.7 L1405.9 1072.7 L1408.0 1072.8 L1410.2 1072.8 L1412.3 1072.8 L1414.4 1072.8 L1416.5 1072.8 L1418.6 1072.8 L1420.7 1072.9 L1422.9 1072.9 L1425.0 1072.9 L1427.1 1072.9 L1429.2 1072.9 L1431.3 1072.9 L1433.5 1072.9 L1435.6 1072.9 L1437.7 1072.9 L1439.8 1072.9 L1441.9 1072.9 L1444.1 1072.9 L1446.2 1073.0 L1448.3 1073.0 L1450.4 1073.0 L1452.5 1073.0 L1454.7 1073.0 L1456.8 1073.0 L1458.9 1073.0 L1461.0 1073.0 L1463.1 1073.0 L1465.3 1073.0 L1467.4 1073.0 L1469.5 1073.0 L1471.6 1073.0 L1473.7 1073.0 L1475.8 1073.0 L1478.0 1073.0 L1480.1 1073.0 L1482.2 1073.0 L1484.3 1073.0 L1486.4 1073.0 L1488.6 1073.0 L1490.7 1073.0 L1492.8 1073.0 L1494.9 1073.0 L1497.0 1073.0 L1499.2 1073.0 L1501.3 1073.0 L1503.4 1073.0 L1505.5 1073.0 L1507.6 1073.0 L1509.8 1073.0 L1511.9 1073.0 L1514.0 1073.0 L1516.1 1073.0 L1518.2 1073.0 L1520.4 1073.0 L1522.5 1073.0 L1524.6 1073.0 L1526.7 1073.0 L1528.8 1073.0 L1530.9 1073.0 L1533.1 1073.0 L1535.2 1073.0 L1537.3 1073.0 L1539.4 1073.0 L1541.5 1073.0 L1543.7 1073.0 L1545.8 1073.0 L1547.9 1073.0 L1550.0 1073.0 L1552.1 1073.0 L1554.3 1073.0 L1556.4 1073.0 L1558.5 1073.0 L1560.6 1073.0 L1562.7 1073.0 L1564.9 1073.0 L1567.0 1073.0 L1569.1 1073.0 L1571.2 1073.0 L1573.3 1073.0 L1575.5 1073.0 L1577.6 1073.0 L1579.7 1073.0 L1581.8 1073.0 L1583.9 1073.0 L1586.0 1073.0" stroke="#e19c24" stroke-width="3.2" fill="none" stroke-linejoin="round"/><path d="M952.4 1073.0 L954.5 1073.0 L956.6 1073.0 L958.8 1073.0 L960.9 1073.0 L963.0 1073.0 L965.1 1073.0 L967.2 1073.0 L969.3 1073.0 L971.5 1073.0 L973.6 1073.0 L975.7 1073.0 L977.8 1073.0 L979.9 1073.0 L982.1 1073.0 L984.2 1073.0 L986.3 1073.0 L988.4 1073.0 L990.5 1073.0 L992.7 1073.0 L994.8 1073.0 L996.9 1073.0 L999.0 1073.0 L1001.1 1073.0 L1003.3 1073.0 L1005.4 1073.0 L1007.5 1073.0 L1009.6 1073.0 L1011.7 1073.0 L1013.9 1073.0 L1016.0 1073.0 L1018.1 1073.0 L1020.2 1073.0 L1022.3 1073.0 L1024.4 1073.0 L1026.6 1073.0 L1028.7 1073.0 L1030.8 1073.0 L1032.9 1073.0 L1035.0 1073.0 L1037.2 1073.0 L1039.3 1073.0 L1041.4 1073.0 L1043.5 1073.0 L1045.6 1073.0 L1047.8 1073.0 L1049.9 1073.0 L1052.0 1073.0 L1054.1 1073.0 L1056.2 1073.0 L1058.4 1073.0 L1060.5 1073.0 L1062.6 1073.0 L1064.7 1073.0 L1066.8 1073.0 L1069.0 1073.0 L1071.1 1073.0 L1073.2 1073.0 L1075.3 1073.0 L1077.4 1073.0 L1079.5 1073.0 L1081.7 1072.9 L1083.8 1072.9 L1085.9 1072.9 L1088.0 1072.9 L1090.1 1072.9 L1092.3 1072.9 L1094.4 1072.9 L1096.5 1072.9 L1098.6 1072.9 L1100.7 1072.9 L1102.9 1072.9 L1105.0 1072.9 L1107.1 1072.8 L1109.2 1072.8 L1111.3 1072.8 L1113.5 1072.8 L1115.6 1072.8 L1117.7 1072.7 L1119.8 1072.7 L1121.9 1072.7 L1124.1 1072.7 L1126.2 1072.6 L1128.3 1072.6 L1130.4 1072.5 L1132.5 1072.5 L1134.7 1072.5 L1136.8 1072.4 L1138.9 1072.3 L1141.0 1072.3 L1143.1 1072.2 L1145.2 1072.1 L1147.4 1072.0 L1149.5 1071.9 L1151.6 1071.8 L1153.7 1071.7 L1155.8 1071.6 L1158.0 1071.5 L1160.1 1071.3 L1162.2 1071.1 L1164.3 1071.0 L1166.4 1070.8 L1168.6 1070.5 L1170.7 1070.3 L1172.8 1070.0 L1174.9 1069.7 L1177.0 1069.4 L1179.2 1069.1 L1181.3 1068.7 L1183.4 1068.3 L1185.5 1067.8 L1187.6 1067.3 L1189.8 1066.7 L1191.9 1066.1 L1194.0 1065.4 L1196.1 1064.7 L1198.2 1063.9 L1200.3 1063.0 L1202.5 1062.0 L1204.6 1061.0 L1206.7 1059.8 L1208.8 1058.5 L1210.9 1057.2 L1213.1 1055.6 L1215.2 1054.0 L1217.3 1052.1 L1219.4 1050.2 L1221.5 1048.0 L1223.7 1045.6 L1225.8 1043.0 L1227.9 1040.2 L1230.0 1037.1 L1232.1 1033.8 L1234.3 1030.2 L1236.4 1026.2 L1238.5 1021.9 L1240.6 1017.3 L1242.7 1012.3 L1244.9 1006.9 L1247.0 1001.0 L1249.1 994.8 L1251.2 988.0 L1253.3 980.7 L1255.4 973.0 L1257.6 964.7 L1259.7 955.9 L1261.8 946.6 L1263.9 936.7 L1266.0 926.3 L1268.2 915.3 L1270.3 903.9 L1272.4 892.0 L1274.5 879.7 L1276.6 867.1 L1278.8 854.2 L1280.9 841.0 L1283.0 827.8 L1285.1 814.6 L1287.2 801.5 L1289.4 788.7 L1291.5 776.3 L1293.6 764.5 L1295.7 753.4 L1297.8 743.1 L1300.0 733.9 L1302.1 725.8 L1304.2 719.1 L1306.3 713.7 L1308.4 709.9 L1310.5 707.6 L1312.7 706.9 L1314.8 707.8 L1316.9 710.3 L1319.0 714.4 L1321.1 719.9 L1323.3 726.9 L1325.4 735.1 L1327.5 744.5 L1329.6 754.9 L1331.7 766.1 L1333.9 778.0 L1336.0 790.5 L1338.1 803.3 L1340.2 816.4 L1342.3 829.7 L1344.5 842.9 L1346.6 856.0 L1348.7 868.9 L1350.8 881.5 L1352.9 893.7 L1355.1 905.5 L1357.2 916.9 L1359.3 927.8 L1361.4 938.1 L1363.5 947.9 L1365.6 957.2 L1367.8 965.9 L1369.9 974.1 L1372.0 981.8 L1374.1 989.0 L1376.2 995.7 L1378.4 1001.9 L1380.5 1007.7 L1382.6 1013.0 L1384.7 1018.0 L1386.8 1022.6 L1389.0 1026.8 L1391.1 1030.7 L1393.2 1034.3 L1395.3 1037.6 L1397.4 1040.6 L1399.6 1043.4 L1401.7 1046.0 L1403.8 1048.3 L1405.9 1050.4 L1408.0 1052.4 L1410.2 1054.2 L1412.3 1055.9 L1414.4 1057.4 L1416.5 1058.7 L1418.6 1060.0 L1420.7 1061.1 L1422.9 1062.2 L1425.0 1063.1 L1427.1 1064.0 L1429.2 1064.8 L1431.3 1065.5 L1433.5 1066.2 L1435.6 1066.8 L1437.7 1067.4 L1439.8 1067.9 L1441.9 1068.3 L1444.1 1068.7 L1446.2 1069.1 L1448.3 1069.5 L1450.4 1069.8 L1452.5 1070.1 L1454.7 1070.3 L1456.8 1070.6 L1458.9 1070.8 L1461.0 1071.0 L1463.1 1071.2 L1465.3 1071.3 L1467.4 1071.5 L1469.5 1071.6 L1471.6 1071.7 L1473.7 1071.9 L1475.8 1072.0 L1478.0 1072.0 L1480.1 1072.1 L1482.2 1072.2 L1484.3 1072.3 L1486.4 1072.3 L1488.6 1072.4 L1490.7 1072.5 L1492.8 1072.5 L1494.9 1072.6 L1497.0 1072.6 L1499.2 1072.6 L1501.3 1072.7 L1503.4 1072.7 L1505.5 1072.7 L1507.6 1072.7 L1509.8 1072.8 L1511.9 1072.8 L1514.0 1072.8 L1516.1 1072.8 L1518.2 1072.8 L1520.4 1072.9 L1522.5 1072.9 L1524.6 1072.9 L1526.7 1072.9 L1528.8 1072.9 L1530.9 1072.9 L1533.1 1072.9 L1535.2 1072.9 L1537.3 1072.9 L1539.4 1072.9 L1541.5 1072.9 L1543.7 1072.9 L1545.8 1073.0 L1547.9 1073.0 L1550.0 1073.0 L1552.1 1073.0 L1554.3 1073.0 L1556.4 1073.0 L1558.5 1073.0 L1560.6 1073.0 L1562.7 1073.0 L1564.9 1073.0 L1567.0 1073.0 L1569.1 1073.0 L1571.2 1073.0 L1573.3 1073.0 L1575.5 1073.0 L1577.6 1073.0 L1579.7 1073.0 L1581.8 1073.0 L1583.9 1073.0 L1586.0 1073.0" stroke="#8fb032" stroke-width="3.2" fill="none" stroke-linejoin="round"/><text transform="translate(81.2 1096.6) scale(0.870 1)" font-size="20.0" text-anchor="middle" font-family="Liberation Sans, Arial, sans-serif" fill="#1e1e1e" stroke="#1e1e1e" stroke-width="0.50">−10</text><text transform="translate(194.0 1096.6) scale(0.870 1)" font-size="20.0" text-anchor="middle" font-family="Liberation Sans, Arial, sans-serif" fill="#1e1e1e" stroke="#1e1e1e" stroke-width="0.50">−5</text><text transform="translate(421.2 1096.6) scale(0.870 1)" font-size="20.0" text-anchor="middle" font-family="Liberation Sans, Arial, sans-serif" fill="#1e1e1e" stroke="#1e1e1e" stroke-width="0.50">5</text><text transform="translate(534.1 1096.6) scale(0.870 1)" font-size="20.0" text-anchor="middle" font-family="Liberation Sans, Arial, sans-serif" fill="#1e1e1e" stroke="#1e1e1e" stroke-width="0.50">10</text><text transform="translate(647.0 1096.6) scale(0.870 1)" font-size="20.0" text-anchor="middle" font-family="Liberation Sans, Arial, sans-serif" fill="#1e1e1e" stroke="#1e1e1e" stroke-width="0.50">15</text><text transform="translate(1020.3 1096.6) scale(0.870 1)" font-size="20.0" text-anchor="middle" font-family="Liberation Sans, Arial, sans-serif" fill="#1e1e1e" stroke="#1e1e1e" stroke-width="0.50">−10</text><text transform="translate(1133.0 1096.6) scale(0.870 1)" font-size="20.0" text-anchor="middle" font-family="Liberation Sans, Arial, sans-serif" fill="#1e1e1e" stroke="#1e1e1e" stroke-width="0.50">−5</text><text transform="translate(1360.0 1096.6) scale(0.870 1)" font-size="20.0" text-anchor="middle" font-family="Liberation Sans, Arial, sans-serif" fill="#1e1e1e" stroke="#1e1e1e" stroke-width="0.50">5</text><text transform="translate(1472.8 1096.6) scale(0.870 1)" font-size="20.0" text-anchor="middle" font-family="Liberation Sans, Arial, sans-serif" fill="#1e1e1e" stroke="#1e1e1e" stroke-width="0.50">10</text><text transform="translate(1585.5 1096.6) scale(0.870 1)" font-size="20.0" text-anchor="middle" font-family="Liberation Sans, Arial, sans-serif" fill="#1e1e1e" stroke="#1e1e1e" stroke-width="0.50">15</text><text transform="translate(288.5 998.6) scale(0.870 1)" font-size="20.0" text-anchor="middle" font-family="Liberation Sans, Arial, sans-serif" fill="#1e1e1e" stroke="#1e1e1e" stroke-width="0.50">0.5</text><text transform="translate(288.5 917.4) scale(0.870 1)" font-size="20.0" text-anchor="middle" font-family="Liberation Sans, Arial, sans-serif" fill="#1e1e1e" stroke="#1e1e1e" stroke-width="0.50">1.0</text><text transform="translate(288.5 836.1) scale(0.870 1)" font-size="20.0" text-anchor="middle" font-family="Liberation Sans, Arial, sans-serif" fill="#1e1e1e" stroke="#1e1e1e" stroke-width="0.50">1.5</text><text transform="translate(288.5 754.9) scale(0.870 1)" font-size="20.0" text-anchor="middle" font-family="Liberation Sans, Arial, sans-serif" fill="#1e1e1e" stroke="#1e1e1e" stroke-width="0.50">2.0</text><text transform="translate(1223.0 1006.9) scale(0.870 1)" font-size="20.0" text-anchor="middle" font-family="Liberation Sans, Arial, sans-serif" fill="#1e1e1e" stroke="#1e1e1e" stroke-width="0.50">0.05</text><text transform="translate(1223.0 933.7) scale(0.870 1)" font-size="20.0" text-anchor="middle" font-family="Liberation Sans, Arial, sans-serif" fill="#1e1e1e" stroke="#1e1e1e" stroke-width="0.50">0.10</text><text transform="translate(1223.0 860.5) scale(0.870 1)" font-size="20.0" text-anchor="middle" font-family="Liberation Sans, Arial, sans-serif" fill="#1e1e1e" stroke="#1e1e1e" stroke-width="0.50">0.15</text><text transform="translate(1223.0 787.3) scale(0.870 1)" font-size="20.0" text-anchor="middle" font-family="Liberation Sans, Arial, sans-serif" fill="#1e1e1e" stroke="#1e1e1e" stroke-width="0.50">0.20</text><text transform="translate(1223.0 714.0) scale(0.870 1)" font-size="20.0" text-anchor="middle" font-family="Liberation Sans, Arial, sans-serif" fill="#1e1e1e" stroke="#1e1e1e" stroke-width="0.50">0.25</text><text transform="matrix(0.2161 0 0 0.2691 674.50 1080.30)" font-size="100" font-family="DejaVu Serif, serif" font-style="italic" fill="#111" stroke="#111" stroke-width="2.00">ξ</text><text transform="matrix(0.2143 0 0 0.2691 1613.51 1080.30)" font-size="100" font-family="DejaVu Serif, serif" font-style="italic" fill="#111" stroke="#111" stroke-width="2.01">ξ</text><text transform="matrix(0.2478 0 0 0.2955 285.71 666.65)" font-size="100" font-family="Liberation Serif, serif" fill="#111" stroke="#111" stroke-width="1.79">Φ</text><text transform="matrix(0.2114 0 0 0.1864 304.35 672.85)" font-size="100" font-family="Liberation Serif, serif" fill="#111" stroke="#111" stroke-width="2.38">1</text><text transform="matrix(0.2024 0 0 0.2015 317.84 654.15)" font-size="100" font-family="Liberation Serif, serif" fill="#111" stroke="#111" stroke-width="2.36">2</text><text transform="matrix(0.2108 0 0 0.2955 1226.65 666.65)" font-size="100" font-family="Liberation Serif, serif" fill="#111" stroke="#111" stroke-width="1.92">Ψ</text><text transform="matrix(0.2257 0 0 0.1864 1243.72 672.85)" font-size="100" font-family="Liberation Serif, serif" fill="#111" stroke="#111" stroke-width="2.30">1</text><text transform="matrix(0.2073 0 0 0.2015 1257.42 654.15)" font-size="100" font-family="Liberation Serif, serif" fill="#111" stroke="#111" stroke-width="2.33">2</text><path d="M475.6 716.9 H513.8" stroke="#5e81b5" stroke-width="2.8"/><text transform="translate(526.1 723.0) scale(0.972 1)" font-size="23" font-family="Liberation Sans, Arial, sans-serif" fill="#1a1a1a" stroke="#1a1a1a" stroke-width="0.3">n=−1,m=−1</text><path d="M475.6 759.2 H513.8" stroke="#e19c24" stroke-width="2.8"/><text transform="translate(526.1 765.3) scale(0.972 1)" font-size="23" font-family="Liberation Sans, Arial, sans-serif" fill="#1a1a1a" stroke="#1a1a1a" stroke-width="0.3">n=−1,m=1</text><path d="M475.6 801.3 H513.8" stroke="#8fb032" stroke-width="2.8"/><text transform="translate(526.1 807.4) scale(0.972 1)" font-size="23" font-family="Liberation Sans, Arial, sans-serif" fill="#1a1a1a" stroke="#1a1a1a" stroke-width="0.3">n=1,m=1</text><path d="M1415.4 716.9 H1453.6" stroke="#5e81b5" stroke-width="2.8"/><text transform="translate(1465.9 723.0) scale(0.972 1)" font-size="23" font-family="Liberation Sans, Arial, sans-serif" fill="#1a1a1a" stroke="#1a1a1a" stroke-width="0.3">n=−1,m=−1</text><path d="M1415.4 759.2 H1453.6" stroke="#e19c24" stroke-width="2.8"/><text transform="translate(1465.9 765.3) scale(0.972 1)" font-size="23" font-family="Liberation Sans, Arial, sans-serif" fill="#1a1a1a" stroke="#1a1a1a" stroke-width="0.3">n=−1,m=1</text><path d="M1415.4 801.3 H1453.6" stroke="#8fb032" stroke-width="2.8"/><text transform="translate(1465.9 807.4) scale(0.972 1)" font-size="23" font-family="Liberation Sans, Arial, sans-serif" fill="#1a1a1a" stroke="#1a1a1a" stroke-width="0.3">n=1,m=1</text></svg>
</body></html>
